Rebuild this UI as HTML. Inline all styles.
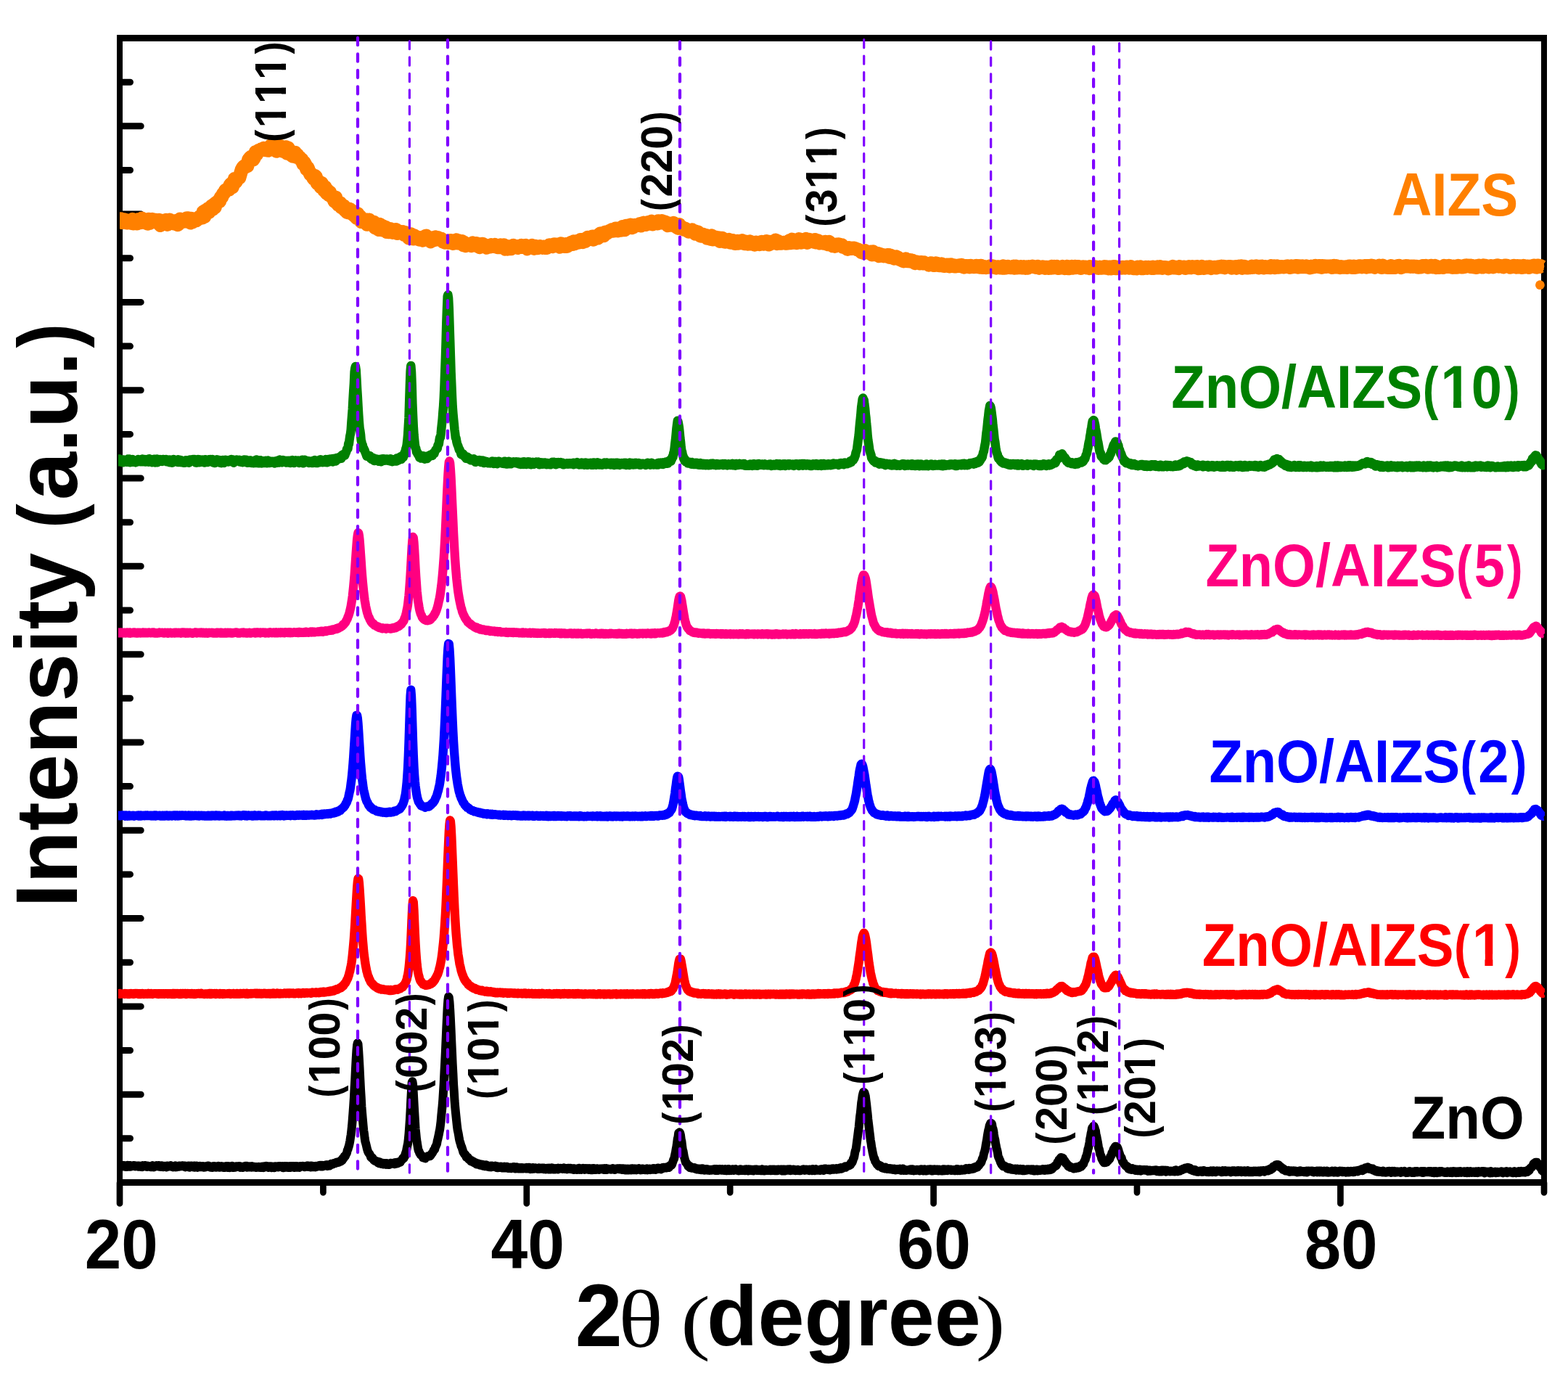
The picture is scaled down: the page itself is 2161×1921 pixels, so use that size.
<!DOCTYPE html>
<html lang="en"><head><meta charset="utf-8"><title>XRD patterns</title>
<style>
html,body{margin:0;padding:0;background:#fff;}
body{width:2161px;height:1921px;overflow:hidden;}
svg{display:block;}
text{font-kerning:none;}
</style></head><body>
<svg width="2161" height="1921" viewBox="0 0 2161 1921">
<rect width="2161" height="1921" fill="#fff"/>
<g fill="#000">
<rect x="161.0" y="48.0" width="1971.0" height="9.0"/>
<rect x="161.0" y="1625.0" width="1971.0" height="9.0"/>
<rect x="161.0" y="48.0" width="8.0" height="1586.0"/>
<rect x="2124.0" y="48.0" width="8.0" height="1586.0"/>
</g>
<path d="M166.5 113.2H179.5M166.5 173.8H194.2M166.5 234.5H179.5M166.5 295.1H194.2M166.5 355.8H179.5M166.5 416.4H194.2M166.5 477.1H179.5M166.5 537.7H194.2M166.5 598.4H179.5M166.5 659.0H194.2M166.5 719.7H179.5M166.5 780.3H194.2M166.5 841.0H179.5M166.5 901.7H194.2M166.5 962.3H179.5M166.5 1023.0H194.2M166.5 1083.6H179.5M166.5 1144.3H194.2M166.5 1204.9H179.5M166.5 1265.6H194.2M166.5 1326.2H179.5M166.5 1386.9H194.2M166.5 1447.5H179.5M166.5 1508.2H194.2M166.5 1568.8H179.5" stroke="#000" stroke-width="9" stroke-linecap="round" fill="none"/>
<path d="M165.0 1630.0V1658.5M445.4 1630.0V1643.3M725.8 1630.0V1658.5M1006.2 1630.0V1643.3M1286.6 1630.0V1658.5M1567.0 1630.0V1643.3M1847.4 1630.0V1658.5M2128.0 1630.0V1643.3" stroke="#000" stroke-width="8.7" stroke-linecap="round" fill="none"/>
<clipPath id="cc"><rect x="163" y="0" width="1966" height="1921"/></clipPath><clipPath id="co"><rect x="165" y="0" width="1970" height="1921"/></clipPath>
<g clip-path="url(#cc)">
<path d="M161.0 1606.4L161.7 1606.0L162.4 1607.2L163.1 1605.8L163.8 1606.9L164.5 1606.5L165.2 1605.7L165.9 1606.8L166.6 1605.7L167.3 1606.7L168.0 1605.8L168.7 1605.9L169.4 1606.7L170.1 1607.6L170.8 1605.9L171.5 1606.2L172.2 1607.2L172.9 1607.9L173.6 1607.1L174.3 1606.6L175.0 1608.0L175.7 1605.8L176.4 1607.8L177.1 1606.4L177.8 1606.1L178.5 1606.0L179.2 1606.5L179.9 1607.7L180.6 1606.2L181.3 1607.1L182.0 1607.3L182.7 1606.6L183.4 1607.1L184.1 1605.9L184.8 1605.9L185.5 1606.3L186.2 1607.4L186.9 1606.8L187.6 1606.6L188.3 1607.2L189.0 1606.9L189.7 1606.5L190.4 1607.7L191.1 1607.5L191.8 1606.4L192.5 1607.2L193.2 1607.0L193.9 1607.9L194.6 1607.6L195.3 1606.5L196.0 1608.2L196.7 1606.1L197.4 1606.8L198.1 1607.6L198.8 1606.2L199.5 1607.0L200.2 1605.9L200.9 1607.5L201.6 1607.7L202.3 1607.2L203.0 1608.0L203.7 1606.6L204.4 1607.6L205.1 1607.3L205.8 1607.3L206.5 1607.0L207.2 1607.9L207.9 1608.2L208.6 1607.1L209.3 1607.5L210.0 1606.1L210.7 1607.6L211.4 1607.5L212.1 1608.3L212.8 1607.9L213.5 1606.6L214.2 1606.9L214.9 1607.6L215.6 1606.0L216.3 1607.1L217.0 1606.4L217.7 1606.3L218.4 1606.1L219.1 1607.8L219.8 1606.3L220.5 1606.6L221.2 1607.0L221.9 1608.1L222.6 1606.2L223.3 1607.1L224.0 1607.4L224.7 1608.2L225.4 1608.0L226.1 1608.1L226.8 1606.7L227.5 1607.1L228.2 1606.9L228.9 1608.2L229.6 1608.4L230.3 1606.5L231.0 1606.5L231.7 1606.7L232.4 1606.7L233.1 1607.3L233.8 1607.5L234.5 1606.8L235.2 1606.1L235.9 1607.1L236.6 1607.0L237.3 1607.5L238.0 1608.4L238.7 1607.8L239.4 1607.4L240.1 1607.7L240.8 1607.8L241.5 1606.3L242.2 1608.4L242.9 1608.1L243.6 1608.3L244.3 1608.1L245.0 1607.2L245.7 1607.2L246.4 1606.5L247.1 1607.8L247.8 1606.4L248.5 1606.4L249.2 1606.7L249.9 1606.6L250.6 1607.1L251.3 1606.4L252.0 1606.3L252.7 1606.6L253.4 1606.5L254.1 1607.2L254.8 1606.4L255.5 1608.4L256.2 1607.8L256.9 1606.7L257.6 1606.9L258.3 1607.2L259.0 1607.2L259.7 1606.6L260.4 1608.4L261.1 1608.7L261.8 1607.5L262.5 1607.5L263.2 1606.6L263.9 1606.6L264.6 1607.2L265.3 1607.0L266.0 1608.4L266.7 1606.8L267.4 1606.4L268.1 1608.7L268.8 1607.7L269.5 1606.7L270.2 1607.7L270.9 1606.5L271.6 1607.7L272.3 1608.8L273.0 1608.5L273.7 1608.1L274.4 1607.1L275.1 1607.3L275.8 1606.8L276.5 1608.3L277.2 1607.7L277.9 1608.3L278.6 1607.3L279.3 1607.0L280.0 1608.4L280.7 1608.8L281.4 1608.5L282.1 1608.4L282.8 1608.5L283.5 1608.3L284.2 1607.0L284.9 1607.7L285.6 1607.4L286.3 1606.6L287.0 1606.6L287.7 1607.2L288.4 1607.2L289.1 1608.2L289.8 1608.8L290.5 1607.6L291.2 1608.8L291.9 1608.9L292.6 1608.9L293.3 1607.4L294.0 1607.1L294.7 1607.1L295.4 1607.1L296.1 1607.1L296.8 1608.1L297.5 1608.8L298.2 1608.6L298.9 1607.8L299.6 1608.2L300.3 1608.5L301.0 1606.8L301.7 1608.2L302.4 1608.8L303.1 1608.5L303.8 1608.4L304.5 1607.8L305.2 1607.1L305.9 1608.6L306.6 1607.5L307.3 1608.6L308.0 1609.0L308.7 1607.6L309.4 1607.6L310.1 1609.0L310.8 1608.4L311.5 1607.1L312.2 1607.0L312.9 1607.1L313.6 1608.9L314.3 1608.7L315.0 1607.1L315.7 1608.7L316.4 1609.1L317.1 1608.3L317.8 1607.6L318.5 1607.9L319.2 1606.9L319.9 1606.7L320.6 1609.0L321.3 1608.2L322.0 1607.9L322.7 1608.9L323.4 1607.7L324.1 1608.8L324.8 1608.6L325.5 1607.2L326.2 1607.3L326.9 1607.4L327.6 1607.3L328.3 1608.1L329.0 1607.3L329.7 1607.7L330.4 1607.0L331.1 1608.9L331.8 1607.6L332.5 1607.8L333.2 1608.1L333.9 1608.9L334.6 1607.7L335.3 1608.9L336.0 1607.9L336.7 1608.0L337.4 1608.0L338.1 1606.8L338.8 1607.8L339.5 1607.2L340.2 1606.8L340.9 1608.7L341.6 1607.2L342.3 1607.9L343.0 1608.5L343.7 1608.1L344.4 1607.5L345.1 1608.0L345.8 1608.1L346.5 1608.7L347.2 1607.0L347.9 1608.1L348.6 1607.4L349.3 1607.4L350.0 1608.6L350.7 1608.0L351.4 1608.1L352.1 1608.6L352.8 1609.0L353.5 1607.9L354.2 1608.3L354.9 1608.0L355.6 1608.0L356.3 1608.5L357.0 1607.9L357.7 1608.1L358.4 1608.0L359.1 1609.1L359.8 1608.5L360.5 1608.9L361.2 1609.1L361.9 1607.4L362.6 1608.2L363.3 1609.1L364.0 1608.8L364.7 1607.2L365.4 1607.1L366.1 1607.9L366.8 1607.0L367.5 1607.4L368.2 1607.0L368.9 1608.4L369.6 1608.7L370.3 1609.0L371.0 1607.2L371.7 1608.6L372.4 1608.4L373.1 1607.2L373.8 1609.0L374.5 1609.2L375.2 1607.4L375.9 1609.1L376.6 1607.8L377.3 1608.0L378.0 1609.2L378.7 1608.8L379.4 1607.2L380.1 1607.9L380.8 1608.1L381.5 1607.7L382.2 1607.3L382.9 1607.6L383.6 1608.6L384.3 1606.9L385.0 1608.2L385.7 1607.9L386.4 1606.9L387.1 1607.6L387.8 1608.3L388.5 1608.1L389.2 1607.0L389.9 1609.2L390.6 1608.7L391.3 1609.2L392.0 1607.1L392.7 1607.5L393.4 1606.9L394.1 1608.7L394.8 1607.5L395.5 1607.1L396.2 1607.8L396.9 1609.0L397.6 1608.8L398.3 1607.4L399.0 1607.1L399.7 1609.0L400.4 1608.1L401.1 1608.5L401.8 1607.0L402.5 1606.9L403.2 1608.4L403.9 1607.8L404.6 1606.9L405.3 1609.0L406.0 1608.3L406.7 1608.6L407.4 1606.9L408.1 1608.8L408.8 1606.9L409.5 1608.8L410.2 1607.8L410.9 1607.5L411.6 1608.0L412.3 1608.9L413.0 1607.3L413.7 1606.9L414.4 1607.9L415.1 1607.2L415.8 1606.9L416.5 1607.0L417.2 1606.7L417.9 1607.0L418.6 1607.3L419.3 1607.3L420.0 1608.3L420.7 1607.2L421.4 1607.7L422.1 1606.9L422.8 1607.3L423.5 1606.5L424.2 1607.0L424.9 1606.4L425.6 1608.1L426.3 1607.7L427.0 1606.8L427.7 1607.5L428.4 1608.5L429.1 1606.5L429.8 1608.2L430.5 1607.3L431.2 1607.4L431.9 1608.2L432.6 1607.1L433.3 1607.3L434.0 1607.7L434.7 1608.4L435.4 1606.8L436.1 1608.0L436.8 1607.6L437.5 1607.4L438.2 1606.8L438.9 1606.6L439.6 1605.9L440.3 1606.0L441.0 1605.8L441.7 1607.4L442.4 1606.2L443.1 1605.9L443.8 1605.7L444.5 1607.4L445.2 1607.4L445.9 1606.9L446.6 1605.9L447.3 1605.7L448.0 1605.7L448.7 1606.1L449.4 1605.3L450.1 1605.9L450.8 1605.3L451.5 1606.9L452.2 1606.8L452.9 1605.7L453.6 1604.9L454.3 1606.5L455.0 1604.8L455.7 1604.7L456.4 1603.8L457.1 1604.5L457.8 1604.6L458.5 1604.5L459.2 1603.6L459.9 1604.1L460.6 1602.7L461.3 1603.1L462.0 1602.5L462.7 1603.0L463.4 1601.9L464.1 1601.5L464.8 1601.9L465.5 1601.4L466.2 1601.9L466.9 1601.4L467.6 1601.6L468.3 1600.9L469.0 1600.6L469.7 1600.5L470.4 1598.7L471.1 1598.0L471.8 1598.9L472.5 1596.2L473.2 1596.8L473.9 1595.7L474.6 1593.3L475.3 1594.1L476.0 1593.1L476.7 1591.1L477.4 1589.9L478.1 1588.4L478.8 1584.9L479.5 1583.7L480.2 1581.3L480.9 1579.3L481.6 1576.1L482.3 1572.6L483.0 1567.8L483.7 1563.8L484.4 1557.7L485.1 1551.2L485.8 1542.6L486.5 1533.4L487.2 1523.6L487.9 1512.8L488.6 1499.4L489.3 1487.4L490.0 1472.6L490.7 1459.3L491.4 1447.9L492.1 1440.4L492.8 1437.2L493.5 1438.7L494.2 1448.3L494.9 1459.6L495.6 1472.4L496.3 1486.6L497.0 1500.7L497.7 1511.9L498.4 1524.9L499.1 1533.8L499.8 1542.0L500.5 1550.0L501.2 1557.6L501.9 1561.9L502.6 1568.0L503.3 1572.7L504.0 1575.1L504.7 1577.9L505.4 1580.9L506.1 1583.8L506.8 1586.1L507.5 1587.6L508.2 1589.3L508.9 1589.4L509.6 1590.8L510.3 1592.3L511.0 1594.5L511.7 1594.4L512.4 1595.9L513.1 1595.3L513.8 1596.1L514.5 1597.2L515.2 1598.8L515.9 1599.4L516.6 1599.8L517.3 1599.3L518.0 1600.3L518.7 1600.5L519.4 1600.8L520.1 1600.3L520.8 1602.5L521.5 1601.1L522.2 1603.2L522.9 1603.3L523.6 1601.3L524.3 1602.5L525.0 1603.6L525.7 1604.1L526.4 1603.0L527.1 1602.7L527.8 1602.7L528.5 1604.5L529.2 1602.9L529.9 1603.8L530.6 1602.9L531.3 1603.9L532.0 1604.9L532.7 1603.0L533.4 1604.7L534.1 1604.0L534.8 1604.9L535.5 1604.5L536.2 1603.4L536.9 1604.9L537.6 1603.9L538.3 1602.8L539.0 1602.7L539.7 1603.8L540.4 1603.7L541.1 1603.3L541.8 1602.8L542.5 1603.2L543.2 1603.0L543.9 1604.2L544.6 1602.0L545.3 1603.7L546.0 1603.7L546.7 1601.8L547.4 1603.5L548.1 1602.8L548.8 1603.0L549.5 1601.2L550.2 1601.1L550.9 1600.7L551.6 1601.8L552.3 1600.3L553.0 1599.2L553.7 1598.7L554.4 1597.7L555.1 1596.3L555.8 1595.5L556.5 1596.2L557.2 1593.6L557.9 1593.7L558.6 1590.3L559.3 1588.2L560.0 1586.3L560.7 1582.4L561.4 1579.1L562.1 1575.9L562.8 1569.9L563.5 1562.6L564.2 1553.3L564.9 1543.1L565.6 1530.4L566.3 1515.6L567.0 1502.8L567.7 1491.6L568.4 1490.3L569.1 1494.5L569.8 1506.0L570.5 1519.3L571.2 1531.9L571.9 1543.4L572.6 1555.6L573.3 1561.8L574.0 1569.2L574.7 1574.1L575.4 1578.2L576.1 1582.6L576.8 1585.8L577.5 1586.3L578.2 1589.0L578.9 1589.6L579.6 1591.4L580.3 1592.0L581.0 1592.2L581.7 1592.8L582.4 1593.4L583.1 1595.5L583.8 1594.8L584.5 1594.3L585.2 1596.1L585.9 1596.3L586.6 1595.0L587.3 1594.2L588.0 1594.1L588.7 1593.7L589.4 1594.0L590.1 1593.1L590.8 1593.1L591.5 1592.7L592.2 1592.9L592.9 1593.1L593.6 1592.1L594.3 1590.6L595.0 1589.8L595.7 1589.2L596.4 1587.9L597.1 1586.7L597.8 1584.9L598.5 1584.1L599.2 1584.2L599.9 1580.6L600.6 1579.7L601.3 1578.0L602.0 1576.4L602.7 1572.3L603.4 1569.7L604.1 1566.5L604.8 1563.4L605.5 1559.6L606.2 1556.4L606.9 1551.2L607.6 1545.6L608.3 1537.2L609.0 1530.0L609.7 1523.4L610.4 1514.5L611.1 1503.0L611.8 1491.5L612.5 1476.9L613.2 1463.5L613.9 1449.4L614.6 1433.1L615.3 1417.1L616.0 1402.3L616.7 1387.8L617.4 1378.1L618.1 1373.4L618.8 1374.7L619.5 1380.6L620.2 1391.2L620.9 1404.0L621.6 1419.1L622.3 1435.5L623.0 1450.8L623.7 1466.4L624.4 1479.4L625.1 1494.2L625.8 1504.5L626.5 1516.6L627.2 1525.1L627.9 1532.4L628.6 1539.2L629.3 1545.8L630.0 1552.4L630.7 1557.5L631.4 1560.5L632.1 1564.3L632.8 1568.9L633.5 1572.1L634.2 1574.5L634.9 1576.6L635.6 1579.8L636.3 1580.4L637.0 1582.9L637.7 1585.0L638.4 1587.8L639.1 1588.4L639.8 1590.3L640.5 1590.5L641.2 1591.0L641.9 1592.0L642.6 1594.7L643.3 1594.9L644.0 1594.7L644.7 1594.8L645.4 1596.6L646.1 1597.7L646.8 1597.7L647.5 1597.8L648.2 1599.3L648.9 1600.4L649.6 1599.2L650.3 1599.2L651.0 1600.3L651.7 1600.9L652.4 1601.9L653.1 1601.1L653.8 1602.8L654.5 1603.0L655.2 1602.7L655.9 1602.3L656.6 1604.4L657.3 1603.0L658.0 1604.5L658.7 1603.3L659.4 1603.5L660.1 1605.0L660.8 1604.1L661.5 1605.8L662.2 1604.9L662.9 1604.3L663.6 1604.6L664.3 1605.2L665.0 1605.9L665.7 1606.8L666.4 1605.0L667.1 1605.7L667.8 1605.4L668.5 1607.3L669.2 1605.4L669.9 1605.3L670.6 1605.5L671.3 1606.4L672.0 1607.7L672.7 1607.7L673.4 1607.5L674.1 1608.2L674.8 1608.1L675.5 1606.8L676.2 1606.5L676.9 1608.4L677.6 1608.0L678.3 1606.4L679.0 1607.9L679.7 1607.3L680.4 1607.4L681.1 1607.3L681.8 1607.0L682.5 1606.7L683.2 1607.4L683.9 1607.6L684.6 1609.1L685.3 1607.2L686.0 1609.3L686.7 1607.5L687.4 1607.9L688.1 1609.1L688.8 1609.1L689.5 1608.2L690.2 1607.4L690.9 1608.4L691.6 1608.2L692.3 1609.6L693.0 1607.9L693.7 1608.3L694.4 1609.6L695.1 1607.6L695.8 1608.6L696.5 1609.6L697.2 1609.5L697.9 1607.8L698.6 1607.8L699.3 1607.9L700.0 1610.0L700.7 1608.4L701.4 1609.6L702.1 1610.0L702.8 1608.7L703.5 1608.6L704.2 1610.2L704.9 1609.5L705.6 1608.6L706.3 1609.8L707.0 1608.8L707.7 1608.7L708.4 1608.1L709.1 1609.9L709.8 1610.4L710.5 1609.7L711.2 1610.5L711.9 1608.3L712.6 1608.8L713.3 1609.4L714.0 1610.6L714.7 1610.6L715.4 1609.3L716.1 1609.0L716.8 1609.4L717.5 1609.6L718.2 1610.6L718.9 1608.9L719.6 1610.4L720.3 1610.3L721.0 1610.5L721.7 1610.4L722.4 1610.0L723.1 1609.3L723.8 1609.3L724.5 1609.5L725.2 1610.5L725.9 1608.8L726.6 1609.1L727.3 1610.5L728.0 1609.3L728.7 1608.8L729.4 1608.8L730.1 1610.0L730.8 1609.5L731.5 1611.1L732.2 1610.9L732.9 1611.1L733.6 1609.4L734.3 1609.0L735.0 1609.0L735.7 1610.0L736.4 1610.5L737.1 1609.9L737.8 1609.4L738.5 1609.9L739.2 1610.4L739.9 1610.5L740.6 1610.7L741.3 1611.0L742.0 1610.5L742.7 1609.3L743.4 1611.0L744.1 1609.7L744.8 1610.4L745.5 1609.9L746.2 1610.8L746.9 1609.5L747.6 1609.6L748.3 1609.6L749.0 1609.4L749.7 1611.2L750.4 1610.5L751.1 1609.9L751.8 1610.1L752.5 1611.5L753.2 1610.3L753.9 1609.7L754.6 1611.1L755.3 1610.7L756.0 1611.6L756.7 1609.4L757.4 1610.3L758.1 1611.2L758.8 1611.2L759.5 1611.4L760.2 1609.3L760.9 1609.9L761.6 1609.5L762.3 1609.7L763.0 1611.6L763.7 1610.7L764.4 1611.5L765.1 1610.2L765.8 1611.4L766.5 1610.4L767.2 1609.9L767.9 1611.2L768.6 1611.6L769.3 1609.6L770.0 1610.8L770.7 1610.9L771.4 1609.9L772.1 1610.3L772.8 1609.7L773.5 1609.9L774.2 1610.0L774.9 1610.9L775.6 1611.0L776.3 1609.9L777.0 1609.5L777.7 1610.2L778.4 1611.1L779.1 1609.9L779.8 1610.2L780.5 1610.0L781.2 1611.4L781.9 1610.8L782.6 1609.7L783.3 1609.8L784.0 1610.5L784.7 1610.8L785.4 1611.1L786.1 1609.8L786.8 1609.9L787.5 1611.2L788.2 1610.5L788.9 1610.2L789.6 1610.3L790.3 1611.9L791.0 1610.3L791.7 1611.0L792.4 1610.5L793.1 1610.7L793.8 1611.7L794.5 1612.1L795.2 1610.6L795.9 1610.2L796.6 1611.4L797.3 1610.2L798.0 1609.7L798.7 1611.9L799.4 1610.7L800.1 1611.7L800.8 1610.7L801.5 1611.9L802.2 1610.9L802.9 1610.1L803.6 1609.8L804.3 1611.1L805.0 1611.3L805.7 1612.0L806.4 1610.0L807.1 1611.3L807.8 1610.7L808.5 1611.0L809.2 1610.2L809.9 1610.5L810.6 1611.1L811.3 1612.0L812.0 1610.1L812.7 1611.0L813.4 1611.8L814.1 1612.2L814.8 1610.3L815.5 1610.2L816.2 1612.1L816.9 1612.2L817.6 1611.0L818.3 1610.0L819.0 1612.1L819.7 1610.8L820.4 1612.1L821.1 1611.4L821.8 1611.9L822.5 1610.3L823.2 1611.8L823.9 1610.5L824.6 1610.9L825.3 1612.0L826.0 1611.9L826.7 1610.4L827.4 1610.5L828.1 1610.9L828.8 1611.2L829.5 1610.9L830.2 1610.3L830.9 1610.6L831.6 1611.7L832.3 1612.1L833.0 1610.1L833.7 1611.3L834.4 1611.8L835.1 1610.1L835.8 1612.0L836.5 1610.3L837.2 1611.4L837.9 1611.3L838.6 1611.5L839.3 1610.8L840.0 1611.0L840.7 1611.4L841.4 1611.1L842.1 1611.6L842.8 1611.1L843.5 1611.1L844.2 1610.1L844.9 1611.5L845.6 1611.2L846.3 1610.6L847.0 1611.9L847.7 1611.9L848.4 1611.2L849.1 1610.5L849.8 1611.2L850.5 1610.3L851.2 1610.4L851.9 1611.1L852.6 1610.3L853.3 1611.2L854.0 1611.3L854.7 1610.2L855.4 1611.6L856.1 1610.3L856.8 1611.9L857.5 1612.0L858.2 1611.3L858.9 1610.2L859.6 1611.3L860.3 1611.0L861.0 1612.4L861.7 1610.5L862.4 1612.2L863.1 1612.5L863.8 1611.9L864.5 1612.1L865.2 1610.6L865.9 1612.5L866.6 1611.3L867.3 1612.4L868.0 1612.3L868.7 1610.6L869.4 1612.1L870.1 1612.4L870.8 1610.3L871.5 1611.0L872.2 1612.0L872.9 1610.5L873.6 1612.3L874.3 1610.8L875.0 1612.1L875.7 1610.5L876.4 1611.4L877.1 1612.4L877.8 1610.7L878.5 1610.8L879.2 1611.4L879.9 1610.9L880.6 1610.2L881.3 1610.6L882.0 1610.5L882.7 1612.4L883.4 1611.8L884.1 1612.3L884.8 1610.5L885.5 1612.0L886.2 1610.4L886.9 1611.4L887.6 1611.6L888.3 1611.0L889.0 1612.2L889.7 1611.4L890.4 1611.5L891.1 1612.2L891.8 1610.3L892.5 1612.4L893.2 1611.5L893.9 1610.9L894.6 1611.9L895.3 1610.6L896.0 1612.3L896.7 1611.3L897.4 1610.8L898.1 1611.7L898.8 1611.0L899.5 1610.3L900.2 1611.6L900.9 1609.9L901.6 1611.8L902.3 1610.4L903.0 1611.3L903.7 1612.1L904.4 1611.1L905.1 1611.2L905.8 1610.4L906.5 1609.6L907.2 1609.6L907.9 1609.8L908.6 1610.9L909.3 1610.4L910.0 1610.5L910.7 1611.4L911.4 1609.5L912.1 1609.7L912.8 1610.6L913.5 1609.0L914.2 1608.8L914.9 1609.6L915.6 1608.9L916.3 1609.3L917.0 1608.9L917.7 1609.6L918.4 1609.5L919.1 1608.4L919.8 1609.2L920.5 1608.5L921.2 1607.4L921.9 1609.0L922.6 1606.9L923.3 1606.2L924.0 1605.5L924.7 1606.1L925.4 1605.9L926.1 1604.6L926.8 1602.4L927.5 1600.6L928.2 1598.1L928.9 1597.3L929.6 1594.4L930.3 1590.8L931.0 1587.9L931.7 1583.4L932.4 1580.1L933.1 1575.0L933.8 1569.3L934.5 1566.7L935.2 1561.4L935.9 1560.8L936.6 1560.3L937.3 1561.5L938.0 1564.2L938.7 1570.0L939.4 1572.7L940.1 1578.6L940.8 1584.0L941.5 1586.2L942.2 1590.0L942.9 1594.2L943.6 1596.7L944.3 1599.4L945.0 1601.7L945.7 1601.8L946.4 1603.4L947.1 1604.5L947.8 1604.8L948.5 1607.5L949.2 1607.8L949.9 1608.2L950.6 1606.9L951.3 1609.3L952.0 1609.3L952.7 1608.9L953.4 1609.8L954.1 1609.3L954.8 1609.0L955.5 1608.9L956.2 1609.3L956.9 1609.0L957.6 1609.9L958.3 1611.0L959.0 1611.0L959.7 1611.4L960.4 1611.2L961.1 1610.2L961.8 1611.0L962.5 1610.8L963.2 1611.7L963.9 1611.1L964.6 1610.5L965.3 1611.5L966.0 1612.3L966.7 1610.6L967.4 1612.2L968.1 1610.2L968.8 1610.8L969.5 1610.8L970.2 1612.1L970.9 1612.6L971.6 1612.1L972.3 1611.2L973.0 1612.5L973.7 1611.2L974.4 1611.0L975.1 1612.7L975.8 1612.0L976.5 1612.2L977.2 1612.1L977.9 1612.9L978.6 1611.7L979.3 1612.6L980.0 1612.3L980.7 1612.7L981.4 1611.7L982.1 1612.4L982.8 1612.1L983.5 1611.5L984.2 1611.2L984.9 1612.2L985.6 1611.0L986.3 1613.0L987.0 1611.1L987.7 1610.9L988.4 1611.1L989.1 1613.1L989.8 1611.7L990.5 1611.2L991.2 1610.9L991.9 1611.0L992.6 1612.5L993.3 1612.4L994.0 1612.6L994.7 1612.7L995.4 1611.1L996.1 1612.4L996.8 1611.8L997.5 1612.9L998.2 1612.9L998.9 1613.1L999.6 1611.1L1000.3 1613.1L1001.0 1613.2L1001.7 1613.3L1002.4 1611.3L1003.1 1611.5L1003.8 1611.3L1004.5 1611.1L1005.2 1613.1L1005.9 1613.0L1006.6 1612.6L1007.3 1613.0L1008.0 1612.6L1008.7 1611.7L1009.4 1611.3L1010.1 1611.3L1010.8 1612.9L1011.5 1611.6L1012.2 1611.8L1012.9 1612.1L1013.6 1611.1L1014.3 1611.7L1015.0 1611.8L1015.7 1612.8L1016.4 1612.0L1017.1 1611.9L1017.8 1613.4L1018.5 1612.3L1019.2 1613.2L1019.9 1612.6L1020.6 1611.2L1021.3 1612.1L1022.0 1612.2L1022.7 1613.0L1023.4 1612.0L1024.1 1612.8L1024.8 1612.4L1025.5 1611.7L1026.2 1613.2L1026.9 1611.4L1027.6 1613.1L1028.3 1611.6L1029.0 1611.2L1029.7 1611.6L1030.4 1613.0L1031.1 1613.5L1031.8 1611.2L1032.5 1612.3L1033.2 1612.3L1033.9 1613.1L1034.6 1611.6L1035.3 1612.4L1036.0 1612.0L1036.7 1613.2L1037.4 1611.8L1038.1 1613.4L1038.8 1611.9L1039.5 1611.7L1040.2 1612.9L1040.9 1612.4L1041.6 1611.5L1042.3 1612.7L1043.0 1611.4L1043.7 1613.1L1044.4 1612.9L1045.1 1613.1L1045.8 1612.7L1046.5 1612.1L1047.2 1612.2L1047.9 1612.1L1048.6 1613.3L1049.3 1611.4L1050.0 1613.3L1050.7 1611.3L1051.4 1611.7L1052.1 1611.8L1052.8 1613.4L1053.5 1612.4L1054.2 1612.1L1054.9 1613.3L1055.6 1611.8L1056.3 1612.3L1057.0 1612.5L1057.7 1613.0L1058.4 1613.0L1059.1 1612.8L1059.8 1612.1L1060.5 1612.0L1061.2 1611.6L1061.9 1613.2L1062.6 1612.8L1063.3 1613.0L1064.0 1611.6L1064.7 1612.3L1065.4 1613.1L1066.1 1612.6L1066.8 1611.5L1067.5 1612.3L1068.2 1613.3L1068.9 1611.8L1069.6 1611.7L1070.3 1611.9L1071.0 1612.9L1071.7 1613.2L1072.4 1611.6L1073.1 1611.6L1073.8 1611.8L1074.5 1612.0L1075.2 1612.4L1075.9 1611.6L1076.6 1612.0L1077.3 1611.6L1078.0 1613.5L1078.7 1612.9L1079.4 1611.4L1080.1 1613.5L1080.8 1611.4L1081.5 1612.1L1082.2 1613.5L1082.9 1613.1L1083.6 1612.9L1084.3 1612.2L1085.0 1611.6L1085.7 1612.7L1086.4 1611.4L1087.1 1611.7L1087.8 1612.1L1088.5 1611.3L1089.2 1612.1L1089.9 1613.1L1090.6 1612.8L1091.3 1612.4L1092.0 1612.7L1092.7 1612.3L1093.4 1611.5L1094.1 1612.6L1094.8 1612.1L1095.5 1612.9L1096.2 1613.3L1096.9 1612.2L1097.6 1612.5L1098.3 1612.9L1099.0 1612.1L1099.7 1611.7L1100.4 1612.9L1101.1 1613.2L1101.8 1613.0L1102.5 1612.8L1103.2 1613.2L1103.9 1612.7L1104.6 1612.6L1105.3 1612.2L1106.0 1611.8L1106.7 1612.6L1107.4 1611.3L1108.1 1612.1L1108.8 1612.9L1109.5 1612.8L1110.2 1612.6L1110.9 1611.6L1111.6 1612.1L1112.3 1612.1L1113.0 1612.5L1113.7 1612.0L1114.4 1612.6L1115.1 1613.2L1115.8 1611.4L1116.5 1612.6L1117.2 1612.8L1117.9 1611.9L1118.6 1612.1L1119.3 1613.3L1120.0 1611.0L1120.7 1612.2L1121.4 1611.3L1122.1 1612.8L1122.8 1613.2L1123.5 1612.1L1124.2 1611.1L1124.9 1612.2L1125.6 1612.1L1126.3 1612.6L1127.0 1612.0L1127.7 1612.3L1128.4 1612.8L1129.1 1612.0L1129.8 1611.7L1130.5 1613.0L1131.2 1611.2L1131.9 1612.3L1132.6 1611.6L1133.3 1612.5L1134.0 1610.9L1134.7 1613.0L1135.4 1611.4L1136.1 1610.7L1136.8 1611.2L1137.5 1611.5L1138.2 1610.5L1138.9 1611.5L1139.6 1611.4L1140.3 1612.1L1141.0 1611.2L1141.7 1611.0L1142.4 1610.8L1143.1 1612.0L1143.8 1612.5L1144.5 1611.5L1145.2 1610.7L1145.9 1612.0L1146.6 1611.0L1147.3 1610.5L1148.0 1610.3L1148.7 1611.8L1149.4 1611.8L1150.1 1611.3L1150.8 1610.9L1151.5 1611.0L1152.2 1610.1L1152.9 1611.8L1153.6 1610.3L1154.3 1610.9L1155.0 1611.3L1155.7 1611.2L1156.4 1610.2L1157.1 1609.7L1157.8 1610.2L1158.5 1609.1L1159.2 1610.7L1159.9 1609.4L1160.6 1610.4L1161.3 1608.9L1162.0 1609.0L1162.7 1608.5L1163.4 1608.8L1164.1 1608.0L1164.8 1607.3L1165.5 1608.8L1166.2 1607.5L1166.9 1607.2L1167.6 1607.0L1168.3 1607.1L1169.0 1606.6L1169.7 1606.6L1170.4 1606.2L1171.1 1604.9L1171.8 1605.6L1172.5 1604.6L1173.2 1601.8L1173.9 1602.6L1174.6 1601.5L1175.3 1599.7L1176.0 1596.4L1176.7 1596.0L1177.4 1593.2L1178.1 1589.0L1178.8 1585.8L1179.5 1584.5L1180.2 1579.8L1180.9 1574.3L1181.6 1569.0L1182.3 1563.7L1183.0 1558.1L1183.7 1553.3L1184.4 1545.8L1185.1 1538.7L1185.8 1533.9L1186.5 1527.1L1187.2 1519.5L1187.9 1515.7L1188.6 1510.4L1189.3 1507.3L1190.0 1505.0L1190.7 1505.0L1191.4 1505.7L1192.1 1508.3L1192.8 1510.6L1193.5 1516.7L1194.2 1522.1L1194.9 1528.8L1195.6 1534.7L1196.3 1542.4L1197.0 1548.2L1197.7 1553.9L1198.4 1559.9L1199.1 1565.3L1199.8 1571.5L1200.5 1575.2L1201.2 1580.6L1201.9 1583.7L1202.6 1587.9L1203.3 1591.0L1204.0 1593.7L1204.7 1596.8L1205.4 1596.7L1206.1 1600.3L1206.8 1600.9L1207.5 1602.3L1208.2 1603.6L1208.9 1604.9L1209.6 1604.5L1210.3 1605.3L1211.0 1607.1L1211.7 1605.5L1212.4 1607.2L1213.1 1607.6L1213.8 1606.5L1214.5 1608.2L1215.2 1608.6L1215.9 1609.5L1216.6 1608.3L1217.3 1610.0L1218.0 1609.1L1218.7 1609.2L1219.4 1610.4L1220.1 1608.5L1220.8 1610.3L1221.5 1610.2L1222.2 1609.6L1222.9 1611.0L1223.6 1609.9L1224.3 1610.3L1225.0 1610.5L1225.7 1611.2L1226.4 1609.9L1227.1 1610.6L1227.8 1610.6L1228.5 1611.0L1229.2 1611.7L1229.9 1610.5L1230.6 1611.9L1231.3 1610.9L1232.0 1611.2L1232.7 1610.7L1233.4 1611.3L1234.1 1612.5L1234.8 1611.8L1235.5 1612.2L1236.2 1611.1L1236.9 1611.1L1237.6 1611.1L1238.3 1611.8L1239.0 1612.0L1239.7 1612.4L1240.4 1610.6L1241.1 1612.3L1241.8 1612.7L1242.5 1611.9L1243.2 1610.8L1243.9 1611.4L1244.6 1610.7L1245.3 1611.2L1246.0 1613.0L1246.7 1612.2L1247.4 1612.4L1248.1 1612.7L1248.8 1613.0L1249.5 1612.3L1250.2 1612.4L1250.9 1612.4L1251.6 1612.6L1252.3 1612.4L1253.0 1612.6L1253.7 1611.5L1254.4 1612.6L1255.1 1612.1L1255.8 1612.9L1256.5 1611.3L1257.2 1611.5L1257.9 1611.2L1258.6 1612.9L1259.3 1613.3L1260.0 1612.7L1260.7 1612.0L1261.4 1613.1L1262.1 1613.0L1262.8 1612.5L1263.5 1611.8L1264.2 1611.9L1264.9 1612.2L1265.6 1612.0L1266.3 1612.2L1267.0 1612.7L1267.7 1613.5L1268.4 1611.4L1269.1 1612.6L1269.8 1611.3L1270.5 1611.5L1271.2 1613.2L1271.9 1612.6L1272.6 1613.5L1273.3 1612.3L1274.0 1611.3L1274.7 1612.2L1275.4 1612.7L1276.1 1613.5L1276.8 1613.6L1277.5 1612.4L1278.2 1612.3L1278.9 1611.5L1279.6 1612.8L1280.3 1611.8L1281.0 1611.7L1281.7 1611.3L1282.4 1611.3L1283.1 1613.0L1283.8 1611.6L1284.5 1613.6L1285.2 1611.5L1285.9 1613.4L1286.6 1611.6L1287.3 1611.4L1288.0 1613.0L1288.7 1611.9L1289.4 1613.1L1290.1 1611.8L1290.8 1611.4L1291.5 1613.2L1292.2 1613.0L1292.9 1613.4L1293.6 1613.1L1294.3 1611.5L1295.0 1612.8L1295.7 1613.0L1296.4 1612.4L1297.1 1613.5L1297.8 1611.9L1298.5 1613.6L1299.2 1613.0L1299.9 1611.3L1300.6 1611.3L1301.3 1612.8L1302.0 1613.2L1302.7 1611.4L1303.4 1612.0L1304.1 1613.0L1304.8 1611.6L1305.5 1613.3L1306.2 1612.4L1306.9 1611.3L1307.6 1612.1L1308.3 1612.5L1309.0 1612.2L1309.7 1612.8L1310.4 1611.5L1311.1 1613.0L1311.8 1612.0L1312.5 1612.6L1313.2 1612.6L1313.9 1612.1L1314.6 1612.0L1315.3 1612.9L1316.0 1613.3L1316.7 1612.9L1317.4 1612.3L1318.1 1611.6L1318.8 1611.0L1319.5 1613.2L1320.2 1612.5L1320.9 1612.8L1321.6 1611.6L1322.3 1612.2L1323.0 1613.1L1323.7 1612.7L1324.4 1612.1L1325.1 1611.4L1325.8 1611.6L1326.5 1612.7L1327.2 1611.4L1327.9 1612.1L1328.6 1611.8L1329.3 1612.5L1330.0 1612.2L1330.7 1610.9L1331.4 1610.2L1332.1 1610.7L1332.8 1611.0L1333.5 1611.3L1334.2 1611.8L1334.9 1611.9L1335.6 1609.8L1336.3 1611.6L1337.0 1611.4L1337.7 1611.4L1338.4 1610.6L1339.1 1609.7L1339.8 1611.0L1340.5 1610.7L1341.2 1610.3L1341.9 1610.6L1342.6 1609.1L1343.3 1608.2L1344.0 1609.1L1344.7 1609.4L1345.4 1607.6L1346.1 1608.6L1346.8 1608.6L1347.5 1606.5L1348.2 1606.8L1348.9 1606.4L1349.6 1605.1L1350.3 1603.6L1351.0 1602.8L1351.7 1602.8L1352.4 1601.6L1353.1 1599.2L1353.8 1596.6L1354.5 1596.3L1355.2 1593.9L1355.9 1590.1L1356.6 1588.1L1357.3 1585.8L1358.0 1582.4L1358.7 1577.9L1359.4 1574.0L1360.1 1570.3L1360.8 1565.3L1361.5 1561.4L1362.2 1557.5L1362.9 1555.3L1363.6 1551.6L1364.3 1549.9L1365.0 1548.1L1365.7 1548.1L1366.4 1547.8L1367.1 1549.2L1367.8 1553.9L1368.5 1555.5L1369.2 1558.4L1369.9 1563.6L1370.6 1567.9L1371.3 1570.4L1372.0 1575.4L1372.7 1578.6L1373.4 1582.5L1374.1 1584.6L1374.8 1587.7L1375.5 1592.7L1376.2 1594.9L1376.9 1596.1L1377.6 1598.3L1378.3 1599.2L1379.0 1602.0L1379.7 1602.4L1380.4 1604.8L1381.1 1605.3L1381.8 1606.2L1382.5 1607.3L1383.2 1606.2L1383.9 1606.2L1384.6 1607.0L1385.3 1607.4L1386.0 1607.5L1386.7 1607.7L1387.4 1609.2L1388.1 1610.2L1388.8 1609.4L1389.5 1610.8L1390.2 1610.9L1390.9 1609.0L1391.6 1610.5L1392.3 1610.1L1393.0 1609.6L1393.7 1611.7L1394.4 1610.2L1395.1 1611.0L1395.8 1611.3L1396.5 1612.1L1397.2 1611.5L1397.9 1611.0L1398.6 1611.2L1399.3 1610.6L1400.0 1612.6L1400.7 1612.7L1401.4 1610.9L1402.1 1610.5L1402.8 1611.1L1403.5 1611.4L1404.2 1612.7L1404.9 1612.8L1405.6 1612.7L1406.3 1610.8L1407.0 1612.6L1407.7 1612.5L1408.4 1612.3L1409.1 1613.2L1409.8 1611.0L1410.5 1611.2L1411.2 1612.7L1411.9 1613.2L1412.6 1612.6L1413.3 1611.7L1414.0 1612.4L1414.7 1612.8L1415.4 1611.3L1416.1 1611.8L1416.8 1611.7L1417.5 1611.4L1418.2 1612.2L1418.9 1611.5L1419.6 1611.7L1420.3 1611.5L1421.0 1612.8L1421.7 1611.2L1422.4 1612.9L1423.1 1611.6L1423.8 1611.2L1424.5 1613.4L1425.2 1611.7L1425.9 1613.4L1426.6 1613.2L1427.3 1613.3L1428.0 1611.5L1428.7 1612.2L1429.4 1611.4L1430.1 1613.4L1430.8 1613.1L1431.5 1612.6L1432.2 1612.2L1432.9 1611.9L1433.6 1613.0L1434.3 1612.2L1435.0 1612.5L1435.7 1611.4L1436.4 1611.5L1437.1 1611.1L1437.8 1612.7L1438.5 1612.2L1439.2 1611.2L1439.9 1612.9L1440.6 1611.4L1441.3 1611.7L1442.0 1611.1L1442.7 1611.3L1443.4 1612.6L1444.1 1611.3L1444.8 1610.8L1445.5 1611.5L1446.2 1611.0L1446.9 1612.2L1447.6 1610.2L1448.3 1612.0L1449.0 1609.6L1449.7 1611.3L1450.4 1610.4L1451.1 1608.9L1451.8 1609.1L1452.5 1608.1L1453.2 1607.4L1453.9 1606.5L1454.6 1606.1L1455.3 1606.7L1456.0 1605.8L1456.7 1604.6L1457.4 1601.5L1458.1 1600.9L1458.8 1601.2L1459.5 1598.1L1460.2 1598.7L1460.9 1596.8L1461.6 1597.8L1462.3 1595.0L1463.0 1596.7L1463.7 1595.7L1464.4 1595.6L1465.1 1595.9L1465.8 1598.7L1466.5 1599.0L1467.2 1599.2L1467.9 1600.8L1468.6 1603.0L1469.3 1602.4L1470.0 1604.2L1470.7 1604.1L1471.4 1605.0L1472.1 1607.1L1472.8 1607.6L1473.5 1606.9L1474.2 1607.1L1474.9 1607.5L1475.6 1609.1L1476.3 1609.1L1477.0 1608.7L1477.7 1608.7L1478.4 1609.8L1479.1 1610.1L1479.8 1610.4L1480.5 1609.8L1481.2 1608.9L1481.9 1608.5L1482.6 1610.0L1483.3 1609.1L1484.0 1609.7L1484.7 1608.0L1485.4 1609.6L1486.1 1608.3L1486.8 1609.2L1487.5 1609.0L1488.2 1607.8L1488.9 1606.3L1489.6 1608.0L1490.3 1606.4L1491.0 1606.8L1491.7 1604.7L1492.4 1603.6L1493.1 1604.2L1493.8 1601.9L1494.5 1600.1L1495.2 1599.0L1495.9 1597.8L1496.6 1594.3L1497.3 1593.2L1498.0 1590.5L1498.7 1587.8L1499.4 1583.6L1500.1 1581.7L1500.8 1578.3L1501.5 1574.6L1502.2 1569.3L1502.9 1566.4L1503.6 1561.8L1504.3 1559.2L1505.0 1554.6L1505.7 1554.3L1506.4 1553.1L1507.1 1551.6L1507.8 1552.3L1508.5 1553.9L1509.2 1556.3L1509.9 1558.1L1510.6 1563.8L1511.3 1565.8L1512.0 1569.5L1512.7 1573.1L1513.4 1577.2L1514.1 1582.0L1514.8 1583.4L1515.5 1586.5L1516.2 1590.6L1516.9 1591.7L1517.6 1593.4L1518.3 1596.6L1519.0 1598.0L1519.7 1599.1L1520.4 1600.6L1521.1 1599.9L1521.8 1602.3L1522.5 1602.3L1523.2 1600.9L1523.9 1601.1L1524.6 1601.8L1525.3 1601.5L1526.0 1600.5L1526.7 1599.5L1527.4 1599.3L1528.1 1597.7L1528.8 1597.7L1529.5 1597.0L1530.2 1593.9L1530.9 1593.4L1531.6 1592.1L1532.3 1589.0L1533.0 1588.8L1533.7 1587.3L1534.4 1584.3L1535.1 1582.8L1535.8 1582.5L1536.5 1580.7L1537.2 1579.8L1537.9 1580.9L1538.6 1580.7L1539.3 1580.3L1540.0 1581.2L1540.7 1582.9L1541.4 1584.8L1542.1 1587.9L1542.8 1589.4L1543.5 1591.7L1544.2 1593.4L1544.9 1595.3L1545.6 1595.2L1546.3 1598.0L1547.0 1600.7L1547.7 1602.1L1548.4 1601.7L1549.1 1603.3L1549.8 1604.9L1550.5 1605.2L1551.2 1606.4L1551.9 1606.1L1552.6 1607.6L1553.3 1608.3L1554.0 1607.6L1554.7 1608.3L1555.4 1610.7L1556.1 1610.5L1556.8 1611.2L1557.5 1610.7L1558.2 1611.4L1558.9 1611.7L1559.6 1611.9L1560.3 1610.0L1561.0 1611.6L1561.7 1610.9L1562.4 1612.0L1563.1 1611.1L1563.8 1611.8L1564.5 1612.9L1565.2 1612.2L1565.9 1611.4L1566.6 1612.1L1567.3 1612.0L1568.0 1613.3L1568.7 1611.8L1569.4 1611.9L1570.1 1612.8L1570.8 1611.6L1571.5 1612.7L1572.2 1613.7L1572.9 1612.6L1573.6 1612.1L1574.3 1612.6L1575.0 1612.8L1575.7 1611.9L1576.4 1611.9L1577.1 1612.0L1577.8 1612.4L1578.5 1612.7L1579.2 1612.4L1579.9 1612.4L1580.6 1612.0L1581.3 1613.1L1582.0 1613.9L1582.7 1613.3L1583.4 1613.3L1584.1 1613.5L1584.8 1612.4L1585.5 1613.7L1586.2 1613.1L1586.9 1613.3L1587.6 1613.5L1588.3 1613.2L1589.0 1612.8L1589.7 1612.7L1590.4 1612.6L1591.1 1613.3L1591.8 1613.1L1592.5 1613.6L1593.2 1612.2L1593.9 1613.0L1594.6 1614.3L1595.3 1612.8L1596.0 1613.6L1596.7 1613.4L1597.4 1612.9L1598.1 1614.6L1598.8 1613.0L1599.5 1614.1L1600.2 1612.7L1600.9 1612.5L1601.6 1614.4L1602.3 1613.4L1603.0 1612.5L1603.7 1613.3L1604.4 1613.4L1605.1 1614.1L1605.8 1612.6L1606.5 1612.9L1607.2 1614.7L1607.9 1614.1L1608.6 1612.8L1609.3 1613.2L1610.0 1613.2L1610.7 1614.0L1611.4 1613.9L1612.1 1614.4L1612.8 1614.4L1613.5 1613.7L1614.2 1614.2L1614.9 1614.2L1615.6 1614.2L1616.3 1613.5L1617.0 1614.3L1617.7 1614.1L1618.4 1614.6L1619.1 1612.7L1619.8 1614.4L1620.5 1612.3L1621.2 1614.1L1621.9 1613.7L1622.6 1613.4L1623.3 1614.4L1624.0 1613.4L1624.7 1612.9L1625.4 1613.7L1626.1 1613.7L1626.8 1612.9L1627.5 1612.1L1628.2 1612.1L1628.9 1611.8L1629.6 1612.1L1630.3 1610.8L1631.0 1610.7L1631.7 1610.8L1632.4 1610.1L1633.1 1609.7L1633.8 1610.5L1634.5 1610.5L1635.2 1609.5L1635.9 1609.4L1636.6 1608.8L1637.3 1609.2L1638.0 1609.0L1638.7 1610.2L1639.4 1610.5L1640.1 1609.7L1640.8 1612.0L1641.5 1610.9L1642.2 1612.4L1642.9 1612.7L1643.6 1613.3L1644.3 1611.8L1645.0 1612.5L1645.7 1613.9L1646.4 1611.9L1647.1 1612.1L1647.8 1613.5L1648.5 1613.5L1649.2 1614.6L1649.9 1614.3L1650.6 1613.8L1651.3 1614.9L1652.0 1613.8L1652.7 1613.8L1653.4 1614.3L1654.1 1613.6L1654.8 1613.5L1655.5 1614.1L1656.2 1613.5L1656.9 1615.0L1657.6 1614.4L1658.3 1614.0L1659.0 1613.0L1659.7 1613.7L1660.4 1613.7L1661.1 1614.1L1661.8 1614.2L1662.5 1614.9L1663.2 1615.1L1663.9 1614.0L1664.6 1613.9L1665.3 1614.3L1666.0 1615.2L1666.7 1613.7L1667.4 1614.1L1668.1 1614.8L1668.8 1613.3L1669.5 1613.6L1670.2 1615.2L1670.9 1614.9L1671.6 1614.1L1672.3 1613.2L1673.0 1615.0L1673.7 1614.6L1674.4 1614.9L1675.1 1615.3L1675.8 1615.0L1676.5 1613.9L1677.2 1613.3L1677.9 1613.6L1678.6 1614.2L1679.3 1614.1L1680.0 1613.4L1680.7 1613.4L1681.4 1614.5L1682.1 1614.4L1682.8 1613.8L1683.5 1615.3L1684.2 1614.5L1684.9 1613.1L1685.6 1613.9L1686.3 1614.9L1687.0 1613.7L1687.7 1614.6L1688.4 1613.0L1689.1 1613.7L1689.8 1615.0L1690.5 1614.4L1691.2 1614.6L1691.9 1613.5L1692.6 1614.2L1693.3 1614.3L1694.0 1613.6L1694.7 1614.5L1695.4 1614.3L1696.1 1615.4L1696.8 1614.4L1697.5 1614.0L1698.2 1613.3L1698.9 1613.4L1699.6 1614.8L1700.3 1613.3L1701.0 1613.3L1701.7 1613.4L1702.4 1614.3L1703.1 1615.0L1703.8 1614.5L1704.5 1615.0L1705.2 1613.2L1705.9 1613.1L1706.6 1614.9L1707.3 1613.8L1708.0 1614.7L1708.7 1613.9L1709.4 1613.4L1710.1 1613.7L1710.8 1613.3L1711.5 1615.2L1712.2 1614.4L1712.9 1613.9L1713.6 1614.1L1714.3 1614.0L1715.0 1613.2L1715.7 1615.2L1716.4 1614.4L1717.1 1615.3L1717.8 1614.1L1718.5 1614.5L1719.2 1613.6L1719.9 1613.1L1720.6 1615.3L1721.3 1615.1L1722.0 1613.8L1722.7 1615.2L1723.4 1615.0L1724.1 1613.8L1724.8 1614.5L1725.5 1615.3L1726.2 1614.2L1726.9 1615.3L1727.6 1613.6L1728.3 1614.0L1729.0 1614.7L1729.7 1613.6L1730.4 1613.8L1731.1 1615.1L1731.8 1614.2L1732.5 1614.9L1733.2 1613.6L1733.9 1613.4L1734.6 1613.8L1735.3 1613.4L1736.0 1615.3L1736.7 1613.7L1737.4 1614.3L1738.1 1613.2L1738.8 1614.2L1739.5 1613.8L1740.2 1613.8L1740.9 1613.0L1741.6 1613.1L1742.3 1614.7L1743.0 1613.5L1743.7 1613.2L1744.4 1613.0L1745.1 1613.1L1745.8 1612.9L1746.5 1612.3L1747.2 1613.6L1747.9 1612.6L1748.6 1611.9L1749.3 1612.9L1750.0 1611.0L1750.7 1611.1L1751.4 1612.0L1752.1 1609.8L1752.8 1610.0L1753.5 1610.4L1754.2 1609.7L1754.9 1607.5L1755.6 1607.4L1756.3 1607.7L1757.0 1606.4L1757.7 1607.3L1758.4 1605.2L1759.1 1606.7L1759.8 1605.5L1760.5 1604.9L1761.2 1605.6L1761.9 1605.1L1762.6 1606.9L1763.3 1606.3L1764.0 1608.4L1764.7 1608.2L1765.4 1608.3L1766.1 1608.6L1766.8 1610.1L1767.5 1609.7L1768.2 1611.8L1768.9 1610.5L1769.6 1611.9L1770.3 1612.3L1771.0 1612.0L1771.7 1613.5L1772.4 1612.9L1773.1 1613.7L1773.8 1613.7L1774.5 1613.2L1775.2 1613.5L1775.9 1612.9L1776.6 1613.2L1777.3 1614.9L1778.0 1613.7L1778.7 1614.5L1779.4 1613.2L1780.1 1614.4L1780.8 1613.9L1781.5 1614.3L1782.2 1613.8L1782.9 1613.3L1783.6 1613.9L1784.3 1613.7L1785.0 1613.4L1785.7 1614.9L1786.4 1613.8L1787.1 1614.1L1787.8 1615.4L1788.5 1615.0L1789.2 1615.3L1789.9 1615.3L1790.6 1613.5L1791.3 1613.9L1792.0 1613.3L1792.7 1614.9L1793.4 1614.8L1794.1 1614.1L1794.8 1614.2L1795.5 1614.8L1796.2 1614.9L1796.9 1613.9L1797.6 1615.3L1798.3 1614.1L1799.0 1614.8L1799.7 1613.7L1800.4 1613.6L1801.1 1615.5L1801.8 1615.1L1802.5 1615.0L1803.2 1613.4L1803.9 1613.4L1804.6 1613.7L1805.3 1613.8L1806.0 1614.1L1806.7 1614.2L1807.4 1613.4L1808.1 1614.1L1808.8 1614.9L1809.5 1613.8L1810.2 1615.4L1810.9 1614.7L1811.6 1615.1L1812.3 1614.0L1813.0 1614.4L1813.7 1615.0L1814.4 1614.2L1815.1 1613.4L1815.8 1615.4L1816.5 1615.3L1817.2 1614.1L1817.9 1613.5L1818.6 1615.4L1819.3 1614.9L1820.0 1613.5L1820.7 1614.0L1821.4 1613.7L1822.1 1615.3L1822.8 1613.9L1823.5 1615.6L1824.2 1615.2L1824.9 1613.6L1825.6 1615.1L1826.3 1614.4L1827.0 1615.2L1827.7 1615.4L1828.4 1614.1L1829.1 1613.6L1829.8 1615.7L1830.5 1614.4L1831.2 1615.7L1831.9 1615.1L1832.6 1615.2L1833.3 1615.4L1834.0 1614.9L1834.7 1614.5L1835.4 1613.6L1836.1 1615.1L1836.8 1614.5L1837.5 1614.7L1838.2 1615.7L1838.9 1613.8L1839.6 1615.3L1840.3 1613.6L1841.0 1615.1L1841.7 1615.4L1842.4 1614.1L1843.1 1614.8L1843.8 1615.8L1844.5 1615.0L1845.2 1614.8L1845.9 1614.1L1846.6 1613.6L1847.3 1614.3L1848.0 1614.5L1848.7 1613.9L1849.4 1614.2L1850.1 1613.8L1850.8 1615.2L1851.5 1615.1L1852.2 1614.0L1852.9 1614.0L1853.6 1614.7L1854.3 1614.5L1855.0 1615.7L1855.7 1614.3L1856.4 1614.2L1857.1 1615.6L1857.8 1613.8L1858.5 1614.8L1859.2 1614.2L1859.9 1615.4L1860.6 1614.7L1861.3 1615.2L1862.0 1613.8L1862.7 1615.0L1863.4 1614.8L1864.1 1614.5L1864.8 1615.2L1865.5 1615.3L1866.2 1613.5L1866.9 1613.9L1867.6 1614.0L1868.3 1613.6L1869.0 1613.2L1869.7 1613.6L1870.4 1613.3L1871.1 1614.4L1871.8 1613.7L1872.5 1612.7L1873.2 1613.1L1873.9 1613.2L1874.6 1612.7L1875.3 1612.0L1876.0 1611.5L1876.7 1611.1L1877.4 1613.2L1878.1 1612.3L1878.8 1610.4L1879.5 1611.6L1880.2 1611.9L1880.9 1610.6L1881.6 1609.2L1882.3 1609.9L1883.0 1609.6L1883.7 1608.9L1884.4 1609.6L1885.1 1608.3L1885.8 1610.6L1886.5 1610.0L1887.2 1610.1L1887.9 1611.1L1888.6 1610.6L1889.3 1610.0L1890.0 1610.2L1890.7 1610.3L1891.4 1610.3L1892.1 1612.5L1892.8 1612.9L1893.5 1611.9L1894.2 1611.9L1894.9 1613.3L1895.6 1614.0L1896.3 1614.4L1897.0 1612.8L1897.7 1614.5L1898.4 1614.7L1899.1 1614.6L1899.8 1613.8L1900.5 1613.5L1901.2 1615.1L1901.9 1614.0L1902.6 1614.2L1903.3 1614.7L1904.0 1614.3L1904.7 1615.4L1905.4 1614.0L1906.1 1613.6L1906.8 1614.9L1907.5 1615.0L1908.2 1615.5L1908.9 1615.2L1909.6 1615.7L1910.3 1615.8L1911.0 1614.8L1911.7 1614.8L1912.4 1614.0L1913.1 1614.3L1913.8 1615.0L1914.5 1613.8L1915.2 1615.3L1915.9 1614.0L1916.6 1614.7L1917.3 1616.0L1918.0 1613.9L1918.7 1613.7L1919.4 1614.7L1920.1 1614.1L1920.8 1615.4L1921.5 1613.7L1922.2 1615.7L1922.9 1615.7L1923.6 1615.6L1924.3 1614.7L1925.0 1614.4L1925.7 1615.3L1926.4 1614.9L1927.1 1614.7L1927.8 1614.5L1928.5 1614.8L1929.2 1615.3L1929.9 1615.7L1930.6 1615.9L1931.3 1614.1L1932.0 1614.4L1932.7 1614.8L1933.4 1615.1L1934.1 1614.6L1934.8 1614.2L1935.5 1613.9L1936.2 1614.5L1936.9 1614.9L1937.6 1616.1L1938.3 1615.9L1939.0 1615.8L1939.7 1616.1L1940.4 1616.1L1941.1 1615.2L1941.8 1615.7L1942.5 1613.9L1943.2 1615.4L1943.9 1615.2L1944.6 1614.5L1945.3 1615.1L1946.0 1616.1L1946.7 1614.9L1947.4 1615.3L1948.1 1614.5L1948.8 1614.6L1949.5 1615.9L1950.2 1613.9L1950.9 1614.3L1951.6 1615.4L1952.3 1614.9L1953.0 1614.0L1953.7 1615.4L1954.4 1614.7L1955.1 1615.2L1955.8 1614.8L1956.5 1615.1L1957.2 1615.2L1957.9 1614.8L1958.6 1614.1L1959.3 1614.3L1960.0 1616.0L1960.7 1615.1L1961.4 1614.1L1962.1 1615.9L1962.8 1614.4L1963.5 1614.1L1964.2 1615.1L1964.9 1614.4L1965.6 1615.0L1966.3 1615.2L1967.0 1614.4L1967.7 1615.2L1968.4 1614.1L1969.1 1615.1L1969.8 1615.3L1970.5 1614.0L1971.2 1614.8L1971.9 1614.0L1972.6 1614.9L1973.3 1615.9L1974.0 1615.2L1974.7 1615.6L1975.4 1615.7L1976.1 1614.1L1976.8 1616.3L1977.5 1615.6L1978.2 1614.1L1978.9 1615.9L1979.6 1614.8L1980.3 1614.3L1981.0 1616.2L1981.7 1615.2L1982.4 1615.8L1983.1 1614.2L1983.8 1615.8L1984.5 1614.0L1985.2 1614.5L1985.9 1614.8L1986.6 1613.9L1987.3 1615.3L1988.0 1614.4L1988.7 1614.6L1989.4 1615.6L1990.1 1614.9L1990.8 1616.0L1991.5 1615.4L1992.2 1616.0L1992.9 1615.3L1993.6 1616.1L1994.3 1616.0L1995.0 1614.3L1995.7 1615.7L1996.4 1614.7L1997.1 1615.8L1997.8 1615.6L1998.5 1615.9L1999.2 1614.2L1999.9 1614.8L2000.6 1615.7L2001.3 1616.2L2002.0 1615.7L2002.7 1614.1L2003.4 1615.4L2004.1 1614.2L2004.8 1615.3L2005.5 1615.9L2006.2 1614.2L2006.9 1616.2L2007.6 1615.6L2008.3 1614.6L2009.0 1614.4L2009.7 1615.0L2010.4 1616.0L2011.1 1615.4L2011.8 1614.2L2012.5 1614.0L2013.2 1614.2L2013.9 1615.9L2014.6 1614.4L2015.3 1615.3L2016.0 1614.7L2016.7 1615.6L2017.4 1614.9L2018.1 1614.3L2018.8 1616.1L2019.5 1615.3L2020.2 1615.6L2020.9 1615.9L2021.6 1616.3L2022.3 1614.0L2023.0 1614.8L2023.7 1614.4L2024.4 1615.2L2025.1 1616.1L2025.8 1615.9L2026.5 1614.1L2027.2 1614.4L2027.9 1616.0L2028.6 1615.6L2029.3 1615.0L2030.0 1615.2L2030.7 1614.4L2031.4 1616.0L2032.1 1615.0L2032.8 1616.1L2033.5 1615.5L2034.2 1614.2L2034.9 1614.8L2035.6 1614.5L2036.3 1616.2L2037.0 1615.4L2037.7 1614.1L2038.4 1614.4L2039.1 1614.9L2039.8 1615.2L2040.5 1615.4L2041.2 1615.0L2041.9 1614.9L2042.6 1614.1L2043.3 1615.4L2044.0 1614.8L2044.7 1614.1L2045.4 1615.1L2046.1 1616.4L2046.8 1614.2L2047.5 1614.4L2048.2 1615.7L2048.9 1614.7L2049.6 1614.7L2050.3 1615.3L2051.0 1614.7L2051.7 1615.4L2052.4 1615.3L2053.1 1616.4L2053.8 1616.4L2054.5 1614.1L2055.2 1615.4L2055.9 1615.9L2056.6 1616.2L2057.3 1615.9L2058.0 1615.6L2058.7 1615.6L2059.4 1614.9L2060.1 1614.7L2060.8 1616.0L2061.5 1616.2L2062.2 1616.3L2062.9 1615.7L2063.6 1614.8L2064.3 1615.9L2065.0 1615.9L2065.7 1615.3L2066.4 1615.6L2067.1 1614.9L2067.8 1615.4L2068.5 1615.1L2069.2 1614.2L2069.9 1614.9L2070.6 1614.9L2071.3 1616.4L2072.0 1615.2L2072.7 1615.0L2073.4 1614.7L2074.1 1614.6L2074.8 1614.9L2075.5 1614.4L2076.2 1614.1L2076.9 1616.2L2077.6 1615.2L2078.3 1615.1L2079.0 1615.4L2079.7 1614.8L2080.4 1614.5L2081.1 1614.2L2081.8 1614.8L2082.5 1614.8L2083.2 1615.8L2083.9 1615.4L2084.6 1616.3L2085.3 1614.9L2086.0 1616.2L2086.7 1615.4L2087.4 1614.2L2088.1 1614.4L2088.8 1615.4L2089.5 1616.4L2090.2 1614.9L2090.9 1615.8L2091.6 1615.0L2092.3 1616.1L2093.0 1614.1L2093.7 1615.1L2094.4 1616.1L2095.1 1614.6L2095.8 1614.5L2096.5 1613.9L2097.2 1614.2L2097.9 1614.5L2098.6 1615.5L2099.3 1614.3L2100.0 1614.7L2100.7 1614.1L2101.4 1615.0L2102.1 1615.5L2102.8 1614.9L2103.5 1613.6L2104.2 1614.7L2104.9 1615.0L2105.6 1613.8L2106.3 1612.1L2107.0 1613.4L2107.7 1612.9L2108.4 1611.0L2109.1 1609.7L2109.8 1608.9L2110.5 1608.8L2111.2 1608.6L2111.9 1607.0L2112.6 1606.6L2113.3 1603.9L2114.0 1603.2L2114.7 1603.5L2115.4 1602.7L2116.1 1601.8L2116.8 1602.5L2117.5 1601.9L2118.2 1601.8L2118.9 1603.3L2119.6 1603.4L2120.3 1605.8L2121.0 1606.1L2121.7 1607.6L2122.4 1608.8L2123.1 1609.0L2123.8 1610.4L2124.5 1610.1L2125.2 1613.0L2125.9 1612.8L2126.6 1614.3L2127.3 1612.5L2128.0 1614.2" fill="none" stroke="#000000" stroke-width="12" stroke-linejoin="round" stroke-linecap="butt"/>
<path d="M161.0 1369.8L161.7 1369.3L162.4 1369.0L163.1 1369.1L163.8 1369.1L164.5 1369.8L165.2 1369.0L165.9 1369.9L166.6 1369.4L167.3 1369.5L168.0 1369.6L168.7 1369.6L169.4 1369.7L170.1 1369.6L170.8 1369.3L171.5 1369.8L172.2 1369.2L172.9 1369.8L173.6 1369.8L174.3 1369.8L175.0 1369.3L175.7 1369.8L176.4 1370.1L177.1 1369.5L177.8 1369.2L178.5 1369.5L179.2 1370.0L179.9 1369.1L180.6 1368.9L181.3 1369.5L182.0 1369.7L182.7 1369.8L183.4 1369.4L184.1 1370.1L184.8 1369.2L185.5 1369.8L186.2 1369.0L186.9 1369.0L187.6 1369.1L188.3 1369.0L189.0 1369.5L189.7 1369.6L190.4 1369.1L191.1 1370.1L191.8 1369.4L192.5 1369.1L193.2 1369.1L193.9 1369.8L194.6 1370.0L195.3 1369.1L196.0 1368.9L196.7 1369.8L197.4 1369.2L198.1 1370.1L198.8 1369.5L199.5 1369.6L200.2 1369.3L200.9 1369.8L201.6 1369.4L202.3 1369.3L203.0 1370.0L203.7 1369.0L204.4 1369.8L205.1 1369.0L205.8 1369.7L206.5 1369.4L207.2 1369.9L207.9 1369.0L208.6 1369.6L209.3 1369.4L210.0 1370.0L210.7 1370.0L211.4 1369.6L212.1 1369.1L212.8 1369.2L213.5 1369.2L214.2 1369.4L214.9 1369.2L215.6 1369.1L216.3 1369.8L217.0 1369.7L217.7 1369.2L218.4 1370.1L219.1 1369.1L219.8 1369.6L220.5 1369.1L221.2 1369.9L221.9 1369.9L222.6 1369.2L223.3 1369.8L224.0 1369.9L224.7 1369.2L225.4 1369.3L226.1 1369.5L226.8 1370.0L227.5 1369.1L228.2 1369.7L228.9 1369.6L229.6 1369.4L230.3 1369.6L231.0 1369.9L231.7 1369.1L232.4 1369.9L233.1 1369.3L233.8 1369.8L234.5 1369.9L235.2 1369.1L235.9 1369.9L236.6 1370.1L237.3 1369.2L238.0 1368.9L238.7 1369.0L239.4 1370.1L240.1 1368.9L240.8 1370.0L241.5 1369.1L242.2 1369.8L242.9 1369.0L243.6 1369.1L244.3 1369.7L245.0 1369.0L245.7 1369.3L246.4 1370.0L247.1 1369.8L247.8 1370.0L248.5 1370.1L249.2 1368.9L249.9 1369.2L250.6 1369.8L251.3 1369.7L252.0 1368.9L252.7 1369.5L253.4 1369.2L254.1 1369.4L254.8 1369.0L255.5 1368.9L256.2 1370.1L256.9 1369.3L257.6 1370.0L258.3 1369.0L259.0 1369.5L259.7 1369.1L260.4 1369.4L261.1 1369.1L261.8 1369.7L262.5 1369.1L263.2 1369.8L263.9 1369.5L264.6 1369.0L265.3 1369.3L266.0 1369.5L266.7 1370.0L267.4 1369.3L268.1 1369.2L268.8 1370.1L269.5 1369.9L270.2 1369.8L270.9 1369.2L271.6 1369.1L272.3 1369.2L273.0 1369.0L273.7 1368.9L274.4 1369.5L275.1 1369.4L275.8 1369.5L276.5 1369.3L277.2 1368.9L277.9 1369.7L278.6 1369.7L279.3 1369.5L280.0 1369.5L280.7 1369.7L281.4 1370.1L282.1 1369.9L282.8 1369.7L283.5 1369.4L284.2 1369.3L284.9 1369.4L285.6 1370.0L286.3 1369.3L287.0 1369.3L287.7 1369.4L288.4 1369.0L289.1 1370.1L289.8 1368.9L290.5 1369.6L291.2 1370.0L291.9 1369.2L292.6 1369.6L293.3 1369.3L294.0 1369.2L294.7 1369.1L295.4 1369.0L296.1 1369.9L296.8 1369.8L297.5 1370.0L298.2 1368.9L298.9 1369.7L299.6 1369.3L300.3 1369.6L301.0 1369.5L301.7 1369.2L302.4 1370.0L303.1 1368.9L303.8 1369.8L304.5 1369.9L305.2 1369.5L305.9 1369.6L306.6 1370.1L307.3 1369.1L308.0 1369.6L308.7 1369.8L309.4 1369.3L310.1 1369.7L310.8 1369.3L311.5 1369.5L312.2 1369.6L312.9 1369.7L313.6 1369.2L314.3 1369.6L315.0 1369.5L315.7 1369.1L316.4 1369.6L317.1 1369.2L317.8 1369.9L318.5 1369.4L319.2 1369.7L319.9 1369.5L320.6 1369.3L321.3 1369.0L322.0 1368.9L322.7 1369.9L323.4 1369.4L324.1 1369.4L324.8 1369.4L325.5 1369.7L326.2 1369.0L326.9 1369.0L327.6 1369.7L328.3 1369.3L329.0 1369.5L329.7 1369.7L330.4 1369.8L331.1 1369.8L331.8 1368.8L332.5 1369.2L333.2 1369.7L333.9 1369.7L334.6 1368.9L335.3 1368.9L336.0 1369.0L336.7 1368.8L337.4 1369.1L338.1 1369.7L338.8 1369.3L339.5 1369.3L340.2 1368.8L340.9 1369.2L341.6 1369.9L342.3 1369.5L343.0 1369.2L343.7 1369.3L344.4 1369.7L345.1 1369.6L345.8 1368.9L346.5 1369.5L347.2 1369.1L347.9 1369.3L348.6 1369.0L349.3 1369.1L350.0 1369.1L350.7 1369.1L351.4 1368.7L352.1 1368.9L352.8 1369.4L353.5 1368.7L354.2 1368.9L354.9 1369.5L355.6 1369.0L356.3 1369.0L357.0 1368.9L357.7 1369.7L358.4 1368.8L359.1 1369.4L359.8 1369.7L360.5 1368.9L361.2 1369.1L361.9 1369.6L362.6 1369.4L363.3 1369.1L364.0 1368.7L364.7 1369.1L365.4 1369.1L366.1 1369.5L366.8 1369.0L367.5 1369.1L368.2 1369.4L368.9 1369.6L369.6 1369.0L370.3 1369.0L371.0 1369.3L371.7 1369.7L372.4 1368.8L373.1 1369.7L373.8 1369.4L374.5 1369.0L375.2 1369.4L375.9 1368.9L376.6 1368.6L377.3 1369.4L378.0 1369.0L378.7 1369.2L379.4 1369.1L380.1 1369.6L380.8 1369.4L381.5 1368.5L382.2 1369.2L382.9 1369.1L383.6 1369.0L384.3 1369.5L385.0 1369.0L385.7 1369.0L386.4 1369.5L387.1 1369.0L387.8 1369.0L388.5 1369.1L389.2 1369.4L389.9 1369.2L390.6 1369.3L391.3 1368.9L392.0 1368.5L392.7 1369.2L393.4 1369.1L394.1 1369.3L394.8 1369.3L395.5 1368.5L396.2 1368.6L396.9 1368.4L397.6 1369.3L398.3 1368.5L399.0 1368.4L399.7 1369.2L400.4 1369.0L401.1 1368.4L401.8 1369.1L402.5 1369.1L403.2 1368.8L403.9 1368.3L404.6 1369.1L405.3 1368.7L406.0 1368.9L406.7 1369.4L407.4 1369.2L408.1 1369.2L408.8 1368.4L409.5 1368.6L410.2 1368.8L410.9 1368.1L411.6 1369.3L412.3 1368.4L413.0 1368.4L413.7 1368.5L414.4 1368.4L415.1 1369.1L415.8 1368.7L416.5 1368.6L417.2 1368.5L417.9 1368.0L418.6 1368.3L419.3 1369.0L420.0 1368.9L420.7 1368.9L421.4 1368.2L422.1 1368.1L422.8 1367.9L423.5 1368.5L424.2 1368.2L424.9 1368.3L425.6 1368.3L426.3 1368.4L427.0 1368.1L427.7 1368.6L428.4 1367.9L429.1 1368.7L429.8 1368.3L430.5 1367.6L431.2 1367.9L431.9 1368.1L432.6 1368.0L433.3 1368.1L434.0 1367.8L434.7 1367.7L435.4 1368.3L436.1 1367.6L436.8 1368.1L437.5 1368.2L438.2 1367.9L438.9 1367.7L439.6 1368.2L440.3 1367.6L441.0 1368.0L441.7 1367.0L442.4 1367.4L443.1 1367.6L443.8 1366.8L444.5 1367.7L445.2 1366.7L445.9 1367.3L446.6 1366.7L447.3 1367.5L448.0 1367.0L448.7 1367.3L449.4 1366.8L450.1 1366.9L450.8 1366.8L451.5 1366.3L452.2 1366.1L452.9 1366.8L453.6 1365.8L454.3 1366.6L455.0 1365.7L455.7 1365.4L456.4 1365.3L457.1 1366.0L457.8 1366.0L458.5 1365.2L459.2 1365.3L459.9 1364.7L460.6 1365.3L461.3 1364.8L462.0 1364.0L462.7 1363.6L463.4 1364.2L464.1 1363.1L464.8 1363.8L465.5 1362.9L466.2 1362.5L466.9 1362.6L467.6 1361.9L468.3 1361.8L469.0 1360.9L469.7 1361.4L470.4 1360.2L471.1 1360.3L471.8 1358.9L472.5 1359.0L473.2 1358.6L473.9 1357.1L474.6 1355.8L475.3 1355.4L476.0 1354.7L476.7 1353.1L477.4 1352.2L478.1 1350.3L478.8 1349.2L479.5 1347.8L480.2 1345.4L480.9 1343.5L481.6 1340.3L482.3 1338.3L483.0 1334.2L483.7 1331.4L484.4 1327.2L485.1 1322.1L485.8 1315.9L486.5 1308.9L487.2 1301.3L487.9 1293.0L488.6 1282.7L489.3 1272.1L490.0 1259.0L490.7 1246.9L491.4 1235.1L492.1 1223.8L492.8 1215.5L493.5 1210.7L494.2 1211.1L494.9 1216.1L495.6 1225.5L496.3 1236.7L497.0 1248.3L497.7 1261.7L498.4 1272.5L499.1 1284.2L499.8 1294.4L500.5 1302.3L501.2 1310.5L501.9 1316.7L502.6 1321.6L503.3 1326.8L504.0 1331.1L504.7 1334.5L505.4 1338.3L506.1 1340.4L506.8 1343.6L507.5 1345.2L508.2 1346.8L508.9 1349.1L509.6 1350.0L510.3 1351.9L511.0 1353.4L511.7 1354.2L512.4 1355.0L513.1 1355.4L513.8 1356.7L514.5 1356.9L515.2 1358.2L515.9 1358.2L516.6 1359.3L517.3 1359.5L518.0 1360.0L518.7 1360.7L519.4 1360.5L520.1 1360.9L520.8 1362.1L521.5 1361.7L522.2 1362.6L522.9 1362.9L523.6 1362.6L524.3 1362.4L525.0 1362.6L525.7 1363.7L526.4 1362.9L527.1 1363.5L527.8 1363.7L528.5 1363.3L529.2 1363.9L529.9 1363.6L530.6 1364.1L531.3 1364.2L532.0 1364.1L532.7 1364.0L533.4 1364.3L534.1 1364.1L534.8 1364.0L535.5 1364.2L536.2 1364.9L536.9 1364.5L537.6 1365.0L538.3 1363.9L539.0 1365.0L539.7 1364.5L540.4 1364.8L541.1 1364.5L541.8 1364.6L542.5 1364.0L543.2 1364.5L543.9 1363.7L544.6 1363.7L545.3 1363.3L546.0 1363.7L546.7 1363.7L547.4 1363.2L548.1 1363.8L548.8 1362.6L549.5 1363.0L550.2 1362.3L550.9 1362.4L551.6 1362.3L552.3 1361.9L553.0 1360.7L553.7 1360.4L554.4 1360.3L555.1 1360.2L555.8 1358.3L556.5 1358.2L557.2 1357.3L557.9 1356.4L558.6 1354.5L559.3 1353.5L560.0 1351.3L560.7 1349.6L561.4 1345.8L562.1 1343.5L562.8 1338.8L563.5 1333.5L564.2 1326.5L564.9 1318.4L565.6 1308.4L566.3 1295.3L567.0 1279.3L567.7 1263.2L568.4 1248.7L569.1 1241.2L569.8 1243.3L570.5 1254.3L571.2 1270.5L571.9 1286.6L572.6 1300.6L573.3 1312.1L574.0 1321.5L574.7 1329.3L575.4 1335.2L576.1 1339.6L576.8 1343.1L577.5 1345.5L578.2 1348.3L578.9 1350.5L579.6 1351.9L580.3 1352.3L581.0 1354.1L581.7 1354.5L582.4 1355.0L583.1 1356.5L583.8 1356.5L584.5 1357.0L585.2 1356.5L585.9 1357.5L586.6 1357.8L587.3 1357.8L588.0 1357.6L588.7 1357.7L589.4 1357.5L590.1 1357.1L590.8 1356.7L591.5 1357.0L592.2 1356.6L592.9 1356.4L593.6 1355.3L594.3 1355.6L595.0 1354.6L595.7 1354.6L596.4 1352.9L597.1 1353.2L597.8 1352.3L598.5 1350.8L599.2 1350.5L599.9 1348.7L600.6 1347.5L601.3 1346.5L602.0 1344.8L602.7 1343.5L603.4 1342.3L604.1 1340.0L604.8 1337.8L605.5 1334.9L606.2 1332.6L606.9 1329.4L607.6 1325.7L608.3 1321.9L609.0 1317.2L609.7 1311.4L610.4 1304.9L611.1 1298.7L611.8 1290.9L612.5 1281.2L613.2 1271.0L613.9 1259.3L614.6 1245.7L615.3 1229.6L616.0 1213.5L616.7 1195.3L617.4 1177.4L618.1 1161.1L618.8 1145.9L619.5 1135.5L620.2 1130.4L620.9 1131.6L621.6 1139.0L622.3 1151.8L623.0 1168.4L623.7 1185.9L624.4 1203.5L625.1 1220.6L625.8 1236.9L626.5 1252.0L627.2 1264.6L627.9 1276.2L628.6 1286.3L629.3 1294.1L630.0 1302.4L630.7 1308.2L631.4 1314.9L632.1 1319.2L632.8 1323.7L633.5 1328.5L634.2 1331.2L634.9 1334.1L635.6 1337.6L636.3 1339.7L637.0 1342.2L637.7 1343.6L638.4 1345.5L639.1 1347.6L639.8 1348.6L640.5 1350.5L641.2 1350.7L641.9 1352.6L642.6 1352.8L643.3 1354.1L644.0 1354.4L644.7 1355.3L645.4 1357.0L646.1 1357.1L646.8 1358.1L647.5 1358.0L648.2 1358.7L648.9 1358.9L649.6 1359.9L650.3 1360.7L651.0 1360.7L651.7 1360.9L652.4 1361.9L653.1 1362.2L653.8 1362.3L654.5 1361.9L655.2 1362.8L655.9 1362.9L656.6 1363.7L657.3 1363.3L658.0 1363.8L658.7 1364.0L659.4 1363.9L660.1 1364.3L660.8 1364.7L661.5 1365.1L662.2 1364.8L662.9 1364.8L663.6 1365.7L664.3 1364.7L665.0 1365.8L665.7 1365.7L666.4 1365.7L667.1 1365.7L667.8 1366.2L668.5 1366.5L669.2 1366.4L669.9 1366.5L670.6 1365.7L671.3 1366.2L672.0 1366.0L672.7 1367.1L673.4 1367.1L674.1 1366.3L674.8 1366.9L675.5 1367.0L676.2 1366.4L676.9 1366.9L677.6 1367.4L678.3 1367.3L679.0 1367.0L679.7 1367.6L680.4 1367.1L681.1 1367.5L681.8 1367.4L682.5 1368.1L683.2 1367.7L683.9 1368.0L684.6 1367.9L685.3 1367.6L686.0 1368.3L686.7 1368.1L687.4 1368.1L688.1 1367.6L688.8 1367.5L689.5 1368.1L690.2 1368.4L690.9 1368.4L691.6 1367.9L692.3 1367.7L693.0 1368.2L693.7 1368.6L694.4 1367.8L695.1 1368.5L695.8 1367.9L696.5 1368.1L697.2 1367.8L697.9 1368.1L698.6 1368.2L699.3 1369.0L700.0 1369.0L700.7 1368.1L701.4 1368.3L702.1 1369.0L702.8 1368.2L703.5 1368.3L704.2 1368.5L704.9 1368.1L705.6 1368.3L706.3 1368.5L707.0 1368.5L707.7 1369.2L708.4 1368.4L709.1 1368.4L709.8 1369.2L710.5 1368.7L711.2 1369.2L711.9 1369.0L712.6 1369.2L713.3 1368.6L714.0 1368.4L714.7 1369.2L715.4 1368.9L716.1 1369.0L716.8 1369.1L717.5 1369.2L718.2 1368.7L718.9 1368.8L719.6 1369.5L720.3 1369.0L721.0 1368.8L721.7 1369.2L722.4 1368.7L723.1 1369.4L723.8 1368.5L724.5 1369.5L725.2 1369.2L725.9 1368.9L726.6 1369.6L727.3 1368.8L728.0 1368.8L728.7 1368.6L729.4 1369.2L730.1 1369.5L730.8 1369.4L731.5 1369.1L732.2 1369.6L732.9 1368.7L733.6 1369.0L734.3 1369.4L735.0 1369.8L735.7 1369.4L736.4 1369.5L737.1 1369.6L737.8 1369.1L738.5 1369.8L739.2 1369.6L739.9 1369.1L740.6 1369.2L741.3 1369.7L742.0 1369.1L742.7 1368.9L743.4 1369.8L744.1 1369.4L744.8 1369.4L745.5 1369.6L746.2 1369.8L746.9 1368.9L747.6 1369.2L748.3 1368.9L749.0 1369.3L749.7 1369.4L750.4 1369.8L751.1 1369.6L751.8 1369.5L752.5 1369.3L753.2 1369.5L753.9 1369.2L754.6 1369.9L755.3 1369.8L756.0 1369.9L756.7 1369.0L757.4 1369.7L758.1 1369.8L758.8 1369.5L759.5 1370.0L760.2 1370.0L760.9 1369.8L761.6 1369.9L762.3 1369.7L763.0 1370.0L763.7 1369.1L764.4 1369.8L765.1 1369.8L765.8 1369.7L766.5 1369.3L767.2 1369.0L767.9 1369.7L768.6 1369.9L769.3 1369.3L770.0 1369.2L770.7 1369.2L771.4 1369.1L772.1 1369.8L772.8 1370.2L773.5 1369.9L774.2 1369.4L774.9 1369.8L775.6 1369.1L776.3 1370.0L777.0 1369.4L777.7 1369.0L778.4 1369.8L779.1 1369.2L779.8 1369.4L780.5 1369.1L781.2 1369.6L781.9 1369.7L782.6 1370.0L783.3 1369.1L784.0 1370.0L784.7 1369.2L785.4 1369.3L786.1 1369.8L786.8 1369.5L787.5 1369.5L788.2 1369.7L788.9 1369.3L789.6 1370.0L790.3 1369.3L791.0 1370.1L791.7 1370.1L792.4 1369.7L793.1 1369.1L793.8 1370.1L794.5 1369.2L795.2 1369.8L795.9 1369.7L796.6 1369.2L797.3 1369.9L798.0 1370.0L798.7 1369.9L799.4 1369.6L800.1 1369.8L800.8 1369.9L801.5 1369.4L802.2 1370.2L802.9 1370.4L803.6 1370.1L804.3 1370.3L805.0 1369.6L805.7 1370.4L806.4 1369.3L807.1 1369.8L807.8 1369.4L808.5 1369.7L809.2 1370.0L809.9 1370.1L810.6 1369.8L811.3 1369.6L812.0 1369.4L812.7 1369.7L813.4 1369.6L814.1 1369.4L814.8 1370.1L815.5 1369.8L816.2 1369.7L816.9 1369.5L817.6 1370.1L818.3 1369.5L819.0 1369.5L819.7 1369.9L820.4 1370.1L821.1 1370.4L821.8 1370.1L822.5 1370.4L823.2 1370.3L823.9 1370.1L824.6 1370.1L825.3 1369.3L826.0 1369.5L826.7 1369.3L827.4 1370.3L828.1 1370.1L828.8 1370.0L829.5 1369.6L830.2 1369.7L830.9 1369.4L831.6 1370.0L832.3 1370.4L833.0 1369.6L833.7 1369.3L834.4 1369.5L835.1 1369.7L835.8 1370.3L836.5 1370.2L837.2 1369.8L837.9 1369.4L838.6 1369.4L839.3 1369.4L840.0 1370.2L840.7 1369.8L841.4 1370.5L842.1 1370.4L842.8 1370.2L843.5 1369.8L844.2 1370.3L844.9 1369.4L845.6 1369.4L846.3 1369.9L847.0 1369.9L847.7 1369.5L848.4 1369.6L849.1 1369.3L849.8 1370.4L850.5 1370.1L851.2 1370.4L851.9 1370.4L852.6 1369.8L853.3 1370.1L854.0 1369.7L854.7 1370.2L855.4 1370.3L856.1 1369.4L856.8 1369.3L857.5 1369.5L858.2 1370.0L858.9 1369.7L859.6 1369.3L860.3 1370.3L861.0 1370.2L861.7 1369.8L862.4 1369.3L863.1 1370.3L863.8 1369.9L864.5 1369.3L865.2 1369.6L865.9 1370.0L866.6 1370.3L867.3 1369.8L868.0 1370.0L868.7 1369.5L869.4 1369.6L870.1 1370.3L870.8 1369.7L871.5 1369.4L872.2 1370.0L872.9 1369.4L873.6 1369.5L874.3 1369.8L875.0 1369.9L875.7 1370.0L876.4 1370.1L877.1 1369.8L877.8 1369.3L878.5 1370.1L879.2 1369.3L879.9 1369.8L880.6 1369.7L881.3 1370.0L882.0 1370.1L882.7 1369.5L883.4 1370.0L884.1 1370.0L884.8 1369.7L885.5 1369.3L886.2 1370.2L886.9 1369.9L887.6 1369.2L888.3 1369.4L889.0 1370.3L889.7 1369.4L890.4 1369.6L891.1 1370.0L891.8 1370.1L892.5 1369.8L893.2 1369.9L893.9 1369.1L894.6 1369.1L895.3 1370.2L896.0 1370.0L896.7 1369.0L897.4 1369.0L898.1 1369.2L898.8 1370.0L899.5 1369.2L900.2 1369.7L900.9 1370.0L901.6 1369.6L902.3 1369.9L903.0 1369.1L903.7 1368.9L904.4 1368.8L905.1 1369.6L905.8 1368.8L906.5 1369.8L907.2 1369.5L907.9 1368.8L908.6 1369.5L909.3 1368.7L910.0 1369.0L910.7 1368.5L911.4 1369.3L912.1 1369.3L912.8 1369.3L913.5 1368.1L914.2 1369.0L914.9 1368.6L915.6 1368.8L916.3 1368.3L917.0 1368.4L917.7 1368.2L918.4 1368.3L919.1 1367.3L919.8 1367.1L920.5 1367.6L921.2 1367.0L921.9 1366.9L922.6 1366.2L923.3 1366.7L924.0 1365.5L924.7 1366.0L925.4 1365.4L926.1 1364.3L926.8 1363.1L927.5 1362.7L928.2 1360.9L928.9 1359.6L929.6 1357.3L930.3 1356.0L931.0 1352.7L931.7 1349.3L932.4 1345.3L933.1 1341.9L933.8 1337.6L934.5 1333.0L935.2 1327.7L935.9 1324.3L936.6 1321.7L937.3 1321.4L938.0 1321.5L938.7 1324.6L939.4 1328.8L940.1 1332.9L940.8 1336.6L941.5 1341.1L942.2 1345.3L942.9 1349.7L943.6 1352.8L944.3 1355.5L945.0 1357.7L945.7 1359.5L946.4 1361.4L947.1 1362.7L947.8 1364.0L948.5 1364.6L949.2 1365.4L949.9 1366.1L950.6 1366.5L951.3 1366.7L952.0 1366.2L952.7 1367.3L953.4 1367.7L954.1 1367.5L954.8 1368.2L955.5 1367.5L956.2 1368.6L956.9 1368.1L957.6 1368.6L958.3 1368.2L959.0 1368.3L959.7 1368.5L960.4 1368.5L961.1 1368.3L961.8 1368.8L962.5 1369.6L963.2 1369.2L963.9 1369.6L964.6 1369.5L965.3 1369.6L966.0 1369.9L966.7 1369.6L967.4 1369.1L968.1 1369.1L968.8 1369.3L969.5 1368.9L970.2 1369.2L970.9 1370.0L971.6 1370.1L972.3 1369.4L973.0 1369.9L973.7 1370.0L974.4 1370.1L975.1 1370.0L975.8 1369.7L976.5 1369.2L977.2 1370.1L977.9 1369.5L978.6 1369.9L979.3 1369.6L980.0 1369.8L980.7 1370.4L981.4 1369.4L982.1 1369.9L982.8 1370.0L983.5 1369.9L984.2 1370.4L984.9 1369.8L985.6 1370.4L986.3 1370.1L987.0 1370.5L987.7 1369.4L988.4 1369.6L989.1 1369.7L989.8 1370.4L990.5 1369.4L991.2 1369.7L991.9 1370.2L992.6 1370.6L993.3 1369.6L994.0 1369.9L994.7 1370.2L995.4 1370.2L996.1 1370.3L996.8 1370.3L997.5 1369.7L998.2 1369.7L998.9 1369.5L999.6 1370.3L1000.3 1369.7L1001.0 1369.7L1001.7 1370.6L1002.4 1370.2L1003.1 1370.2L1003.8 1370.2L1004.5 1370.2L1005.2 1370.3L1005.9 1369.8L1006.6 1369.5L1007.3 1369.6L1008.0 1369.5L1008.7 1369.9L1009.4 1369.7L1010.1 1369.6L1010.8 1370.1L1011.5 1370.7L1012.2 1370.3L1012.9 1369.8L1013.6 1370.4L1014.3 1369.7L1015.0 1369.6L1015.7 1369.9L1016.4 1370.0L1017.1 1370.3L1017.8 1370.0L1018.5 1370.4L1019.2 1369.6L1019.9 1370.6L1020.6 1369.9L1021.3 1370.5L1022.0 1369.6L1022.7 1370.5L1023.4 1369.8L1024.1 1370.6L1024.8 1370.5L1025.5 1370.3L1026.2 1369.9L1026.9 1369.5L1027.6 1369.8L1028.3 1370.6L1029.0 1369.7L1029.7 1370.3L1030.4 1370.2L1031.1 1370.3L1031.8 1369.8L1032.5 1369.7L1033.2 1369.7L1033.9 1370.7L1034.6 1370.0L1035.3 1370.3L1036.0 1370.2L1036.7 1369.8L1037.4 1369.6L1038.1 1369.6L1038.8 1370.6L1039.5 1369.7L1040.2 1370.7L1040.9 1370.0L1041.6 1370.4L1042.3 1369.7L1043.0 1370.5L1043.7 1369.9L1044.4 1370.0L1045.1 1370.2L1045.8 1369.7L1046.5 1369.9L1047.2 1370.5L1047.9 1369.9L1048.6 1370.0L1049.3 1370.5L1050.0 1369.8L1050.7 1369.8L1051.4 1369.8L1052.1 1370.0L1052.8 1370.0L1053.5 1370.3L1054.2 1370.1L1054.9 1370.6L1055.6 1369.6L1056.3 1370.4L1057.0 1370.6L1057.7 1369.8L1058.4 1369.6L1059.1 1370.1L1059.8 1369.7L1060.5 1370.1L1061.2 1370.4L1061.9 1369.7L1062.6 1369.7L1063.3 1370.1L1064.0 1369.8L1064.7 1369.8L1065.4 1370.1L1066.1 1369.7L1066.8 1369.6L1067.5 1370.0L1068.2 1370.1L1068.9 1370.6L1069.6 1370.2L1070.3 1369.6L1071.0 1369.8L1071.7 1370.4L1072.4 1370.2L1073.1 1370.6L1073.8 1370.7L1074.5 1370.5L1075.2 1369.6L1075.9 1370.6L1076.6 1370.1L1077.3 1369.8L1078.0 1369.7L1078.7 1370.5L1079.4 1369.8L1080.1 1369.6L1080.8 1369.8L1081.5 1370.6L1082.2 1370.1L1082.9 1370.4L1083.6 1369.6L1084.3 1370.0L1085.0 1369.9L1085.7 1369.7L1086.4 1370.3L1087.1 1369.9L1087.8 1369.6L1088.5 1370.7L1089.2 1370.1L1089.9 1369.7L1090.6 1369.5L1091.3 1370.3L1092.0 1370.1L1092.7 1369.5L1093.4 1370.0L1094.1 1370.4L1094.8 1370.1L1095.5 1369.7L1096.2 1370.1L1096.9 1370.2L1097.6 1370.2L1098.3 1369.6L1099.0 1370.4L1099.7 1370.6L1100.4 1370.3L1101.1 1370.5L1101.8 1369.9L1102.5 1370.5L1103.2 1369.6L1103.9 1369.7L1104.6 1370.1L1105.3 1370.5L1106.0 1369.5L1106.7 1369.7L1107.4 1369.4L1108.1 1369.9L1108.8 1369.6L1109.5 1369.6L1110.2 1370.3L1110.9 1370.1L1111.6 1370.5L1112.3 1369.8L1113.0 1370.2L1113.7 1369.4L1114.4 1370.5L1115.1 1369.6L1115.8 1369.9L1116.5 1369.9L1117.2 1370.4L1117.9 1369.9L1118.6 1370.5L1119.3 1370.0L1120.0 1369.5L1120.7 1370.3L1121.4 1369.5L1122.1 1370.5L1122.8 1369.8L1123.5 1369.5L1124.2 1370.4L1124.9 1369.6L1125.6 1369.7L1126.3 1369.6L1127.0 1370.0L1127.7 1369.2L1128.4 1369.6L1129.1 1369.3L1129.8 1370.1L1130.5 1369.1L1131.2 1369.8L1131.9 1369.4L1132.6 1369.6L1133.3 1369.7L1134.0 1369.9L1134.7 1369.2L1135.4 1369.3L1136.1 1369.1L1136.8 1370.1L1137.5 1369.1L1138.2 1369.1L1138.9 1369.5L1139.6 1369.6L1140.3 1369.9L1141.0 1368.9L1141.7 1369.1L1142.4 1369.0L1143.1 1369.5L1143.8 1369.3L1144.5 1369.2L1145.2 1369.7L1145.9 1369.4L1146.6 1369.6L1147.3 1369.7L1148.0 1368.9L1148.7 1369.6L1149.4 1369.0L1150.1 1368.5L1150.8 1369.5L1151.5 1368.5L1152.2 1368.3L1152.9 1368.6L1153.6 1368.5L1154.3 1369.3L1155.0 1369.1L1155.7 1368.5L1156.4 1368.5L1157.1 1368.9L1157.8 1368.7L1158.5 1368.5L1159.2 1368.2L1159.9 1367.6L1160.6 1367.7L1161.3 1368.1L1162.0 1367.9L1162.7 1368.0L1163.4 1368.0L1164.1 1367.9L1164.8 1366.9L1165.5 1366.6L1166.2 1367.4L1166.9 1366.8L1167.6 1366.1L1168.3 1366.5L1169.0 1365.7L1169.7 1365.3L1170.4 1365.1L1171.1 1364.9L1171.8 1364.7L1172.5 1363.4L1173.2 1363.6L1173.9 1362.7L1174.6 1361.6L1175.3 1360.8L1176.0 1359.7L1176.7 1357.3L1177.4 1356.2L1178.1 1354.4L1178.8 1352.2L1179.5 1349.5L1180.2 1345.9L1180.9 1343.4L1181.6 1339.4L1182.3 1334.6L1183.0 1330.3L1183.7 1326.1L1184.4 1320.1L1185.1 1315.1L1185.8 1310.4L1186.5 1305.1L1187.2 1299.3L1187.9 1295.4L1188.6 1291.1L1189.3 1288.6L1190.0 1287.0L1190.7 1285.7L1191.4 1286.7L1192.1 1288.7L1192.8 1292.0L1193.5 1295.7L1194.2 1300.5L1194.9 1306.0L1195.6 1311.3L1196.3 1316.2L1197.0 1322.1L1197.7 1327.5L1198.4 1331.8L1199.1 1336.0L1199.8 1340.5L1200.5 1343.8L1201.2 1346.8L1201.9 1350.0L1202.6 1352.0L1203.3 1355.0L1204.0 1356.3L1204.7 1358.2L1205.4 1360.3L1206.1 1361.2L1206.8 1362.3L1207.5 1362.9L1208.2 1363.6L1208.9 1364.3L1209.6 1365.1L1210.3 1364.6L1211.0 1365.7L1211.7 1365.5L1212.4 1365.7L1213.1 1366.7L1213.8 1366.6L1214.5 1367.1L1215.2 1367.4L1215.9 1367.2L1216.6 1366.9L1217.3 1366.8L1218.0 1367.6L1218.7 1367.9L1219.4 1367.5L1220.1 1367.4L1220.8 1367.4L1221.5 1367.7L1222.2 1368.4L1222.9 1367.7L1223.6 1368.0L1224.3 1368.2L1225.0 1368.8L1225.7 1369.2L1226.4 1368.1L1227.1 1368.2L1227.8 1369.3L1228.5 1369.4L1229.2 1368.4L1229.9 1368.7L1230.6 1369.0L1231.3 1368.8L1232.0 1368.9L1232.7 1369.1L1233.4 1368.8L1234.1 1368.6L1234.8 1368.7L1235.5 1368.8L1236.2 1368.8L1236.9 1369.4L1237.6 1369.6L1238.3 1369.1L1239.0 1369.7L1239.7 1369.7L1240.4 1369.2L1241.1 1369.4L1241.8 1369.1L1242.5 1370.0L1243.2 1369.6L1243.9 1369.0L1244.6 1369.1L1245.3 1369.8L1246.0 1369.4L1246.7 1369.9L1247.4 1369.3L1248.1 1370.0L1248.8 1370.0L1249.5 1369.2L1250.2 1369.8L1250.9 1369.3L1251.6 1369.9L1252.3 1370.1L1253.0 1370.1L1253.7 1369.4L1254.4 1369.2L1255.1 1369.9L1255.8 1369.8L1256.5 1369.3L1257.2 1369.4L1257.9 1369.9L1258.6 1369.3L1259.3 1370.0L1260.0 1369.5L1260.7 1369.5L1261.4 1369.7L1262.1 1369.9L1262.8 1370.1L1263.5 1369.3L1264.2 1370.1L1264.9 1369.5L1265.6 1369.6L1266.3 1370.0L1267.0 1370.1L1267.7 1370.0L1268.4 1370.4L1269.1 1369.5L1269.8 1369.6L1270.5 1370.1L1271.2 1369.6L1271.9 1369.5L1272.6 1369.6L1273.3 1370.2L1274.0 1370.3L1274.7 1370.2L1275.4 1370.4L1276.1 1370.3L1276.8 1369.7L1277.5 1369.7L1278.2 1370.2L1278.9 1369.4L1279.6 1370.0L1280.3 1369.4L1281.0 1369.4L1281.7 1369.9L1282.4 1369.5L1283.1 1370.4L1283.8 1370.4L1284.5 1369.9L1285.2 1369.5L1285.9 1369.4L1286.6 1369.9L1287.3 1369.9L1288.0 1369.7L1288.7 1370.2L1289.4 1369.9L1290.1 1370.2L1290.8 1369.4L1291.5 1369.4L1292.2 1369.7L1292.9 1369.9L1293.6 1369.6L1294.3 1370.1L1295.0 1369.5L1295.7 1369.6L1296.4 1369.8L1297.1 1370.1L1297.8 1370.2L1298.5 1369.7L1299.2 1369.8L1299.9 1370.3L1300.6 1370.3L1301.3 1370.0L1302.0 1369.3L1302.7 1369.8L1303.4 1370.0L1304.1 1369.5L1304.8 1369.2L1305.5 1370.3L1306.2 1370.3L1306.9 1369.3L1307.6 1369.7L1308.3 1369.9L1309.0 1369.5L1309.7 1369.2L1310.4 1370.0L1311.1 1370.0L1311.8 1369.6L1312.5 1369.2L1313.2 1369.5L1313.9 1369.1L1314.6 1370.2L1315.3 1369.1L1316.0 1369.3L1316.7 1369.9L1317.4 1369.1L1318.1 1369.0L1318.8 1369.0L1319.5 1369.1L1320.2 1369.5L1320.9 1369.8L1321.6 1369.0L1322.3 1369.0L1323.0 1369.7L1323.7 1369.2L1324.4 1369.1L1325.1 1368.8L1325.8 1368.9L1326.5 1369.7L1327.2 1368.7L1327.9 1368.8L1328.6 1369.3L1329.3 1369.5L1330.0 1369.4L1330.7 1368.9L1331.4 1369.4L1332.1 1368.9L1332.8 1368.5L1333.5 1368.6L1334.2 1368.9L1334.9 1368.8L1335.6 1368.0L1336.3 1368.0L1337.0 1368.8L1337.7 1367.7L1338.4 1368.4L1339.1 1367.8L1339.8 1367.5L1340.5 1367.4L1341.2 1367.5L1341.9 1368.0L1342.6 1366.8L1343.3 1367.5L1344.0 1366.6L1344.7 1366.2L1345.4 1366.6L1346.1 1365.9L1346.8 1365.3L1347.5 1365.2L1348.2 1365.3L1348.9 1364.8L1349.6 1363.9L1350.3 1362.5L1351.0 1362.6L1351.7 1361.5L1352.4 1360.7L1353.1 1359.5L1353.8 1357.2L1354.5 1356.1L1355.2 1354.1L1355.9 1351.3L1356.6 1348.9L1357.3 1346.2L1358.0 1343.1L1358.7 1339.9L1359.4 1336.1L1360.1 1332.6L1360.8 1329.7L1361.5 1325.4L1362.2 1322.1L1362.9 1319.2L1363.6 1316.2L1364.3 1313.5L1365.0 1313.0L1365.7 1312.5L1366.4 1313.4L1367.1 1314.6L1367.8 1317.0L1368.5 1320.0L1369.2 1322.7L1369.9 1326.8L1370.6 1330.2L1371.3 1334.4L1372.0 1337.1L1372.7 1341.0L1373.4 1344.0L1374.1 1347.5L1374.8 1349.6L1375.5 1352.6L1376.2 1354.7L1376.9 1356.7L1377.6 1357.4L1378.3 1359.8L1379.0 1360.8L1379.7 1361.8L1380.4 1362.7L1381.1 1362.7L1381.8 1364.4L1382.5 1364.6L1383.2 1365.0L1383.9 1365.2L1384.6 1366.1L1385.3 1366.5L1386.0 1366.8L1386.7 1366.3L1387.4 1366.7L1388.1 1366.8L1388.8 1366.8L1389.5 1367.2L1390.2 1367.0L1390.9 1368.1L1391.6 1367.5L1392.3 1367.4L1393.0 1367.5L1393.7 1368.4L1394.4 1367.9L1395.1 1368.3L1395.8 1368.3L1396.5 1368.9L1397.2 1369.1L1397.9 1368.4L1398.6 1368.9L1399.3 1369.2L1400.0 1368.8L1400.7 1369.3L1401.4 1369.2L1402.1 1368.7L1402.8 1369.5L1403.5 1369.1L1404.2 1368.6L1404.9 1369.2L1405.6 1369.6L1406.3 1369.2L1407.0 1369.2L1407.7 1369.1L1408.4 1369.7L1409.1 1369.5L1409.8 1369.0L1410.5 1369.2L1411.2 1369.2L1411.9 1369.9L1412.6 1369.6L1413.3 1369.0L1414.0 1369.9L1414.7 1368.9L1415.4 1369.6L1416.1 1369.4L1416.8 1369.8L1417.5 1369.4L1418.2 1369.0L1418.9 1369.6L1419.6 1369.9L1420.3 1369.9L1421.0 1369.4L1421.7 1369.2L1422.4 1369.9L1423.1 1369.9L1423.8 1369.2L1424.5 1370.0L1425.2 1370.2L1425.9 1369.5L1426.6 1369.4L1427.3 1369.8L1428.0 1370.1L1428.7 1369.2L1429.4 1369.3L1430.1 1369.4L1430.8 1369.8L1431.5 1369.2L1432.2 1369.6L1432.9 1369.5L1433.6 1369.7L1434.3 1369.1L1435.0 1370.1L1435.7 1370.1L1436.4 1369.6L1437.1 1369.8L1437.8 1369.1L1438.5 1369.9L1439.2 1369.5L1439.9 1369.7L1440.6 1369.8L1441.3 1369.2L1442.0 1369.8L1442.7 1368.9L1443.4 1368.7L1444.1 1369.2L1444.8 1369.6L1445.5 1369.5L1446.2 1369.5L1446.9 1368.9L1447.6 1369.3L1448.3 1368.7L1449.0 1368.1L1449.7 1368.5L1450.4 1368.5L1451.1 1367.8L1451.8 1367.7L1452.5 1367.0L1453.2 1366.6L1453.9 1366.3L1454.6 1365.9L1455.3 1365.3L1456.0 1364.2L1456.7 1363.5L1457.4 1363.2L1458.1 1362.9L1458.8 1362.2L1459.5 1360.9L1460.2 1360.3L1460.9 1360.0L1461.6 1359.2L1462.3 1359.4L1463.0 1359.6L1463.7 1358.9L1464.4 1359.6L1465.1 1360.1L1465.8 1360.7L1466.5 1361.3L1467.2 1361.9L1467.9 1362.1L1468.6 1363.4L1469.3 1364.2L1470.0 1363.7L1470.7 1365.3L1471.4 1365.2L1472.1 1365.3L1472.8 1365.6L1473.5 1366.8L1474.2 1367.0L1474.9 1366.5L1475.6 1367.1L1476.3 1367.5L1477.0 1368.0L1477.7 1367.3L1478.4 1367.8L1479.1 1367.2L1479.8 1367.1L1480.5 1367.1L1481.2 1367.3L1481.9 1367.5L1482.6 1367.0L1483.3 1366.8L1484.0 1366.7L1484.7 1366.4L1485.4 1366.4L1486.1 1366.4L1486.8 1366.4L1487.5 1365.8L1488.2 1365.9L1488.9 1365.5L1489.6 1365.8L1490.3 1364.8L1491.0 1364.9L1491.7 1363.7L1492.4 1362.7L1493.1 1362.4L1493.8 1360.9L1494.5 1359.8L1495.2 1358.4L1495.9 1357.7L1496.6 1356.3L1497.3 1353.7L1498.0 1351.5L1498.7 1349.1L1499.4 1346.4L1500.1 1343.9L1500.8 1340.4L1501.5 1336.8L1502.2 1334.3L1502.9 1330.6L1503.6 1326.7L1504.3 1324.7L1505.0 1322.0L1505.7 1319.5L1506.4 1318.7L1507.1 1318.7L1507.8 1318.6L1508.5 1320.0L1509.2 1321.9L1509.9 1324.9L1510.6 1328.0L1511.3 1331.4L1512.0 1334.9L1512.7 1337.2L1513.4 1340.7L1514.1 1344.2L1514.8 1346.9L1515.5 1349.1L1516.2 1351.5L1516.9 1353.1L1517.6 1355.6L1518.3 1356.6L1519.0 1357.7L1519.7 1358.4L1520.4 1359.2L1521.1 1360.8L1521.8 1361.2L1522.5 1360.6L1523.2 1361.1L1523.9 1361.3L1524.6 1361.2L1525.3 1360.9L1526.0 1361.1L1526.7 1360.0L1527.4 1359.6L1528.1 1359.3L1528.8 1358.1L1529.5 1356.9L1530.2 1355.6L1530.9 1354.5L1531.6 1353.5L1532.3 1352.3L1533.0 1350.3L1533.7 1349.0L1534.4 1347.7L1535.1 1346.4L1535.8 1346.0L1536.5 1344.7L1537.2 1343.8L1537.9 1343.7L1538.6 1344.5L1539.3 1344.3L1540.0 1345.8L1540.7 1346.2L1541.4 1347.7L1542.1 1349.0L1542.8 1351.5L1543.5 1352.2L1544.2 1353.9L1544.9 1355.2L1545.6 1356.8L1546.3 1358.7L1547.0 1359.9L1547.7 1361.3L1548.4 1362.3L1549.1 1362.8L1549.8 1364.0L1550.5 1363.7L1551.2 1365.4L1551.9 1365.3L1552.6 1365.5L1553.3 1366.6L1554.0 1367.1L1554.7 1366.9L1555.4 1366.8L1556.1 1368.0L1556.8 1368.0L1557.5 1368.0L1558.2 1368.7L1558.9 1367.7L1559.6 1367.8L1560.3 1368.0L1561.0 1368.0L1561.7 1368.9L1562.4 1368.9L1563.1 1368.4L1563.8 1368.5L1564.5 1368.6L1565.2 1369.2L1565.9 1369.3L1566.6 1369.7L1567.3 1369.1L1568.0 1369.9L1568.7 1369.2L1569.4 1369.2L1570.1 1369.1L1570.8 1369.1L1571.5 1370.1L1572.2 1370.1L1572.9 1369.8L1573.6 1369.2L1574.3 1369.2L1575.0 1369.2L1575.7 1369.5L1576.4 1370.0L1577.1 1369.2L1577.8 1369.8L1578.5 1370.0L1579.2 1369.3L1579.9 1369.8L1580.6 1370.2L1581.3 1370.0L1582.0 1369.8L1582.7 1370.4L1583.4 1370.1L1584.1 1369.8L1584.8 1369.8L1585.5 1370.5L1586.2 1370.4L1586.9 1370.5L1587.6 1370.1L1588.3 1369.6L1589.0 1369.7L1589.7 1369.9L1590.4 1370.3L1591.1 1369.5L1591.8 1370.5L1592.5 1370.4L1593.2 1370.1L1593.9 1369.5L1594.6 1370.5L1595.3 1370.0L1596.0 1370.4L1596.7 1370.2L1597.4 1370.4L1598.1 1370.1L1598.8 1370.7L1599.5 1370.7L1600.2 1370.7L1600.9 1370.3L1601.6 1370.0L1602.3 1370.1L1603.0 1370.0L1603.7 1370.7L1604.4 1370.6L1605.1 1370.6L1605.8 1370.6L1606.5 1370.8L1607.2 1370.5L1607.9 1370.0L1608.6 1370.6L1609.3 1370.0L1610.0 1370.4L1610.7 1369.9L1611.4 1370.7L1612.1 1370.3L1612.8 1370.0L1613.5 1370.8L1614.2 1369.8L1614.9 1370.8L1615.6 1370.6L1616.3 1369.9L1617.0 1370.6L1617.7 1370.4L1618.4 1370.8L1619.1 1370.4L1619.8 1370.2L1620.5 1370.8L1621.2 1369.7L1621.9 1370.5L1622.6 1369.7L1623.3 1369.8L1624.0 1369.6L1624.7 1370.4L1625.4 1369.8L1626.1 1370.1L1626.8 1369.4L1627.5 1369.8L1628.2 1369.5L1628.9 1368.7L1629.6 1369.0L1630.3 1369.1L1631.0 1368.3L1631.7 1368.6L1632.4 1367.9L1633.1 1367.9L1633.8 1368.4L1634.5 1368.3L1635.2 1368.3L1635.9 1367.6L1636.6 1367.8L1637.3 1368.1L1638.0 1368.2L1638.7 1368.0L1639.4 1368.6L1640.1 1368.3L1640.8 1369.1L1641.5 1368.8L1642.2 1368.5L1642.9 1369.5L1643.6 1369.0L1644.3 1369.8L1645.0 1369.2L1645.7 1370.4L1646.4 1370.0L1647.1 1370.3L1647.8 1369.7L1648.5 1370.4L1649.2 1370.1L1649.9 1370.0L1650.6 1370.7L1651.3 1369.8L1652.0 1370.4L1652.7 1369.9L1653.4 1370.8L1654.1 1370.9L1654.8 1369.9L1655.5 1370.4L1656.2 1370.4L1656.9 1370.7L1657.6 1370.7L1658.3 1370.3L1659.0 1371.0L1659.7 1370.1L1660.4 1370.1L1661.1 1370.9L1661.8 1370.0L1662.5 1370.1L1663.2 1370.5L1663.9 1370.3L1664.6 1370.1L1665.3 1371.0L1666.0 1370.5L1666.7 1370.9L1667.4 1370.3L1668.1 1371.0L1668.8 1370.2L1669.5 1371.0L1670.2 1370.7L1670.9 1371.1L1671.6 1370.9L1672.3 1370.7L1673.0 1370.6L1673.7 1371.0L1674.4 1370.5L1675.1 1370.1L1675.8 1371.1L1676.5 1370.9L1677.2 1370.8L1677.9 1370.9L1678.6 1370.3L1679.3 1370.5L1680.0 1371.0L1680.7 1371.1L1681.4 1371.1L1682.1 1370.2L1682.8 1370.8L1683.5 1370.7L1684.2 1370.5L1684.9 1370.2L1685.6 1370.2L1686.3 1370.6L1687.0 1370.6L1687.7 1370.3L1688.4 1370.4L1689.1 1370.7L1689.8 1370.9L1690.5 1370.7L1691.2 1370.2L1691.9 1371.1L1692.6 1370.5L1693.3 1371.2L1694.0 1371.2L1694.7 1370.2L1695.4 1370.7L1696.1 1371.2L1696.8 1370.5L1697.5 1370.7L1698.2 1370.4L1698.9 1370.1L1699.6 1370.3L1700.3 1370.2L1701.0 1370.4L1701.7 1370.8L1702.4 1370.7L1703.1 1371.2L1703.8 1370.8L1704.5 1370.5L1705.2 1371.2L1705.9 1370.8L1706.6 1370.7L1707.3 1371.1L1708.0 1370.8L1708.7 1370.5L1709.4 1370.7L1710.1 1370.4L1710.8 1371.2L1711.5 1370.3L1712.2 1371.2L1712.9 1370.1L1713.6 1370.0L1714.3 1370.7L1715.0 1370.3L1715.7 1370.6L1716.4 1370.2L1717.1 1371.0L1717.8 1370.8L1718.5 1370.8L1719.2 1371.1L1719.9 1371.2L1720.6 1370.8L1721.3 1370.9L1722.0 1370.0L1722.7 1370.1L1723.4 1370.5L1724.1 1371.2L1724.8 1370.4L1725.5 1370.7L1726.2 1370.0L1726.9 1370.5L1727.6 1371.1L1728.3 1370.7L1729.0 1371.0L1729.7 1370.0L1730.4 1370.2L1731.1 1370.2L1731.8 1371.0L1732.5 1370.1L1733.2 1371.1L1733.9 1370.3L1734.6 1371.0L1735.3 1370.6L1736.0 1370.3L1736.7 1371.1L1737.4 1370.4L1738.1 1370.7L1738.8 1370.0L1739.5 1370.9L1740.2 1371.0L1740.9 1370.0L1741.6 1370.7L1742.3 1370.1L1743.0 1369.9L1743.7 1370.1L1744.4 1370.4L1745.1 1370.7L1745.8 1370.6L1746.5 1370.5L1747.2 1369.9L1747.9 1369.7L1748.6 1368.9L1749.3 1369.4L1750.0 1368.9L1750.7 1368.3L1751.4 1368.6L1752.1 1367.4L1752.8 1366.9L1753.5 1366.4L1754.2 1366.0L1754.9 1366.0L1755.6 1365.8L1756.3 1364.6L1757.0 1364.6L1757.7 1364.3L1758.4 1364.0L1759.1 1363.6L1759.8 1363.7L1760.5 1363.1L1761.2 1363.3L1761.9 1364.0L1762.6 1364.0L1763.3 1365.1L1764.0 1364.9L1764.7 1366.0L1765.4 1365.8L1766.1 1366.1L1766.8 1367.0L1767.5 1367.4L1768.2 1367.7L1768.9 1368.6L1769.6 1368.3L1770.3 1369.2L1771.0 1369.6L1771.7 1369.4L1772.4 1369.7L1773.1 1370.3L1773.8 1370.1L1774.5 1369.7L1775.2 1369.7L1775.9 1369.8L1776.6 1370.1L1777.3 1369.9L1778.0 1370.6L1778.7 1370.4L1779.4 1370.2L1780.1 1370.5L1780.8 1371.0L1781.5 1370.2L1782.2 1370.1L1782.9 1370.3L1783.6 1370.4L1784.3 1371.1L1785.0 1370.8L1785.7 1370.5L1786.4 1370.2L1787.1 1370.1L1787.8 1370.2L1788.5 1371.0L1789.2 1370.8L1789.9 1370.2L1790.6 1370.8L1791.3 1370.1L1792.0 1370.7L1792.7 1370.5L1793.4 1370.2L1794.1 1371.0L1794.8 1370.9L1795.5 1370.7L1796.2 1370.3L1796.9 1370.9L1797.6 1370.6L1798.3 1370.9L1799.0 1370.2L1799.7 1371.2L1800.4 1370.1L1801.1 1370.4L1801.8 1370.6L1802.5 1370.3L1803.2 1370.2L1803.9 1370.9L1804.6 1371.3L1805.3 1370.5L1806.0 1370.4L1806.7 1370.9L1807.4 1370.4L1808.1 1370.6L1808.8 1371.0L1809.5 1370.7L1810.2 1370.3L1810.9 1370.2L1811.6 1370.8L1812.3 1371.3L1813.0 1371.2L1813.7 1370.3L1814.4 1370.7L1815.1 1370.7L1815.8 1370.4L1816.5 1371.0L1817.2 1370.7L1817.9 1371.1L1818.6 1370.5L1819.3 1371.3L1820.0 1371.1L1820.7 1370.7L1821.4 1370.3L1822.1 1370.7L1822.8 1370.3L1823.5 1371.0L1824.2 1371.0L1824.9 1370.9L1825.6 1371.3L1826.3 1370.2L1827.0 1371.0L1827.7 1371.1L1828.4 1370.3L1829.1 1370.5L1829.8 1370.2L1830.5 1370.9L1831.2 1371.0L1831.9 1370.6L1832.6 1371.0L1833.3 1370.6L1834.0 1371.0L1834.7 1370.5L1835.4 1371.3L1836.1 1370.7L1836.8 1370.2L1837.5 1370.3L1838.2 1371.0L1838.9 1371.2L1839.6 1370.9L1840.3 1370.4L1841.0 1371.2L1841.7 1371.0L1842.4 1370.3L1843.1 1370.6L1843.8 1371.0L1844.5 1370.2L1845.2 1370.2L1845.9 1370.6L1846.6 1371.2L1847.3 1371.4L1848.0 1370.5L1848.7 1371.3L1849.4 1371.1L1850.1 1371.2L1850.8 1370.9L1851.5 1371.3L1852.2 1370.9L1852.9 1371.3L1853.6 1370.8L1854.3 1370.4L1855.0 1370.8L1855.7 1370.7L1856.4 1370.6L1857.1 1370.6L1857.8 1370.8L1858.5 1370.8L1859.2 1370.4L1859.9 1370.5L1860.6 1370.7L1861.3 1370.7L1862.0 1370.6L1862.7 1370.9L1863.4 1370.3L1864.1 1370.7L1864.8 1370.4L1865.5 1371.0L1866.2 1370.9L1866.9 1370.9L1867.6 1370.6L1868.3 1370.2L1869.0 1371.0L1869.7 1370.5L1870.4 1370.2L1871.1 1370.1L1871.8 1370.1L1872.5 1370.4L1873.2 1370.4L1873.9 1369.9L1874.6 1370.1L1875.3 1369.3L1876.0 1369.4L1876.7 1369.1L1877.4 1368.9L1878.1 1368.8L1878.8 1369.1L1879.5 1368.9L1880.2 1368.0L1880.9 1367.9L1881.6 1368.4L1882.3 1368.1L1883.0 1368.0L1883.7 1367.9L1884.4 1367.9L1885.1 1367.4L1885.8 1367.1L1886.5 1367.6L1887.2 1367.3L1887.9 1368.5L1888.6 1368.1L1889.3 1368.5L1890.0 1369.0L1890.7 1369.0L1891.4 1368.5L1892.1 1368.8L1892.8 1368.7L1893.5 1369.7L1894.2 1369.8L1894.9 1369.7L1895.6 1369.7L1896.3 1369.7L1897.0 1370.1L1897.7 1370.4L1898.4 1370.8L1899.1 1370.8L1899.8 1370.9L1900.5 1370.4L1901.2 1370.4L1901.9 1370.4L1902.6 1371.2L1903.3 1370.3L1904.0 1370.3L1904.7 1370.4L1905.4 1371.2L1906.1 1371.1L1906.8 1370.5L1907.5 1371.2L1908.2 1371.2L1908.9 1370.7L1909.6 1370.4L1910.3 1371.1L1911.0 1370.6L1911.7 1370.3L1912.4 1371.3L1913.1 1370.7L1913.8 1370.7L1914.5 1370.9L1915.2 1370.5L1915.9 1370.2L1916.6 1370.7L1917.3 1370.7L1918.0 1370.2L1918.7 1370.7L1919.4 1371.1L1920.1 1370.6L1920.8 1371.0L1921.5 1371.0L1922.2 1370.4L1922.9 1370.2L1923.6 1371.0L1924.3 1371.0L1925.0 1370.6L1925.7 1370.5L1926.4 1371.3L1927.1 1371.3L1927.8 1370.5L1928.5 1370.9L1929.2 1370.9L1929.9 1370.6L1930.6 1370.3L1931.3 1370.6L1932.0 1371.0L1932.7 1371.0L1933.4 1370.9L1934.1 1370.4L1934.8 1370.5L1935.5 1370.6L1936.2 1370.8L1936.9 1370.7L1937.6 1371.3L1938.3 1370.4L1939.0 1371.4L1939.7 1370.5L1940.4 1371.3L1941.1 1370.5L1941.8 1371.0L1942.5 1370.7L1943.2 1370.3L1943.9 1371.2L1944.6 1371.2L1945.3 1370.6L1946.0 1371.2L1946.7 1370.8L1947.4 1371.4L1948.1 1370.3L1948.8 1370.7L1949.5 1370.5L1950.2 1371.0L1950.9 1371.2L1951.6 1371.3L1952.3 1370.9L1953.0 1370.7L1953.7 1371.2L1954.4 1370.4L1955.1 1370.6L1955.8 1371.2L1956.5 1370.8L1957.2 1371.5L1957.9 1370.4L1958.6 1370.8L1959.3 1370.5L1960.0 1370.3L1960.7 1370.4L1961.4 1370.4L1962.1 1370.7L1962.8 1370.8L1963.5 1370.9L1964.2 1370.6L1964.9 1371.1L1965.6 1370.9L1966.3 1371.5L1967.0 1370.5L1967.7 1370.9L1968.4 1370.9L1969.1 1370.7L1969.8 1371.3L1970.5 1370.5L1971.2 1371.3L1971.9 1370.7L1972.6 1370.7L1973.3 1371.0L1974.0 1371.0L1974.7 1370.6L1975.4 1370.4L1976.1 1371.4L1976.8 1370.7L1977.5 1370.4L1978.2 1371.1L1978.9 1370.9L1979.6 1370.7L1980.3 1370.7L1981.0 1371.3L1981.7 1370.7L1982.4 1370.8L1983.1 1371.4L1983.8 1370.7L1984.5 1370.8L1985.2 1370.5L1985.9 1371.1L1986.6 1371.1L1987.3 1370.8L1988.0 1370.8L1988.7 1370.6L1989.4 1371.2L1990.1 1370.8L1990.8 1371.3L1991.5 1370.7L1992.2 1371.2L1992.9 1370.3L1993.6 1370.6L1994.3 1371.5L1995.0 1371.1L1995.7 1371.1L1996.4 1370.9L1997.1 1370.9L1997.8 1370.5L1998.5 1370.5L1999.2 1371.1L1999.9 1371.1L2000.6 1370.6L2001.3 1371.1L2002.0 1370.5L2002.7 1371.0L2003.4 1370.5L2004.1 1370.9L2004.8 1370.7L2005.5 1371.0L2006.2 1370.5L2006.9 1370.9L2007.6 1371.0L2008.3 1370.5L2009.0 1370.7L2009.7 1371.1L2010.4 1371.0L2011.1 1371.1L2011.8 1371.2L2012.5 1371.0L2013.2 1370.6L2013.9 1370.8L2014.6 1371.3L2015.3 1371.0L2016.0 1371.2L2016.7 1370.7L2017.4 1370.9L2018.1 1371.5L2018.8 1371.3L2019.5 1371.1L2020.2 1370.4L2020.9 1371.0L2021.6 1370.4L2022.3 1371.4L2023.0 1371.5L2023.7 1371.2L2024.4 1370.6L2025.1 1371.3L2025.8 1370.5L2026.5 1371.3L2027.2 1370.9L2027.9 1370.3L2028.6 1371.4L2029.3 1370.8L2030.0 1371.3L2030.7 1371.1L2031.4 1371.0L2032.1 1371.4L2032.8 1370.6L2033.5 1371.4L2034.2 1370.7L2034.9 1370.4L2035.6 1370.7L2036.3 1370.4L2037.0 1370.4L2037.7 1371.1L2038.4 1370.5L2039.1 1370.5L2039.8 1370.7L2040.5 1370.7L2041.2 1371.4L2041.9 1371.4L2042.6 1371.4L2043.3 1371.5L2044.0 1370.8L2044.7 1371.3L2045.4 1370.7L2046.1 1371.4L2046.8 1371.3L2047.5 1371.2L2048.2 1370.6L2048.9 1370.4L2049.6 1371.4L2050.3 1371.0L2051.0 1371.1L2051.7 1371.4L2052.4 1370.5L2053.1 1371.2L2053.8 1370.9L2054.5 1371.3L2055.2 1370.9L2055.9 1370.6L2056.6 1371.5L2057.3 1370.7L2058.0 1371.2L2058.7 1371.3L2059.4 1370.6L2060.1 1371.2L2060.8 1370.8L2061.5 1370.6L2062.2 1370.6L2062.9 1371.5L2063.6 1370.8L2064.3 1370.9L2065.0 1370.9L2065.7 1370.3L2066.4 1371.2L2067.1 1371.2L2067.8 1371.4L2068.5 1370.7L2069.2 1370.6L2069.9 1370.7L2070.6 1371.2L2071.3 1371.1L2072.0 1370.8L2072.7 1370.9L2073.4 1370.5L2074.1 1371.4L2074.8 1370.9L2075.5 1370.9L2076.2 1371.2L2076.9 1370.5L2077.6 1371.2L2078.3 1370.7L2079.0 1371.3L2079.7 1370.4L2080.4 1370.6L2081.1 1371.0L2081.8 1370.8L2082.5 1370.7L2083.2 1371.0L2083.9 1370.5L2084.6 1370.8L2085.3 1370.2L2086.0 1371.2L2086.7 1370.5L2087.4 1371.2L2088.1 1370.9L2088.8 1370.9L2089.5 1371.0L2090.2 1370.3L2090.9 1371.1L2091.6 1370.5L2092.3 1371.2L2093.0 1371.1L2093.7 1371.0L2094.4 1371.1L2095.1 1370.6L2095.8 1370.9L2096.5 1371.2L2097.2 1370.3L2097.9 1370.2L2098.6 1370.5L2099.3 1370.6L2100.0 1370.1L2100.7 1370.1L2101.4 1370.8L2102.1 1370.2L2102.8 1369.8L2103.5 1369.7L2104.2 1369.9L2104.9 1369.2L2105.6 1369.3L2106.3 1369.0L2107.0 1368.4L2107.7 1368.0L2108.4 1367.8L2109.1 1366.1L2109.8 1366.4L2110.5 1364.7L2111.2 1363.6L2111.9 1363.6L2112.6 1362.4L2113.3 1361.5L2114.0 1360.3L2114.7 1360.3L2115.4 1359.2L2116.1 1359.5L2116.8 1358.8L2117.5 1359.5L2118.2 1360.0L2118.9 1360.4L2119.6 1361.3L2120.3 1361.7L2121.0 1363.3L2121.7 1364.3L2122.4 1364.5L2123.1 1365.9L2123.8 1366.9L2124.5 1366.8L2125.2 1368.3L2125.9 1368.9L2126.6 1368.4L2127.3 1369.0L2128.0 1369.1" fill="none" stroke="#FF0000" stroke-width="12.3" stroke-linejoin="round" stroke-linecap="butt"/>
<path d="M161.0 1123.7L161.7 1123.5L162.4 1124.0L163.1 1123.7L163.8 1123.8L164.5 1124.0L165.2 1123.8L165.9 1124.3L166.6 1124.3L167.3 1123.5L168.0 1123.7L168.7 1123.4L169.4 1123.8L170.1 1123.5L170.8 1124.2L171.5 1124.3L172.2 1124.6L172.9 1123.7L173.6 1123.5L174.3 1124.3L175.0 1123.9L175.7 1124.5L176.4 1123.9L177.1 1123.8L177.8 1123.5L178.5 1124.6L179.2 1124.0L179.9 1124.0L180.6 1124.0L181.3 1124.4L182.0 1124.4L182.7 1124.0L183.4 1123.6L184.1 1123.9L184.8 1124.5L185.5 1123.9L186.2 1124.2L186.9 1124.1L187.6 1124.0L188.3 1124.1L189.0 1123.7L189.7 1124.1L190.4 1124.5L191.1 1123.5L191.8 1123.9L192.5 1124.5L193.2 1124.6L193.9 1123.4L194.6 1124.2L195.3 1124.2L196.0 1124.4L196.7 1124.0L197.4 1123.6L198.1 1123.8L198.8 1124.3L199.5 1124.3L200.2 1123.7L200.9 1124.2L201.6 1124.2L202.3 1124.2L203.0 1123.4L203.7 1123.9L204.4 1123.8L205.1 1124.1L205.8 1123.8L206.5 1123.6L207.2 1124.2L207.9 1123.8L208.6 1124.4L209.3 1123.8L210.0 1124.1L210.7 1124.4L211.4 1123.6L212.1 1124.3L212.8 1123.5L213.5 1124.6L214.2 1123.5L214.9 1124.3L215.6 1123.9L216.3 1123.7L217.0 1123.9L217.7 1124.0L218.4 1123.9L219.1 1123.6L219.8 1124.1L220.5 1123.8L221.2 1124.6L221.9 1123.9L222.6 1124.0L223.3 1123.7L224.0 1124.6L224.7 1123.8L225.4 1124.2L226.1 1124.4L226.8 1123.9L227.5 1124.4L228.2 1123.8L228.9 1123.6L229.6 1123.5L230.3 1124.0L231.0 1124.5L231.7 1123.7L232.4 1124.0L233.1 1124.4L233.8 1123.8L234.5 1123.6L235.2 1124.1L235.9 1124.0L236.6 1124.6L237.3 1124.5L238.0 1123.8L238.7 1124.1L239.4 1124.0L240.1 1123.5L240.8 1124.0L241.5 1124.6L242.2 1123.8L242.9 1124.2L243.6 1124.3L244.3 1123.5L245.0 1124.6L245.7 1123.6L246.4 1123.8L247.1 1124.3L247.8 1123.5L248.5 1123.9L249.2 1123.6L249.9 1124.0L250.6 1123.5L251.3 1123.7L252.0 1123.8L252.7 1123.6L253.4 1123.6L254.1 1123.7L254.8 1124.1L255.5 1123.7L256.2 1124.5L256.9 1124.0L257.6 1123.8L258.3 1123.8L259.0 1124.5L259.7 1123.5L260.4 1124.4L261.1 1123.6L261.8 1124.6L262.5 1124.0L263.2 1124.2L263.9 1124.5L264.6 1123.6L265.3 1123.6L266.0 1124.3L266.7 1124.2L267.4 1124.3L268.1 1123.8L268.8 1124.1L269.5 1123.7L270.2 1124.0L270.9 1123.8L271.6 1124.2L272.3 1123.8L273.0 1123.8L273.7 1124.3L274.4 1123.6L275.1 1124.4L275.8 1124.1L276.5 1123.8L277.2 1123.6L277.9 1124.1L278.6 1124.1L279.3 1124.4L280.0 1123.9L280.7 1124.0L281.4 1124.6L282.1 1123.8L282.8 1124.7L283.5 1124.6L284.2 1124.7L284.9 1124.6L285.6 1123.8L286.3 1124.5L287.0 1124.2L287.7 1123.7L288.4 1124.7L289.1 1124.3L289.8 1124.5L290.5 1124.2L291.2 1123.6L291.9 1124.5L292.6 1123.7L293.3 1123.8L294.0 1124.2L294.7 1123.7L295.4 1124.1L296.1 1124.4L296.8 1123.6L297.5 1124.3L298.2 1123.6L298.9 1124.1L299.6 1124.3L300.3 1124.3L301.0 1123.6L301.7 1123.7L302.4 1124.7L303.1 1124.0L303.8 1124.0L304.5 1124.0L305.2 1124.3L305.9 1124.4L306.6 1124.3L307.3 1124.0L308.0 1124.2L308.7 1124.1L309.4 1123.7L310.1 1124.6L310.8 1124.7L311.5 1124.4L312.2 1124.7L312.9 1124.1L313.6 1124.5L314.3 1123.8L315.0 1124.4L315.7 1124.4L316.4 1124.6L317.1 1124.5L317.8 1124.6L318.5 1123.7L319.2 1124.4L319.9 1124.0L320.6 1123.8L321.3 1123.9L322.0 1124.4L322.7 1124.4L323.4 1124.4L324.1 1124.2L324.8 1123.6L325.5 1123.6L326.2 1124.1L326.9 1123.7L327.6 1123.8L328.3 1123.5L329.0 1123.6L329.7 1124.3L330.4 1123.7L331.1 1124.4L331.8 1123.8L332.5 1124.4L333.2 1123.8L333.9 1123.7L334.6 1123.9L335.3 1123.4L336.0 1123.9L336.7 1123.9L337.4 1123.4L338.1 1124.4L338.8 1123.8L339.5 1123.4L340.2 1124.5L340.9 1123.7L341.6 1123.7L342.3 1123.4L343.0 1123.5L343.7 1124.2L344.4 1124.1L345.1 1124.0L345.8 1123.7L346.5 1123.7L347.2 1124.5L347.9 1123.8L348.6 1124.6L349.3 1124.4L350.0 1123.5L350.7 1124.4L351.4 1123.4L352.1 1124.2L352.8 1124.3L353.5 1124.2L354.2 1124.0L354.9 1124.3L355.6 1123.5L356.3 1124.0L357.0 1123.7L357.7 1123.8L358.4 1123.6L359.1 1124.2L359.8 1124.0L360.5 1124.3L361.2 1124.1L361.9 1124.1L362.6 1124.4L363.3 1124.3L364.0 1124.0L364.7 1123.7L365.4 1124.4L366.1 1123.8L366.8 1123.4L367.5 1123.7L368.2 1124.2L368.9 1124.4L369.6 1124.1L370.3 1124.1L371.0 1124.4L371.7 1124.2L372.4 1123.8L373.1 1123.8L373.8 1124.2L374.5 1123.7L375.2 1123.4L375.9 1124.0L376.6 1124.2L377.3 1123.6L378.0 1124.1L378.7 1124.3L379.4 1123.4L380.1 1123.4L380.8 1123.8L381.5 1123.6L382.2 1124.4L382.9 1124.4L383.6 1123.8L384.3 1124.2L385.0 1124.0L385.7 1123.4L386.4 1124.4L387.1 1123.4L387.8 1123.3L388.5 1123.7L389.2 1123.2L389.9 1123.8L390.6 1123.7L391.3 1124.3L392.0 1123.7L392.7 1124.2L393.4 1124.1L394.1 1123.9L394.8 1123.4L395.5 1123.5L396.2 1123.7L396.9 1123.6L397.6 1123.9L398.3 1123.7L399.0 1123.5L399.7 1123.8L400.4 1124.3L401.1 1123.3L401.8 1123.5L402.5 1123.1L403.2 1123.2L403.9 1123.1L404.6 1123.5L405.3 1124.0L406.0 1123.8L406.7 1124.2L407.4 1124.0L408.1 1123.7L408.8 1123.7L409.5 1123.0L410.2 1123.4L410.9 1123.3L411.6 1123.7L412.3 1123.0L413.0 1123.6L413.7 1123.3L414.4 1123.5L415.1 1123.3L415.8 1123.0L416.5 1123.7L417.2 1123.8L417.9 1123.5L418.6 1122.9L419.3 1123.5L420.0 1123.8L420.7 1123.9L421.4 1123.6L422.1 1122.8L422.8 1123.7L423.5 1123.5L424.2 1123.0L424.9 1123.7L425.6 1123.6L426.3 1123.7L427.0 1122.9L427.7 1123.2L428.4 1123.0L429.1 1122.8L429.8 1123.4L430.5 1123.2L431.2 1122.8L431.9 1123.0L432.6 1123.5L433.3 1123.0L434.0 1123.4L434.7 1122.9L435.4 1123.4L436.1 1122.2L436.8 1122.7L437.5 1122.8L438.2 1123.0L438.9 1123.2L439.6 1122.7L440.3 1122.5L441.0 1122.7L441.7 1122.5L442.4 1122.7L443.1 1122.9L443.8 1121.7L444.5 1122.0L445.2 1122.6L445.9 1121.6L446.6 1122.4L447.3 1121.4L448.0 1122.1L448.7 1122.2L449.4 1121.5L450.1 1121.6L450.8 1121.3L451.5 1121.8L452.2 1121.5L452.9 1121.5L453.6 1121.0L454.3 1121.2L455.0 1121.6L455.7 1121.2L456.4 1121.3L457.1 1120.4L457.8 1120.5L458.5 1120.2L459.2 1120.0L459.9 1120.4L460.6 1119.5L461.3 1119.7L462.0 1119.8L462.7 1119.8L463.4 1118.4L464.1 1118.5L464.8 1118.5L465.5 1118.7L466.2 1117.5L466.9 1117.9L467.6 1117.1L468.3 1116.8L469.0 1116.9L469.7 1115.4L470.4 1115.2L471.1 1114.4L471.8 1113.8L472.5 1113.3L473.2 1113.0L473.9 1112.1L474.6 1110.6L475.3 1110.4L476.0 1108.9L476.7 1107.2L477.4 1106.6L478.1 1105.0L478.8 1102.5L479.5 1101.3L480.2 1098.8L480.9 1095.4L481.6 1092.0L482.3 1089.4L483.0 1085.2L483.7 1079.5L484.4 1074.7L485.1 1068.2L485.8 1060.6L486.5 1052.2L487.2 1042.7L487.9 1031.2L488.6 1020.4L489.3 1009.2L490.0 998.1L490.7 990.4L491.4 985.8L492.1 985.7L492.8 989.4L493.5 996.7L494.2 1006.7L494.9 1018.3L495.6 1029.2L496.3 1040.9L497.0 1050.8L497.7 1058.8L498.4 1066.9L499.1 1073.5L499.8 1078.6L500.5 1084.3L501.2 1088.5L501.9 1091.6L502.6 1094.5L503.3 1097.4L504.0 1100.4L504.7 1102.1L505.4 1104.3L506.1 1105.2L506.8 1106.5L507.5 1108.1L508.2 1109.8L508.9 1110.0L509.6 1110.7L510.3 1112.4L511.0 1112.3L511.7 1113.6L512.4 1113.5L513.1 1114.3L513.8 1115.2L514.5 1115.9L515.2 1115.8L515.9 1116.2L516.6 1116.0L517.3 1116.7L518.0 1116.9L518.7 1117.8L519.4 1117.9L520.1 1118.2L520.8 1118.1L521.5 1118.5L522.2 1118.0L522.9 1118.4L523.6 1118.5L524.3 1118.6L525.0 1119.2L525.7 1118.7L526.4 1118.9L527.1 1118.9L527.8 1119.7L528.5 1119.5L529.2 1119.3L529.9 1119.3L530.6 1119.9L531.3 1120.0L532.0 1119.4L532.7 1119.5L533.4 1119.9L534.1 1119.2L534.8 1119.1L535.5 1118.9L536.2 1119.4L536.9 1119.6L537.6 1118.8L538.3 1119.1L539.0 1119.7L539.7 1119.0L540.4 1118.7L541.1 1119.2L541.8 1119.1L542.5 1118.3L543.2 1117.8L543.9 1118.2L544.6 1118.2L545.3 1118.1L546.0 1117.5L546.7 1116.8L547.4 1116.7L548.1 1116.1L548.8 1115.8L549.5 1115.4L550.2 1115.4L550.9 1114.8L551.6 1114.1L552.3 1112.7L553.0 1112.4L553.7 1110.3L554.4 1110.0L555.1 1108.2L555.8 1106.8L556.5 1104.2L557.2 1102.4L557.9 1098.3L558.6 1095.6L559.3 1091.0L560.0 1084.7L560.7 1078.0L561.4 1068.0L562.1 1056.8L562.8 1041.3L563.5 1022.4L564.2 999.9L564.9 977.5L565.6 958.8L566.3 950.7L567.0 959.0L567.7 976.6L568.4 999.8L569.1 1021.9L569.8 1040.8L570.5 1056.2L571.2 1068.0L571.9 1076.8L572.6 1083.5L573.3 1088.8L574.0 1093.2L574.7 1097.3L575.4 1100.2L576.1 1102.3L576.8 1104.9L577.5 1105.7L578.2 1106.9L578.9 1108.1L579.6 1108.7L580.3 1110.3L581.0 1110.5L581.7 1110.9L582.4 1111.2L583.1 1111.3L583.8 1111.6L584.5 1112.0L585.2 1112.0L585.9 1112.7L586.6 1112.2L587.3 1111.7L588.0 1111.4L588.7 1111.4L589.4 1111.4L590.1 1111.7L590.8 1111.6L591.5 1110.4L592.2 1110.7L592.9 1109.8L593.6 1109.4L594.3 1108.9L595.0 1107.6L595.7 1106.9L596.4 1106.9L597.1 1106.0L597.8 1104.7L598.5 1104.2L599.2 1102.9L599.9 1101.0L600.6 1099.2L601.3 1098.1L602.0 1096.4L602.7 1093.7L603.4 1091.2L604.1 1089.1L604.8 1085.5L605.5 1083.0L606.2 1079.0L606.9 1074.2L607.6 1069.4L608.3 1063.4L609.0 1056.7L609.7 1049.1L610.4 1041.1L611.1 1030.6L611.8 1019.3L612.5 1005.6L613.2 991.3L613.9 974.5L614.6 956.7L615.3 938.0L616.0 920.4L616.7 904.2L617.4 893.4L618.1 887.0L618.8 887.3L619.5 894.5L620.2 906.3L620.9 922.7L621.6 940.7L622.3 959.8L623.0 976.5L623.7 993.4L624.4 1008.6L625.1 1021.6L625.8 1032.9L626.5 1042.4L627.2 1050.9L627.9 1059.0L628.6 1065.1L629.3 1071.3L630.0 1075.8L630.7 1080.6L631.4 1084.2L632.1 1087.9L632.8 1091.1L633.5 1093.1L634.2 1096.2L634.9 1097.1L635.6 1100.1L636.3 1100.8L637.0 1102.9L637.7 1104.1L638.4 1105.9L639.1 1106.5L639.8 1107.4L640.5 1109.1L641.2 1109.7L641.9 1110.8L642.6 1111.2L643.3 1111.4L644.0 1112.9L644.7 1112.8L645.4 1113.7L646.1 1113.6L646.8 1114.4L647.5 1115.4L648.2 1115.9L648.9 1116.1L649.6 1116.3L650.3 1117.0L651.0 1117.2L651.7 1117.0L652.4 1117.7L653.1 1118.0L653.8 1118.4L654.5 1118.0L655.2 1118.4L655.9 1118.6L656.6 1118.6L657.3 1119.1L658.0 1119.7L658.7 1119.7L659.4 1119.4L660.1 1120.2L660.8 1119.6L661.5 1120.5L662.2 1119.9L662.9 1120.0L663.6 1120.3L664.3 1120.8L665.0 1120.6L665.7 1121.4L666.4 1121.6L667.1 1120.9L667.8 1121.6L668.5 1121.6L669.2 1121.5L669.9 1121.3L670.6 1122.2L671.3 1122.3L672.0 1121.2L672.7 1121.7L673.4 1121.7L674.1 1121.7L674.8 1122.0L675.5 1122.6L676.2 1121.6L676.9 1122.7L677.6 1122.1L678.3 1121.8L679.0 1122.9L679.7 1122.2L680.4 1122.2L681.1 1122.1L681.8 1122.5L682.5 1122.2L683.2 1122.4L683.9 1122.5L684.6 1122.9L685.3 1122.8L686.0 1122.7L686.7 1123.0L687.4 1123.3L688.1 1123.3L688.8 1122.9L689.5 1123.6L690.2 1123.5L690.9 1123.2L691.6 1123.2L692.3 1123.0L693.0 1122.8L693.7 1123.8L694.4 1123.5L695.1 1122.9L695.8 1123.9L696.5 1123.9L697.2 1122.9L697.9 1123.7L698.6 1123.2L699.3 1123.5L700.0 1123.9L700.7 1123.4L701.4 1123.6L702.1 1123.8L702.8 1123.3L703.5 1123.8L704.2 1123.6L704.9 1124.3L705.6 1123.3L706.3 1124.0L707.0 1123.2L707.7 1123.5L708.4 1123.3L709.1 1123.4L709.8 1123.8L710.5 1123.4L711.2 1124.2L711.9 1123.4L712.6 1124.0L713.3 1124.3L714.0 1123.5L714.7 1123.6L715.4 1124.3L716.1 1123.9L716.8 1124.5L717.5 1123.8L718.2 1123.9L718.9 1124.6L719.6 1123.8L720.3 1124.6L721.0 1124.5L721.7 1123.7L722.4 1124.1L723.1 1124.6L723.8 1123.6L724.5 1124.5L725.2 1124.5L725.9 1124.4L726.6 1124.3L727.3 1123.7L728.0 1124.7L728.7 1123.7L729.4 1124.5L730.1 1124.5L730.8 1124.0L731.5 1124.4L732.2 1124.1L732.9 1124.5L733.6 1123.7L734.3 1124.8L735.0 1124.1L735.7 1124.6L736.4 1124.3L737.1 1124.7L737.8 1124.1L738.5 1124.4L739.2 1123.8L739.9 1124.3L740.6 1123.8L741.3 1124.8L742.0 1124.6L742.7 1124.3L743.4 1124.9L744.1 1124.9L744.8 1124.9L745.5 1123.9L746.2 1124.6L746.9 1124.7L747.6 1124.5L748.3 1123.8L749.0 1124.9L749.7 1124.4L750.4 1124.6L751.1 1124.8L751.8 1124.2L752.5 1123.9L753.2 1125.0L753.9 1124.2L754.6 1123.9L755.3 1124.1L756.0 1125.1L756.7 1124.8L757.4 1124.2L758.1 1124.1L758.8 1125.0L759.5 1124.7L760.2 1124.6L760.9 1124.1L761.6 1124.4L762.3 1125.1L763.0 1124.0L763.7 1124.5L764.4 1124.0L765.1 1125.2L765.8 1124.1L766.5 1125.1L767.2 1125.0L767.9 1124.9L768.6 1124.0L769.3 1124.8L770.0 1124.6L770.7 1124.6L771.4 1124.2L772.1 1124.6L772.8 1125.0L773.5 1124.2L774.2 1125.1L774.9 1124.5L775.6 1124.4L776.3 1124.3L777.0 1124.6L777.7 1124.8L778.4 1124.7L779.1 1125.1L779.8 1124.7L780.5 1124.7L781.2 1125.3L781.9 1124.3L782.6 1124.1L783.3 1124.5L784.0 1124.5L784.7 1124.2L785.4 1124.6L786.1 1124.1L786.8 1125.2L787.5 1124.7L788.2 1125.2L788.9 1125.0L789.6 1125.0L790.3 1125.0L791.0 1124.5L791.7 1125.0L792.4 1124.4L793.1 1124.8L793.8 1124.9L794.5 1125.1L795.2 1124.4L795.9 1124.6L796.6 1125.2L797.3 1125.2L798.0 1125.4L798.7 1124.3L799.4 1124.5L800.1 1124.3L800.8 1125.1L801.5 1125.1L802.2 1125.0L802.9 1125.2L803.6 1124.8L804.3 1124.9L805.0 1125.3L805.7 1125.0L806.4 1125.0L807.1 1124.9L807.8 1124.8L808.5 1125.2L809.2 1124.9L809.9 1124.4L810.6 1124.8L811.3 1124.8L812.0 1124.8L812.7 1124.9L813.4 1124.7L814.1 1124.7L814.8 1124.8L815.5 1124.7L816.2 1125.4L816.9 1124.4L817.6 1124.3L818.3 1125.1L819.0 1124.8L819.7 1124.8L820.4 1125.0L821.1 1124.7L821.8 1124.6L822.5 1124.3L823.2 1125.3L823.9 1125.4L824.6 1124.6L825.3 1124.9L826.0 1124.7L826.7 1124.4L827.4 1125.4L828.1 1125.3L828.8 1124.6L829.5 1124.6L830.2 1125.1L830.9 1125.3L831.6 1124.9L832.3 1124.8L833.0 1124.6L833.7 1125.3L834.4 1125.4L835.1 1125.3L835.8 1124.5L836.5 1125.0L837.2 1125.5L837.9 1125.2L838.6 1124.9L839.3 1124.5L840.0 1124.4L840.7 1125.2L841.4 1124.4L842.1 1125.3L842.8 1125.1L843.5 1124.9L844.2 1125.4L844.9 1125.5L845.6 1125.1L846.3 1124.5L847.0 1125.0L847.7 1124.8L848.4 1124.6L849.1 1125.4L849.8 1125.2L850.5 1124.5L851.2 1124.6L851.9 1124.7L852.6 1125.0L853.3 1124.7L854.0 1124.9L854.7 1125.3L855.4 1124.6L856.1 1125.2L856.8 1124.7L857.5 1125.5L858.2 1125.5L858.9 1124.7L859.6 1125.1L860.3 1124.5L861.0 1124.8L861.7 1125.1L862.4 1125.1L863.1 1124.7L863.8 1124.4L864.5 1124.5L865.2 1125.0L865.9 1124.5L866.6 1124.7L867.3 1125.1L868.0 1125.4L868.7 1125.0L869.4 1124.6L870.1 1125.0L870.8 1124.7L871.5 1125.3L872.2 1124.5L872.9 1124.6L873.6 1124.8L874.3 1125.4L875.0 1124.5L875.7 1124.5L876.4 1124.5L877.1 1124.6L877.8 1124.7L878.5 1124.8L879.2 1125.2L879.9 1124.8L880.6 1124.8L881.3 1124.7L882.0 1125.2L882.7 1125.3L883.4 1124.8L884.1 1125.3L884.8 1124.5L885.5 1125.4L886.2 1124.8L886.9 1125.0L887.6 1124.6L888.3 1124.5L889.0 1124.3L889.7 1125.2L890.4 1124.6L891.1 1125.0L891.8 1124.7L892.5 1124.7L893.2 1124.3L893.9 1124.3L894.6 1124.4L895.3 1124.8L896.0 1124.7L896.7 1124.0L897.4 1124.8L898.1 1124.5L898.8 1124.0L899.5 1124.2L900.2 1124.1L900.9 1124.8L901.6 1124.5L902.3 1124.2L903.0 1124.0L903.7 1124.1L904.4 1124.0L905.1 1124.0L905.8 1124.5L906.5 1124.5L907.2 1124.3L907.9 1124.5L908.6 1124.1L909.3 1123.4L910.0 1123.3L910.7 1123.3L911.4 1123.4L912.1 1123.6L912.8 1123.8L913.5 1123.4L914.2 1123.1L914.9 1122.8L915.6 1123.5L916.3 1123.0L917.0 1122.4L917.7 1121.8L918.4 1122.8L919.1 1121.6L919.8 1122.0L920.5 1120.8L921.2 1121.0L921.9 1120.1L922.6 1120.1L923.3 1118.7L924.0 1117.5L924.7 1116.5L925.4 1115.8L926.1 1114.2L926.8 1111.6L927.5 1109.0L928.2 1105.3L928.9 1101.4L929.6 1096.8L930.3 1093.0L931.0 1086.5L931.7 1081.8L932.4 1076.3L933.1 1071.9L933.8 1069.6L934.5 1069.8L935.2 1070.7L935.9 1074.2L936.6 1079.5L937.3 1084.9L938.0 1090.2L938.7 1094.9L939.4 1100.4L940.1 1103.5L940.8 1107.1L941.5 1110.1L942.2 1112.8L942.9 1114.7L943.6 1116.4L944.3 1117.8L945.0 1119.1L945.7 1119.4L946.4 1119.5L947.1 1121.0L947.8 1120.5L948.5 1121.3L949.2 1121.4L949.9 1122.2L950.6 1122.7L951.3 1122.2L952.0 1122.6L952.7 1123.4L953.4 1123.4L954.1 1122.8L954.8 1123.7L955.5 1123.9L956.2 1123.6L956.9 1123.4L957.6 1124.1L958.3 1123.7L959.0 1123.6L959.7 1123.7L960.4 1124.0L961.1 1123.8L961.8 1124.1L962.5 1124.4L963.2 1124.5L963.9 1124.3L964.6 1124.8L965.3 1124.0L966.0 1124.4L966.7 1125.1L967.4 1125.1L968.1 1125.2L968.8 1125.0L969.5 1124.8L970.2 1125.1L970.9 1124.9L971.6 1124.3L972.3 1124.5L973.0 1124.4L973.7 1125.3L974.4 1124.7L975.1 1124.8L975.8 1125.0L976.5 1124.5L977.2 1125.2L977.9 1125.3L978.6 1125.3L979.3 1125.5L980.0 1124.8L980.7 1124.6L981.4 1125.4L982.1 1125.3L982.8 1124.9L983.5 1124.9L984.2 1124.7L984.9 1125.5L985.6 1125.1L986.3 1125.5L987.0 1124.9L987.7 1124.9L988.4 1125.2L989.1 1125.4L989.8 1125.6L990.5 1125.0L991.2 1125.4L991.9 1125.1L992.6 1125.6L993.3 1125.5L994.0 1125.3L994.7 1125.0L995.4 1124.9L996.1 1125.7L996.8 1125.6L997.5 1125.0L998.2 1124.7L998.9 1124.9L999.6 1125.8L1000.3 1124.7L1001.0 1125.6L1001.7 1125.3L1002.4 1125.3L1003.1 1125.3L1003.8 1125.2L1004.5 1125.3L1005.2 1124.8L1005.9 1125.8L1006.6 1124.8L1007.3 1124.9L1008.0 1125.5L1008.7 1125.5L1009.4 1125.7L1010.1 1125.5L1010.8 1125.8L1011.5 1124.8L1012.2 1124.7L1012.9 1125.0L1013.6 1125.7L1014.3 1124.9L1015.0 1125.4L1015.7 1125.7L1016.4 1124.9L1017.1 1125.4L1017.8 1125.8L1018.5 1125.6L1019.2 1125.2L1019.9 1125.3L1020.6 1125.1L1021.3 1125.9L1022.0 1125.7L1022.7 1125.6L1023.4 1125.1L1024.1 1125.6L1024.8 1125.3L1025.5 1125.7L1026.2 1125.2L1026.9 1125.8L1027.6 1125.6L1028.3 1125.3L1029.0 1125.4L1029.7 1125.7L1030.4 1125.4L1031.1 1125.9L1031.8 1124.8L1032.5 1125.9L1033.2 1125.6L1033.9 1125.4L1034.6 1125.8L1035.3 1125.0L1036.0 1125.2L1036.7 1125.6L1037.4 1125.8L1038.1 1125.2L1038.8 1126.0L1039.5 1125.6L1040.2 1124.8L1040.9 1124.9L1041.6 1124.9L1042.3 1125.5L1043.0 1125.2L1043.7 1125.1L1044.4 1125.3L1045.1 1124.9L1045.8 1125.9L1046.5 1125.8L1047.2 1125.5L1047.9 1125.3L1048.6 1125.2L1049.3 1125.5L1050.0 1125.2L1050.7 1126.0L1051.4 1126.0L1052.1 1125.7L1052.8 1125.8L1053.5 1124.9L1054.2 1125.0L1054.9 1125.2L1055.6 1125.0L1056.3 1125.3L1057.0 1126.0L1057.7 1125.8L1058.4 1126.0L1059.1 1125.1L1059.8 1125.1L1060.5 1124.8L1061.2 1125.1L1061.9 1124.9L1062.6 1125.5L1063.3 1125.2L1064.0 1125.6L1064.7 1125.5L1065.4 1125.5L1066.1 1125.2L1066.8 1125.7L1067.5 1125.6L1068.2 1125.7L1068.9 1125.4L1069.6 1125.4L1070.3 1125.1L1071.0 1124.8L1071.7 1125.4L1072.4 1125.5L1073.1 1125.0L1073.8 1125.8L1074.5 1125.8L1075.2 1125.8L1075.9 1125.8L1076.6 1125.4L1077.3 1125.0L1078.0 1125.1L1078.7 1125.7L1079.4 1126.0L1080.1 1124.9L1080.8 1124.8L1081.5 1125.2L1082.2 1125.2L1082.9 1125.5L1083.6 1124.9L1084.3 1125.8L1085.0 1125.2L1085.7 1125.9L1086.4 1125.2L1087.1 1125.1L1087.8 1125.0L1088.5 1125.9L1089.2 1125.5L1089.9 1125.8L1090.6 1124.8L1091.3 1125.4L1092.0 1125.6L1092.7 1125.9L1093.4 1125.9L1094.1 1124.9L1094.8 1125.2L1095.5 1126.0L1096.2 1125.4L1096.9 1125.9L1097.6 1125.1L1098.3 1124.8L1099.0 1125.9L1099.7 1125.1L1100.4 1125.4L1101.1 1125.2L1101.8 1125.4L1102.5 1125.9L1103.2 1125.9L1103.9 1125.8L1104.6 1125.0L1105.3 1125.7L1106.0 1124.7L1106.7 1125.2L1107.4 1125.8L1108.1 1125.0L1108.8 1125.1L1109.5 1125.4L1110.2 1125.0L1110.9 1125.5L1111.6 1125.5L1112.3 1124.8L1113.0 1125.8L1113.7 1124.8L1114.4 1125.5L1115.1 1125.1L1115.8 1124.8L1116.5 1124.7L1117.2 1125.8L1117.9 1125.6L1118.6 1125.2L1119.3 1125.6L1120.0 1125.8L1120.7 1125.7L1121.4 1125.2L1122.1 1124.9L1122.8 1125.2L1123.5 1125.8L1124.2 1125.4L1124.9 1125.4L1125.6 1125.6L1126.3 1125.0L1127.0 1125.2L1127.7 1125.5L1128.4 1124.8L1129.1 1125.5L1129.8 1124.5L1130.5 1125.1L1131.2 1125.2L1131.9 1124.6L1132.6 1125.5L1133.3 1125.0L1134.0 1124.6L1134.7 1124.9L1135.4 1125.1L1136.1 1124.9L1136.8 1124.3L1137.5 1124.4L1138.2 1125.2L1138.9 1124.4L1139.6 1124.6L1140.3 1125.2L1141.0 1125.3L1141.7 1125.3L1142.4 1124.4L1143.1 1124.2L1143.8 1125.0L1144.5 1124.8L1145.2 1124.5L1145.9 1124.1L1146.6 1124.5L1147.3 1124.3L1148.0 1124.6L1148.7 1125.1L1149.4 1124.1L1150.1 1123.9L1150.8 1124.6L1151.5 1123.8L1152.2 1123.9L1152.9 1124.1L1153.6 1124.7L1154.3 1123.9L1155.0 1123.8L1155.7 1123.9L1156.4 1123.5L1157.1 1123.7L1157.8 1124.0L1158.5 1123.4L1159.2 1123.9L1159.9 1123.1L1160.6 1122.9L1161.3 1123.4L1162.0 1123.1L1162.7 1123.5L1163.4 1122.4L1164.1 1123.0L1164.8 1122.7L1165.5 1122.1L1166.2 1121.6L1166.9 1122.0L1167.6 1121.9L1168.3 1121.2L1169.0 1120.8L1169.7 1120.7L1170.4 1120.1L1171.1 1119.2L1171.8 1118.2L1172.5 1117.7L1173.2 1116.8L1173.9 1116.0L1174.6 1114.7L1175.3 1112.5L1176.0 1110.3L1176.7 1107.9L1177.4 1105.8L1178.1 1103.0L1178.8 1099.0L1179.5 1095.9L1180.2 1092.2L1180.9 1087.2L1181.6 1083.3L1182.3 1077.9L1183.0 1073.4L1183.7 1068.9L1184.4 1063.6L1185.1 1059.8L1185.8 1057.2L1186.5 1053.7L1187.2 1052.7L1187.9 1052.8L1188.6 1054.3L1189.3 1056.4L1190.0 1060.0L1190.7 1063.6L1191.4 1067.2L1192.1 1072.0L1192.8 1076.8L1193.5 1082.0L1194.2 1086.1L1194.9 1091.1L1195.6 1095.3L1196.3 1098.5L1197.0 1102.7L1197.7 1105.1L1198.4 1108.4L1199.1 1110.0L1199.8 1112.4L1200.5 1114.0L1201.2 1115.1L1201.9 1116.9L1202.6 1117.1L1203.3 1118.2L1204.0 1119.0L1204.7 1120.3L1205.4 1120.4L1206.1 1120.3L1206.8 1121.0L1207.5 1121.7L1208.2 1122.2L1208.9 1121.6L1209.6 1122.6L1210.3 1122.3L1211.0 1122.7L1211.7 1122.7L1212.4 1122.9L1213.1 1123.7L1213.8 1123.7L1214.5 1123.9L1215.2 1123.8L1215.9 1123.8L1216.6 1123.2L1217.3 1123.2L1218.0 1124.2L1218.7 1124.1L1219.4 1124.1L1220.1 1123.8L1220.8 1123.8L1221.5 1124.7L1222.2 1124.3L1222.9 1123.7L1223.6 1124.2L1224.3 1124.2L1225.0 1123.9L1225.7 1125.1L1226.4 1125.0L1227.1 1124.9L1227.8 1124.0L1228.5 1124.5L1229.2 1124.2L1229.9 1125.0L1230.6 1125.1L1231.3 1125.1L1232.0 1125.1L1232.7 1124.4L1233.4 1124.3L1234.1 1124.4L1234.8 1125.3L1235.5 1125.3L1236.2 1125.0L1236.9 1124.6L1237.6 1125.4L1238.3 1124.5L1239.0 1124.8L1239.7 1124.4L1240.4 1125.6L1241.1 1125.0L1241.8 1125.4L1242.5 1125.4L1243.2 1125.2L1243.9 1125.7L1244.6 1125.5L1245.3 1125.6L1246.0 1125.7L1246.7 1124.7L1247.4 1125.5L1248.1 1124.8L1248.8 1125.0L1249.5 1125.0L1250.2 1125.8L1250.9 1124.7L1251.6 1125.1L1252.3 1124.8L1253.0 1125.8L1253.7 1125.2L1254.4 1125.5L1255.1 1125.3L1255.8 1125.6L1256.5 1125.1L1257.2 1125.2L1257.9 1125.6L1258.6 1125.5L1259.3 1125.8L1260.0 1125.1L1260.7 1125.7L1261.4 1125.6L1262.1 1125.4L1262.8 1125.2L1263.5 1125.4L1264.2 1124.8L1264.9 1124.8L1265.6 1125.1L1266.3 1124.9L1267.0 1124.8L1267.7 1125.6L1268.4 1125.6L1269.1 1125.5L1269.8 1125.0L1270.5 1125.6L1271.2 1125.7L1271.9 1125.5L1272.6 1125.0L1273.3 1125.4L1274.0 1125.2L1274.7 1125.1L1275.4 1124.9L1276.1 1125.8L1276.8 1125.5L1277.5 1125.9L1278.2 1125.0L1278.9 1125.1L1279.6 1125.4L1280.3 1124.8L1281.0 1125.1L1281.7 1125.4L1282.4 1125.3L1283.1 1125.8L1283.8 1125.4L1284.5 1125.5L1285.2 1125.5L1285.9 1125.7L1286.6 1125.2L1287.3 1124.7L1288.0 1125.9L1288.7 1125.7L1289.4 1124.9L1290.1 1124.9L1290.8 1125.0L1291.5 1125.5L1292.2 1124.9L1292.9 1124.7L1293.6 1125.3L1294.3 1124.7L1295.0 1125.0L1295.7 1125.2L1296.4 1124.9L1297.1 1124.7L1297.8 1125.0L1298.5 1125.0L1299.2 1125.1L1299.9 1125.2L1300.6 1125.1L1301.3 1125.0L1302.0 1124.7L1302.7 1125.6L1303.4 1125.5L1304.1 1125.2L1304.8 1124.6L1305.5 1124.9L1306.2 1125.7L1306.9 1125.1L1307.6 1124.8L1308.3 1125.5L1309.0 1125.6L1309.7 1124.7L1310.4 1125.1L1311.1 1125.2L1311.8 1124.6L1312.5 1124.8L1313.2 1125.2L1313.9 1125.2L1314.6 1125.2L1315.3 1125.1L1316.0 1124.8L1316.7 1124.4L1317.4 1124.3L1318.1 1125.3L1318.8 1125.3L1319.5 1125.3L1320.2 1124.3L1320.9 1125.1L1321.6 1124.4L1322.3 1124.6L1323.0 1124.4L1323.7 1125.1L1324.4 1125.0L1325.1 1125.0L1325.8 1124.4L1326.5 1125.0L1327.2 1124.2L1327.9 1124.5L1328.6 1124.6L1329.3 1124.0L1330.0 1124.1L1330.7 1123.7L1331.4 1124.5L1332.1 1123.7L1332.8 1123.6L1333.5 1123.7L1334.2 1124.0L1334.9 1123.9L1335.6 1123.7L1336.3 1124.0L1337.0 1123.8L1337.7 1123.0L1338.4 1123.3L1339.1 1122.7L1339.8 1122.7L1340.5 1122.4L1341.2 1122.1L1341.9 1122.3L1342.6 1122.7L1343.3 1122.2L1344.0 1121.3L1344.7 1121.2L1345.4 1121.3L1346.1 1120.9L1346.8 1119.8L1347.5 1119.4L1348.2 1119.5L1348.9 1118.8L1349.6 1117.5L1350.3 1117.4L1351.0 1115.7L1351.7 1114.9L1352.4 1113.3L1353.1 1111.4L1353.8 1110.2L1354.5 1107.2L1355.2 1104.7L1355.9 1101.9L1356.6 1099.1L1357.3 1095.7L1358.0 1091.6L1358.7 1087.2L1359.4 1083.1L1360.1 1078.7L1360.8 1074.7L1361.5 1070.6L1362.2 1066.6L1362.9 1062.9L1363.6 1061.1L1364.3 1059.9L1365.0 1059.7L1365.7 1061.6L1366.4 1063.3L1367.1 1067.0L1367.8 1070.6L1368.5 1074.7L1369.2 1079.4L1369.9 1083.8L1370.6 1088.4L1371.3 1092.5L1372.0 1096.0L1372.7 1098.9L1373.4 1102.5L1374.1 1105.2L1374.8 1108.2L1375.5 1109.9L1376.2 1111.7L1376.9 1113.0L1377.6 1114.9L1378.3 1116.2L1379.0 1117.0L1379.7 1117.6L1380.4 1118.8L1381.1 1119.0L1381.8 1119.6L1382.5 1120.4L1383.2 1120.7L1383.9 1121.2L1384.6 1121.6L1385.3 1121.7L1386.0 1121.6L1386.7 1121.7L1387.4 1122.6L1388.1 1123.2L1388.8 1122.6L1389.5 1122.8L1390.2 1122.9L1390.9 1123.6L1391.6 1123.4L1392.3 1123.9L1393.0 1123.0L1393.7 1123.3L1394.4 1123.4L1395.1 1123.7L1395.8 1123.8L1396.5 1123.9L1397.2 1124.7L1397.9 1124.1L1398.6 1124.3L1399.3 1124.8L1400.0 1124.5L1400.7 1124.5L1401.4 1124.8L1402.1 1124.3L1402.8 1124.0L1403.5 1125.1L1404.2 1124.6L1404.9 1124.7L1405.6 1124.2L1406.3 1125.0L1407.0 1124.6L1407.7 1124.9L1408.4 1124.5L1409.1 1125.3L1409.8 1124.7L1410.5 1124.6L1411.2 1125.4L1411.9 1124.6L1412.6 1124.7L1413.3 1124.9L1414.0 1125.5L1414.7 1124.5L1415.4 1124.7L1416.1 1125.4L1416.8 1124.5L1417.5 1124.9L1418.2 1125.4L1418.9 1125.3L1419.6 1125.4L1420.3 1124.6L1421.0 1125.6L1421.7 1124.9L1422.4 1125.5L1423.1 1125.1L1423.8 1125.6L1424.5 1125.1L1425.2 1124.8L1425.9 1124.7L1426.6 1125.1L1427.3 1124.6L1428.0 1124.7L1428.7 1125.6L1429.4 1125.2L1430.1 1125.6L1430.8 1124.7L1431.5 1125.1L1432.2 1125.1L1432.9 1124.6L1433.6 1124.8L1434.3 1125.6L1435.0 1125.3L1435.7 1125.1L1436.4 1125.2L1437.1 1125.5L1437.8 1125.6L1438.5 1125.1L1439.2 1124.5L1439.9 1125.4L1440.6 1124.5L1441.3 1124.6L1442.0 1124.5L1442.7 1124.9L1443.4 1124.9L1444.1 1124.7L1444.8 1124.7L1445.5 1124.2L1446.2 1124.9L1446.9 1124.6L1447.6 1124.2L1448.3 1124.7L1449.0 1124.7L1449.7 1124.5L1450.4 1124.4L1451.1 1123.1L1451.8 1123.2L1452.5 1123.0L1453.2 1122.4L1453.9 1122.5L1454.6 1122.2L1455.3 1120.8L1456.0 1120.6L1456.7 1120.5L1457.4 1119.8L1458.1 1118.5L1458.8 1117.4L1459.5 1117.2L1460.2 1116.6L1460.9 1116.3L1461.6 1115.2L1462.3 1115.0L1463.0 1115.7L1463.7 1114.6L1464.4 1115.6L1465.1 1115.4L1465.8 1116.7L1466.5 1116.9L1467.2 1118.2L1467.9 1118.0L1468.6 1119.4L1469.3 1119.3L1470.0 1119.6L1470.7 1120.2L1471.4 1120.7L1472.1 1121.5L1472.8 1122.6L1473.5 1122.1L1474.2 1122.8L1474.9 1122.2L1475.6 1123.0L1476.3 1123.1L1477.0 1122.7L1477.7 1123.3L1478.4 1123.2L1479.1 1123.1L1479.8 1123.7L1480.5 1123.5L1481.2 1122.7L1481.9 1122.7L1482.6 1122.5L1483.3 1122.7L1484.0 1123.0L1484.7 1123.3L1485.4 1123.2L1486.1 1122.9L1486.8 1121.8L1487.5 1122.4L1488.2 1122.1L1488.9 1121.5L1489.6 1121.8L1490.3 1121.0L1491.0 1119.9L1491.7 1119.5L1492.4 1118.8L1493.1 1118.6L1493.8 1117.8L1494.5 1117.1L1495.2 1114.9L1495.9 1113.5L1496.6 1113.0L1497.3 1110.4L1498.0 1108.3L1498.7 1106.7L1499.4 1103.3L1500.1 1101.3L1500.8 1098.5L1501.5 1094.9L1502.2 1091.7L1502.9 1087.7L1503.6 1085.2L1504.3 1082.3L1505.0 1080.0L1505.7 1077.7L1506.4 1076.0L1507.1 1075.8L1507.8 1076.9L1508.5 1077.6L1509.2 1079.7L1509.9 1082.5L1510.6 1086.1L1511.3 1089.0L1512.0 1092.0L1512.7 1095.9L1513.4 1098.4L1514.1 1100.9L1514.8 1103.9L1515.5 1106.7L1516.2 1108.2L1516.9 1110.2L1517.6 1112.0L1518.3 1113.9L1519.0 1114.7L1519.7 1115.2L1520.4 1116.4L1521.1 1116.7L1521.8 1117.4L1522.5 1118.0L1523.2 1117.4L1523.9 1118.0L1524.6 1117.7L1525.3 1117.9L1526.0 1117.9L1526.7 1117.1L1527.4 1116.7L1528.1 1115.7L1528.8 1114.9L1529.5 1114.4L1530.2 1113.4L1530.9 1112.0L1531.6 1111.5L1532.3 1110.0L1533.0 1108.6L1533.7 1107.2L1534.4 1106.7L1535.1 1105.7L1535.8 1104.7L1536.5 1103.2L1537.2 1102.5L1537.9 1103.0L1538.6 1102.5L1539.3 1104.0L1540.0 1104.5L1540.7 1105.2L1541.4 1106.5L1542.1 1108.1L1542.8 1108.9L1543.5 1110.5L1544.2 1112.4L1544.9 1113.6L1545.6 1114.7L1546.3 1115.3L1547.0 1116.5L1547.7 1117.5L1548.4 1118.1L1549.1 1119.6L1549.8 1120.2L1550.5 1121.3L1551.2 1121.4L1551.9 1122.3L1552.6 1122.2L1553.3 1122.6L1554.0 1122.6L1554.7 1123.1L1555.4 1123.9L1556.1 1123.5L1556.8 1123.1L1557.5 1123.7L1558.2 1123.7L1558.9 1124.3L1559.6 1124.3L1560.3 1124.3L1561.0 1125.0L1561.7 1124.8L1562.4 1124.1L1563.1 1124.1L1563.8 1125.0L1564.5 1124.9L1565.2 1125.0L1565.9 1124.9L1566.6 1124.4L1567.3 1124.9L1568.0 1125.5L1568.7 1125.2L1569.4 1124.6L1570.1 1124.7L1570.8 1125.7L1571.5 1125.3L1572.2 1124.9L1572.9 1125.6L1573.6 1125.8L1574.3 1125.8L1575.0 1125.6L1575.7 1125.8L1576.4 1124.9L1577.1 1125.4L1577.8 1125.9L1578.5 1125.3L1579.2 1125.1L1579.9 1126.0L1580.6 1125.8L1581.3 1125.0L1582.0 1125.1L1582.7 1125.7L1583.4 1126.2L1584.1 1125.8L1584.8 1126.1L1585.5 1125.2L1586.2 1125.8L1586.9 1125.3L1587.6 1125.5L1588.3 1125.3L1589.0 1125.7L1589.7 1125.2L1590.4 1125.9L1591.1 1125.9L1591.8 1126.3L1592.5 1126.1L1593.2 1125.3L1593.9 1126.2L1594.6 1125.9L1595.3 1126.3L1596.0 1125.8L1596.7 1125.3L1597.4 1126.1L1598.1 1125.5L1598.8 1126.4L1599.5 1125.9L1600.2 1126.4L1600.9 1125.9L1601.6 1125.7L1602.3 1126.1L1603.0 1126.2L1603.7 1125.9L1604.4 1125.6L1605.1 1125.8L1605.8 1126.2L1606.5 1125.6L1607.2 1125.5L1607.9 1125.9L1608.6 1126.1L1609.3 1125.4L1610.0 1125.7L1610.7 1126.5L1611.4 1125.7L1612.1 1126.3L1612.8 1125.7L1613.5 1125.5L1614.2 1125.9L1614.9 1126.4L1615.6 1126.3L1616.3 1125.4L1617.0 1126.2L1617.7 1126.1L1618.4 1125.9L1619.1 1126.1L1619.8 1125.9L1620.5 1125.5L1621.2 1126.1L1621.9 1125.4L1622.6 1125.6L1623.3 1126.2L1624.0 1125.8L1624.7 1125.6L1625.4 1125.8L1626.1 1125.4L1626.8 1125.1L1627.5 1125.2L1628.2 1124.4L1628.9 1124.6L1629.6 1124.0L1630.3 1125.0L1631.0 1124.7L1631.7 1124.1L1632.4 1123.3L1633.1 1124.0L1633.8 1123.1L1634.5 1123.6L1635.2 1123.4L1635.9 1123.3L1636.6 1123.5L1637.3 1123.0L1638.0 1123.8L1638.7 1123.6L1639.4 1124.0L1640.1 1124.3L1640.8 1123.9L1641.5 1124.3L1642.2 1124.4L1642.9 1124.3L1643.6 1125.4L1644.3 1125.4L1645.0 1125.3L1645.7 1125.5L1646.4 1126.0L1647.1 1125.2L1647.8 1125.6L1648.5 1126.1L1649.2 1125.9L1649.9 1125.9L1650.6 1125.7L1651.3 1125.7L1652.0 1126.3L1652.7 1125.9L1653.4 1126.6L1654.1 1126.6L1654.8 1126.7L1655.5 1125.9L1656.2 1126.1L1656.9 1125.7L1657.6 1126.0L1658.3 1125.6L1659.0 1126.2L1659.7 1126.7L1660.4 1126.5L1661.1 1126.0L1661.8 1125.9L1662.5 1126.7L1663.2 1125.7L1663.9 1126.6L1664.6 1126.6L1665.3 1125.7L1666.0 1126.8L1666.7 1126.4L1667.4 1126.1L1668.1 1126.1L1668.8 1126.4L1669.5 1126.3L1670.2 1126.7L1670.9 1126.7L1671.6 1126.0L1672.3 1125.7L1673.0 1126.6L1673.7 1126.4L1674.4 1126.4L1675.1 1125.8L1675.8 1125.8L1676.5 1126.7L1677.2 1126.1L1677.9 1126.2L1678.6 1126.8L1679.3 1125.9L1680.0 1126.4L1680.7 1125.8L1681.4 1126.4L1682.1 1126.6L1682.8 1125.9L1683.5 1126.6L1684.2 1126.9L1684.9 1126.7L1685.6 1126.6L1686.3 1126.8L1687.0 1126.6L1687.7 1126.4L1688.4 1126.7L1689.1 1126.7L1689.8 1126.5L1690.5 1126.5L1691.2 1125.9L1691.9 1126.1L1692.6 1126.1L1693.3 1126.7L1694.0 1126.6L1694.7 1126.1L1695.4 1126.9L1696.1 1125.8L1696.8 1125.8L1697.5 1126.1L1698.2 1125.8L1698.9 1126.9L1699.6 1126.2L1700.3 1126.2L1701.0 1126.7L1701.7 1126.4L1702.4 1126.5L1703.1 1126.3L1703.8 1126.3L1704.5 1126.9L1705.2 1126.1L1705.9 1126.4L1706.6 1126.3L1707.3 1125.9L1708.0 1125.9L1708.7 1126.3L1709.4 1126.7L1710.1 1126.2L1710.8 1125.8L1711.5 1126.9L1712.2 1125.9L1712.9 1126.8L1713.6 1125.8L1714.3 1126.5L1715.0 1125.9L1715.7 1126.0L1716.4 1126.2L1717.1 1126.6L1717.8 1126.3L1718.5 1126.2L1719.2 1126.2L1719.9 1126.4L1720.6 1126.1L1721.3 1126.9L1722.0 1126.0L1722.7 1125.9L1723.4 1126.4L1724.1 1126.1L1724.8 1126.6L1725.5 1125.8L1726.2 1126.5L1726.9 1126.2L1727.6 1126.8L1728.3 1126.1L1729.0 1126.2L1729.7 1126.1L1730.4 1126.3L1731.1 1126.0L1731.8 1126.5L1732.5 1126.2L1733.2 1126.5L1733.9 1126.0L1734.6 1126.2L1735.3 1126.3L1736.0 1126.5L1736.7 1126.4L1737.4 1126.1L1738.1 1125.7L1738.8 1125.7L1739.5 1125.8L1740.2 1125.8L1740.9 1125.8L1741.6 1126.3L1742.3 1125.9L1743.0 1126.5L1743.7 1125.7L1744.4 1125.6L1745.1 1125.4L1745.8 1125.3L1746.5 1125.8L1747.2 1125.5L1747.9 1125.0L1748.6 1125.4L1749.3 1125.0L1750.0 1124.4L1750.7 1124.3L1751.4 1124.0L1752.1 1123.3L1752.8 1122.4L1753.5 1122.3L1754.2 1122.5L1754.9 1121.3L1755.6 1121.2L1756.3 1120.0L1757.0 1120.4L1757.7 1120.2L1758.4 1119.3L1759.1 1119.1L1759.8 1119.2L1760.5 1118.9L1761.2 1119.0L1761.9 1119.1L1762.6 1120.1L1763.3 1120.3L1764.0 1121.3L1764.7 1121.8L1765.4 1122.2L1766.1 1122.7L1766.8 1123.1L1767.5 1122.6L1768.2 1123.1L1768.9 1124.5L1769.6 1124.8L1770.3 1124.8L1771.0 1125.1L1771.7 1125.1L1772.4 1125.3L1773.1 1125.1L1773.8 1125.8L1774.5 1125.5L1775.2 1125.5L1775.9 1126.4L1776.6 1126.1L1777.3 1126.6L1778.0 1125.9L1778.7 1126.3L1779.4 1126.0L1780.1 1126.6L1780.8 1125.9L1781.5 1126.5L1782.2 1126.4L1782.9 1126.1L1783.6 1125.8L1784.3 1126.3L1785.0 1126.4L1785.7 1126.7L1786.4 1126.0L1787.1 1126.0L1787.8 1126.1L1788.5 1126.7L1789.2 1126.1L1789.9 1126.6L1790.6 1125.8L1791.3 1125.9L1792.0 1126.7L1792.7 1126.4L1793.4 1126.0L1794.1 1126.4L1794.8 1127.0L1795.5 1126.3L1796.2 1126.5L1796.9 1126.4L1797.6 1126.5L1798.3 1125.9L1799.0 1126.9L1799.7 1126.6L1800.4 1126.3L1801.1 1126.2L1801.8 1126.1L1802.5 1127.0L1803.2 1126.9L1803.9 1126.3L1804.6 1126.6L1805.3 1126.5L1806.0 1126.1L1806.7 1125.9L1807.4 1126.8L1808.1 1126.1L1808.8 1126.6L1809.5 1125.9L1810.2 1125.9L1810.9 1126.1L1811.6 1126.7L1812.3 1126.7L1813.0 1127.1L1813.7 1126.7L1814.4 1126.5L1815.1 1125.9L1815.8 1127.1L1816.5 1126.5L1817.2 1127.0L1817.9 1126.0L1818.6 1126.9L1819.3 1126.5L1820.0 1126.2L1820.7 1126.4L1821.4 1126.0L1822.1 1126.6L1822.8 1126.2L1823.5 1126.8L1824.2 1126.1L1824.9 1126.8L1825.6 1126.7L1826.3 1126.8L1827.0 1127.1L1827.7 1126.3L1828.4 1126.8L1829.1 1126.4L1829.8 1127.0L1830.5 1126.9L1831.2 1126.9L1831.9 1126.7L1832.6 1126.3L1833.3 1127.0L1834.0 1127.1L1834.7 1127.1L1835.4 1126.4L1836.1 1126.9L1836.8 1126.8L1837.5 1127.0L1838.2 1126.9L1838.9 1126.5L1839.6 1126.4L1840.3 1126.9L1841.0 1126.8L1841.7 1126.6L1842.4 1127.0L1843.1 1126.0L1843.8 1126.0L1844.5 1126.5L1845.2 1126.1L1845.9 1127.0L1846.6 1126.1L1847.3 1127.0L1848.0 1126.2L1848.7 1126.1L1849.4 1126.9L1850.1 1126.8L1850.8 1126.5L1851.5 1126.7L1852.2 1126.6L1852.9 1127.1L1853.6 1126.6L1854.3 1126.6L1855.0 1126.5L1855.7 1126.4L1856.4 1126.8L1857.1 1126.1L1857.8 1126.8L1858.5 1127.1L1859.2 1126.8L1859.9 1126.6L1860.6 1126.3L1861.3 1126.0L1862.0 1126.0L1862.7 1126.5L1863.4 1126.9L1864.1 1126.9L1864.8 1126.1L1865.5 1126.7L1866.2 1126.8L1866.9 1126.4L1867.6 1126.8L1868.3 1125.9L1869.0 1126.1L1869.7 1126.2L1870.4 1126.4L1871.1 1126.0L1871.8 1125.8L1872.5 1126.3L1873.2 1125.6L1873.9 1125.5L1874.6 1125.2L1875.3 1125.3L1876.0 1125.4L1876.7 1124.8L1877.4 1125.0L1878.1 1124.6L1878.8 1123.8L1879.5 1124.7L1880.2 1123.7L1880.9 1123.8L1881.6 1124.1L1882.3 1123.1L1883.0 1122.8L1883.7 1122.9L1884.4 1122.7L1885.1 1123.6L1885.8 1123.2L1886.5 1122.7L1887.2 1123.1L1887.9 1123.5L1888.6 1123.3L1889.3 1123.6L1890.0 1124.5L1890.7 1124.2L1891.4 1124.1L1892.1 1124.8L1892.8 1124.4L1893.5 1125.1L1894.2 1125.4L1894.9 1124.9L1895.6 1125.6L1896.3 1125.5L1897.0 1126.1L1897.7 1126.1L1898.4 1126.5L1899.1 1126.3L1899.8 1125.8L1900.5 1125.9L1901.2 1126.6L1901.9 1126.8L1902.6 1125.9L1903.3 1126.4L1904.0 1126.2L1904.7 1126.5L1905.4 1127.0L1906.1 1126.6L1906.8 1126.9L1907.5 1126.9L1908.2 1126.3L1908.9 1126.7L1909.6 1126.4L1910.3 1126.6L1911.0 1126.6L1911.7 1126.8L1912.4 1126.2L1913.1 1127.0L1913.8 1126.2L1914.5 1126.4L1915.2 1127.1L1915.9 1127.2L1916.6 1126.5L1917.3 1127.2L1918.0 1126.1L1918.7 1127.2L1919.4 1126.3L1920.1 1126.1L1920.8 1127.0L1921.5 1126.3L1922.2 1127.0L1922.9 1126.1L1923.6 1126.2L1924.3 1126.5L1925.0 1126.2L1925.7 1126.6L1926.4 1126.5L1927.1 1127.0L1927.8 1126.7L1928.5 1127.3L1929.2 1127.1L1929.9 1126.3L1930.6 1127.2L1931.3 1127.2L1932.0 1126.8L1932.7 1126.7L1933.4 1126.3L1934.1 1126.5L1934.8 1126.4L1935.5 1126.3L1936.2 1126.8L1936.9 1126.5L1937.6 1127.0L1938.3 1126.8L1939.0 1127.1L1939.7 1126.2L1940.4 1127.1L1941.1 1126.7L1941.8 1126.9L1942.5 1126.4L1943.2 1127.0L1943.9 1126.6L1944.6 1127.0L1945.3 1126.8L1946.0 1126.3L1946.7 1126.5L1947.4 1127.0L1948.1 1126.2L1948.8 1126.9L1949.5 1126.8L1950.2 1127.0L1950.9 1126.5L1951.6 1126.7L1952.3 1126.7L1953.0 1127.0L1953.7 1126.2L1954.4 1126.8L1955.1 1126.5L1955.8 1126.9L1956.5 1126.5L1957.2 1126.4L1957.9 1126.4L1958.6 1127.2L1959.3 1126.6L1960.0 1127.2L1960.7 1127.0L1961.4 1126.5L1962.1 1126.8L1962.8 1126.2L1963.5 1127.3L1964.2 1126.9L1964.9 1126.3L1965.6 1126.8L1966.3 1126.8L1967.0 1127.0L1967.7 1126.5L1968.4 1127.3L1969.1 1126.9L1969.8 1126.3L1970.5 1127.2L1971.2 1127.2L1971.9 1126.5L1972.6 1127.0L1973.3 1127.2L1974.0 1127.2L1974.7 1126.3L1975.4 1127.2L1976.1 1126.5L1976.8 1127.1L1977.5 1127.0L1978.2 1126.7L1978.9 1127.3L1979.6 1127.2L1980.3 1127.4L1981.0 1127.3L1981.7 1126.9L1982.4 1127.1L1983.1 1127.0L1983.8 1126.7L1984.5 1126.8L1985.2 1126.8L1985.9 1126.5L1986.6 1126.5L1987.3 1127.2L1988.0 1127.2L1988.7 1127.0L1989.4 1127.0L1990.1 1126.8L1990.8 1126.9L1991.5 1127.0L1992.2 1126.2L1992.9 1126.7L1993.6 1127.4L1994.3 1126.5L1995.0 1126.8L1995.7 1126.3L1996.4 1126.5L1997.1 1127.2L1997.8 1126.2L1998.5 1127.2L1999.2 1127.2L1999.9 1127.3L2000.6 1126.5L2001.3 1127.3L2002.0 1126.7L2002.7 1126.8L2003.4 1127.4L2004.1 1126.9L2004.8 1127.0L2005.5 1126.4L2006.2 1126.2L2006.9 1126.5L2007.6 1126.3L2008.3 1127.2L2009.0 1126.5L2009.7 1127.4L2010.4 1127.0L2011.1 1126.5L2011.8 1127.1L2012.5 1126.6L2013.2 1126.9L2013.9 1126.3L2014.6 1127.2L2015.3 1127.2L2016.0 1126.9L2016.7 1127.1L2017.4 1126.6L2018.1 1126.4L2018.8 1126.6L2019.5 1127.1L2020.2 1126.9L2020.9 1126.4L2021.6 1126.5L2022.3 1126.8L2023.0 1126.3L2023.7 1126.3L2024.4 1126.8L2025.1 1126.4L2025.8 1127.3L2026.5 1126.4L2027.2 1127.1L2027.9 1127.2L2028.6 1126.6L2029.3 1126.9L2030.0 1127.4L2030.7 1127.0L2031.4 1126.7L2032.1 1127.4L2032.8 1126.6L2033.5 1127.4L2034.2 1126.6L2034.9 1126.8L2035.6 1126.6L2036.3 1127.0L2037.0 1127.3L2037.7 1127.1L2038.4 1126.5L2039.1 1127.4L2039.8 1127.1L2040.5 1126.9L2041.2 1127.3L2041.9 1126.4L2042.6 1127.0L2043.3 1127.2L2044.0 1127.2L2044.7 1127.1L2045.4 1126.3L2046.1 1126.8L2046.8 1126.6L2047.5 1127.0L2048.2 1126.7L2048.9 1126.8L2049.6 1126.9L2050.3 1127.0L2051.0 1127.3L2051.7 1126.6L2052.4 1126.6L2053.1 1126.5L2053.8 1126.4L2054.5 1127.3L2055.2 1127.4L2055.9 1126.4L2056.6 1126.7L2057.3 1127.4L2058.0 1127.3L2058.7 1127.4L2059.4 1127.5L2060.1 1126.6L2060.8 1126.3L2061.5 1126.6L2062.2 1126.9L2062.9 1126.3L2063.6 1126.6L2064.3 1126.8L2065.0 1127.1L2065.7 1126.5L2066.4 1126.4L2067.1 1126.7L2067.8 1126.4L2068.5 1126.4L2069.2 1126.4L2069.9 1127.2L2070.6 1127.3L2071.3 1126.3L2072.0 1127.2L2072.7 1127.3L2073.4 1127.0L2074.1 1126.6L2074.8 1127.2L2075.5 1126.4L2076.2 1126.3L2076.9 1127.4L2077.6 1126.5L2078.3 1127.3L2079.0 1127.1L2079.7 1126.3L2080.4 1126.4L2081.1 1127.0L2081.8 1126.4L2082.5 1127.0L2083.2 1127.0L2083.9 1126.5L2084.6 1126.8L2085.3 1126.5L2086.0 1127.3L2086.7 1127.0L2087.4 1127.0L2088.1 1126.9L2088.8 1126.3L2089.5 1127.2L2090.2 1127.1L2090.9 1126.8L2091.6 1126.9L2092.3 1126.7L2093.0 1127.0L2093.7 1126.8L2094.4 1126.4L2095.1 1126.7L2095.8 1126.3L2096.5 1126.1L2097.2 1126.7L2097.9 1127.1L2098.6 1126.8L2099.3 1126.2L2100.0 1126.5L2100.7 1126.5L2101.4 1126.5L2102.1 1126.2L2102.8 1126.2L2103.5 1126.2L2104.2 1126.3L2104.9 1125.6L2105.6 1125.6L2106.3 1125.2L2107.0 1124.0L2107.7 1123.7L2108.4 1123.1L2109.1 1122.5L2109.8 1121.9L2110.5 1120.8L2111.2 1120.8L2111.9 1119.5L2112.6 1118.1L2113.3 1117.7L2114.0 1117.1L2114.7 1115.5L2115.4 1115.6L2116.1 1115.7L2116.8 1115.0L2117.5 1115.9L2118.2 1116.2L2118.9 1116.3L2119.6 1116.9L2120.3 1118.5L2121.0 1119.0L2121.7 1119.9L2122.4 1120.9L2123.1 1122.1L2123.8 1123.1L2124.5 1123.8L2125.2 1124.2L2125.9 1124.1L2126.6 1124.8L2127.3 1124.7L2128.0 1125.2" fill="none" stroke="#0000FF" stroke-width="12.3" stroke-linejoin="round" stroke-linecap="butt"/>
<path d="M161.0 871.8L161.7 871.6L162.4 872.0L163.1 871.6L163.8 872.2L164.5 871.9L165.2 871.7L165.9 872.2L166.6 871.8L167.3 871.4L168.0 872.4L168.7 872.3L169.4 872.5L170.1 871.8L170.8 871.7L171.5 872.3L172.2 871.6L172.9 872.6L173.6 872.2L174.3 872.1L175.0 871.5L175.7 871.8L176.4 871.9L177.1 872.6L177.8 871.6L178.5 872.1L179.2 871.5L179.9 872.6L180.6 872.3L181.3 872.4L182.0 872.3L182.7 871.7L183.4 871.7L184.1 871.5L184.8 872.1L185.5 871.5L186.2 871.7L186.9 871.7L187.6 872.6L188.3 872.4L189.0 871.8L189.7 872.6L190.4 871.7L191.1 871.6L191.8 871.9L192.5 872.4L193.2 871.6L193.9 872.4L194.6 872.1L195.3 872.4L196.0 871.8L196.7 871.5L197.4 871.5L198.1 872.3L198.8 872.0L199.5 872.3L200.2 871.7L200.9 871.8L201.6 871.7L202.3 872.4L203.0 872.3L203.7 871.6L204.4 872.3L205.1 871.5L205.8 872.0L206.5 871.7L207.2 872.4L207.9 872.3L208.6 872.3L209.3 871.7L210.0 871.5L210.7 872.2L211.4 872.3L212.1 871.5L212.8 872.5L213.5 872.5L214.2 871.9L214.9 872.1L215.6 872.2L216.3 872.6L217.0 872.2L217.7 872.1L218.4 872.4L219.1 872.0L219.8 871.5L220.5 872.1L221.2 872.0L221.9 871.9L222.6 871.9L223.3 871.7L224.0 871.8L224.7 872.4L225.4 872.5L226.1 872.0L226.8 872.5L227.5 871.6L228.2 872.1L228.9 872.4L229.6 872.4L230.3 871.9L231.0 871.7L231.7 872.6L232.4 872.2L233.1 872.3L233.8 871.9L234.5 871.6L235.2 872.2L235.9 872.0L236.6 872.6L237.3 872.3L238.0 872.4L238.7 872.2L239.4 872.4L240.1 871.7L240.8 872.7L241.5 872.2L242.2 872.2L242.9 871.7L243.6 871.6L244.3 872.4L245.0 872.4L245.7 872.3L246.4 871.8L247.1 872.1L247.8 872.4L248.5 872.3L249.2 872.6L249.9 871.6L250.6 872.4L251.3 871.5L252.0 872.3L252.7 872.2L253.4 871.6L254.1 872.0L254.8 872.3L255.5 872.6L256.2 871.6L256.9 872.1L257.6 872.5L258.3 871.7L259.0 872.6L259.7 872.7L260.4 871.9L261.1 871.8L261.8 871.7L262.5 871.8L263.2 872.0L263.9 872.4L264.6 872.7L265.3 872.2L266.0 872.7L266.7 872.1L267.4 872.3L268.1 871.5L268.8 872.0L269.5 871.5L270.2 871.7L270.9 872.5L271.6 871.7L272.3 871.9L273.0 872.2L273.7 872.2L274.4 871.6L275.1 871.7L275.8 872.3L276.5 872.0L277.2 871.6L277.9 872.1L278.6 872.0L279.3 872.7L280.0 871.6L280.7 871.7L281.4 871.6L282.1 872.2L282.8 872.7L283.5 872.5L284.2 871.7L284.9 872.2L285.6 872.0L286.3 872.7L287.0 872.4L287.7 872.3L288.4 871.8L289.1 872.1L289.8 872.2L290.5 872.0L291.2 872.2L291.9 871.7L292.6 872.0L293.3 872.7L294.0 872.0L294.7 872.2L295.4 872.5L296.1 872.5L296.8 872.4L297.5 872.0L298.2 872.4L298.9 871.8L299.6 872.3L300.3 871.6L301.0 871.8L301.7 871.8L302.4 872.0L303.1 872.4L303.8 871.6L304.5 872.6L305.2 871.7L305.9 872.7L306.6 872.7L307.3 872.3L308.0 872.6L308.7 872.7L309.4 872.1L310.1 872.6L310.8 871.6L311.5 872.5L312.2 872.3L312.9 872.5L313.6 871.7L314.3 871.7L315.0 872.2L315.7 872.3L316.4 872.4L317.1 871.8L317.8 872.2L318.5 872.7L319.2 871.9L319.9 872.4L320.6 872.6L321.3 872.2L322.0 872.0L322.7 871.9L323.4 872.0L324.1 871.6L324.8 871.5L325.5 871.8L326.2 871.6L326.9 872.5L327.6 871.9L328.3 872.5L329.0 872.1L329.7 872.5L330.4 872.5L331.1 872.3L331.8 872.0L332.5 871.7L333.2 872.1L333.9 871.8L334.6 872.4L335.3 871.5L336.0 872.2L336.7 871.8L337.4 871.9L338.1 872.1L338.8 872.6L339.5 872.6L340.2 871.8L340.9 872.6L341.6 872.6L342.3 872.0L343.0 872.1L343.7 871.6L344.4 872.4L345.1 872.0L345.8 872.3L346.5 872.5L347.2 872.1L347.9 872.2L348.6 872.1L349.3 871.6L350.0 871.9L350.7 871.5L351.4 871.6L352.1 872.6L352.8 871.8L353.5 871.5L354.2 871.9L354.9 871.5L355.6 872.1L356.3 871.6L357.0 871.6L357.7 872.1L358.4 872.5L359.1 871.4L359.8 872.2L360.5 872.1L361.2 871.9L361.9 871.9L362.6 871.4L363.3 871.8L364.0 872.0L364.7 871.7L365.4 872.5L366.1 871.7L366.8 872.3L367.5 872.3L368.2 872.3L368.9 871.9L369.6 871.9L370.3 872.3L371.0 871.5L371.7 871.6L372.4 871.3L373.1 871.9L373.8 871.8L374.5 872.4L375.2 872.4L375.9 871.8L376.6 871.9L377.3 871.4L378.0 872.2L378.7 871.9L379.4 871.5L380.1 872.3L380.8 871.3L381.5 871.5L382.2 871.8L382.9 872.4L383.6 871.4L384.3 871.5L385.0 872.2L385.7 871.6L386.4 872.3L387.1 871.2L387.8 871.5L388.5 871.6L389.2 872.2L389.9 871.3L390.6 872.0L391.3 872.2L392.0 872.3L392.7 872.1L393.4 871.2L394.1 871.7L394.8 871.4L395.5 871.3L396.2 871.4L396.9 872.0L397.6 871.8L398.3 871.2L399.0 871.4L399.7 871.2L400.4 872.2L401.1 872.0L401.8 871.6L402.5 872.2L403.2 872.2L403.9 871.3L404.6 871.3L405.3 871.2L406.0 871.7L406.7 871.7L407.4 871.6L408.1 871.9L408.8 871.6L409.5 871.3L410.2 871.7L410.9 872.0L411.6 870.9L412.3 871.5L413.0 871.0L413.7 871.7L414.4 871.3L415.1 871.8L415.8 871.6L416.5 871.9L417.2 871.5L417.9 871.5L418.6 871.9L419.3 871.7L420.0 871.1L420.7 870.8L421.4 871.8L422.1 870.7L422.8 871.7L423.5 871.7L424.2 871.4L424.9 871.7L425.6 871.2L426.3 871.4L427.0 871.2L427.7 870.7L428.4 870.5L429.1 871.3L429.8 870.9L430.5 870.5L431.2 871.0L431.9 870.6L432.6 870.6L433.3 871.3L434.0 870.9L434.7 871.0L435.4 871.1L436.1 870.6L436.8 870.6L437.5 870.5L438.2 870.4L438.9 870.8L439.6 870.9L440.3 870.2L441.0 870.6L441.7 870.0L442.4 869.7L443.1 870.4L443.8 870.5L444.5 869.9L445.2 870.6L445.9 870.2L446.6 869.7L447.3 870.1L448.0 870.1L448.7 869.2L449.4 870.1L450.1 869.4L450.8 869.1L451.5 869.2L452.2 869.2L452.9 869.1L453.6 868.8L454.3 868.4L455.0 868.9L455.7 868.9L456.4 868.7L457.1 868.3L457.8 868.7L458.5 867.5L459.2 867.5L459.9 867.2L460.6 867.6L461.3 867.4L462.0 866.8L462.7 867.0L463.4 866.1L464.1 865.9L464.8 866.7L465.5 866.4L466.2 865.1L466.9 865.5L467.6 864.9L468.3 864.6L469.0 864.5L469.7 863.8L470.4 863.7L471.1 862.9L471.8 862.6L472.5 861.0L473.2 861.2L473.9 859.9L474.6 859.8L475.3 858.7L476.0 858.0L476.7 856.6L477.4 855.0L478.1 853.8L478.8 852.6L479.5 850.1L480.2 848.8L480.9 846.7L481.6 844.5L482.3 841.4L483.0 838.6L483.7 835.2L484.4 830.8L485.1 826.5L485.8 821.5L486.5 814.9L487.2 808.2L487.9 800.4L488.6 792.2L489.3 782.1L490.0 772.0L490.7 761.9L491.4 752.4L492.1 743.2L492.8 737.9L493.5 734.0L494.2 734.5L494.9 737.9L495.6 744.1L496.3 753.3L497.0 763.4L497.7 773.1L498.4 784.2L499.1 793.0L499.8 801.3L500.5 808.4L501.2 815.3L501.9 821.3L502.6 826.8L503.3 830.7L504.0 835.0L504.7 838.2L505.4 841.5L506.1 844.3L506.8 846.4L507.5 848.8L508.2 850.4L508.9 851.4L509.6 853.5L510.3 854.6L511.0 856.0L511.7 857.3L512.4 857.5L513.1 859.0L513.8 859.0L514.5 860.2L515.2 860.0L515.9 861.6L516.6 861.6L517.3 862.1L518.0 862.6L518.7 862.8L519.4 863.0L520.1 863.9L520.8 864.1L521.5 863.7L522.2 864.2L522.9 865.2L523.6 864.6L524.3 864.8L525.0 865.4L525.7 865.3L526.4 866.1L527.1 866.3L527.8 865.3L528.5 865.6L529.2 865.6L529.9 866.0L530.6 865.8L531.3 866.4L532.0 866.7L532.7 865.7L533.4 865.7L534.1 865.8L534.8 866.0L535.5 865.8L536.2 866.1L536.9 866.0L537.6 866.4L538.3 866.6L539.0 866.6L539.7 865.8L540.4 866.0L541.1 865.3L541.8 865.7L542.5 865.9L543.2 865.7L543.9 864.7L544.6 864.5L545.3 865.2L546.0 864.7L546.7 864.5L547.4 863.4L548.1 863.7L548.8 862.6L549.5 863.1L550.2 862.7L550.9 861.6L551.6 860.7L552.3 860.9L553.0 860.5L553.7 859.3L554.4 858.1L555.1 857.1L555.8 856.5L556.5 855.4L557.2 853.1L557.9 851.2L558.6 850.1L559.3 847.0L560.0 844.3L560.7 840.8L561.4 837.4L562.1 833.0L562.8 826.8L563.5 820.6L564.2 812.0L564.9 802.5L565.6 791.9L566.3 779.7L567.0 766.4L567.7 754.1L568.4 744.6L569.1 739.9L569.8 741.2L570.5 747.6L571.2 758.2L571.9 770.4L572.6 783.7L573.3 795.1L574.0 804.9L574.7 814.8L575.4 821.2L576.1 827.9L576.8 831.8L577.5 836.3L578.2 840.2L578.9 842.9L579.6 845.3L580.3 847.0L581.0 848.2L581.7 850.4L582.4 851.5L583.1 852.1L583.8 852.9L584.5 853.8L585.2 854.0L585.9 854.3L586.6 854.6L587.3 855.1L588.0 855.2L588.7 854.8L589.4 855.2L590.1 854.6L590.8 854.8L591.5 854.2L592.2 854.5L592.9 854.1L593.6 853.4L594.3 852.4L595.0 851.7L595.7 851.1L596.4 850.5L597.1 848.9L597.8 848.4L598.5 847.8L599.2 845.4L599.9 845.0L600.6 843.1L601.3 841.8L602.0 839.5L602.7 837.4L603.4 835.0L604.1 831.9L604.8 828.5L605.5 826.0L606.2 822.2L606.9 817.7L607.6 812.2L608.3 807.1L609.0 800.9L609.7 793.8L610.4 786.0L611.1 777.0L611.8 767.5L612.5 755.8L613.2 743.6L613.9 729.7L614.6 714.0L615.3 699.0L616.0 682.7L616.7 667.8L617.4 654.2L618.1 643.8L618.8 636.7L619.5 635.4L620.2 638.3L620.9 646.7L621.6 658.0L622.3 672.3L623.0 688.3L623.7 703.4L624.4 718.6L625.1 734.3L625.8 747.4L626.5 759.9L627.2 771.1L627.9 781.0L628.6 789.2L629.3 797.6L630.0 803.7L630.7 810.2L631.4 815.7L632.1 819.9L632.8 824.2L633.5 828.0L634.2 831.3L634.9 834.4L635.6 837.7L636.3 839.2L637.0 842.6L637.7 844.3L638.4 845.9L639.1 847.7L639.8 848.8L640.5 850.7L641.2 852.1L641.9 852.7L642.6 854.0L643.3 854.6L644.0 855.6L644.7 857.2L645.4 857.7L646.1 858.2L646.8 859.1L647.5 859.2L648.2 859.6L648.9 860.6L649.6 861.4L650.3 861.4L651.0 862.3L651.7 862.5L652.4 862.8L653.1 863.7L653.8 863.7L654.5 864.5L655.2 864.8L655.9 864.6L656.6 864.5L657.3 865.8L658.0 865.7L658.7 866.0L659.4 866.3L660.1 866.4L660.8 867.0L661.5 866.2L662.2 867.5L662.9 867.3L663.6 867.2L664.3 868.0L665.0 868.1L665.7 867.9L666.4 867.4L667.1 868.2L667.8 868.1L668.5 868.5L669.2 868.9L669.9 868.2L670.6 869.2L671.3 868.6L672.0 868.7L672.7 868.5L673.4 868.7L674.1 869.0L674.8 869.4L675.5 870.0L676.2 869.1L676.9 869.4L677.6 869.5L678.3 869.9L679.0 869.7L679.7 870.1L680.4 869.6L681.1 869.5L681.8 870.2L682.5 870.5L683.2 869.8L683.9 869.8L684.6 870.6L685.3 869.9L686.0 871.0L686.7 870.8L687.4 870.2L688.1 870.5L688.8 870.2L689.5 870.3L690.2 870.6L690.9 871.3L691.6 871.4L692.3 871.2L693.0 871.1L693.7 871.1L694.4 871.1L695.1 871.3L695.8 871.1L696.5 871.0L697.2 871.6L697.9 871.0L698.6 871.2L699.3 871.5L700.0 871.9L700.7 871.2L701.4 871.3L702.1 871.3L702.8 871.1L703.5 871.3L704.2 871.9L704.9 871.2L705.6 871.6L706.3 871.3L707.0 871.7L707.7 872.0L708.4 871.2L709.1 871.7L709.8 871.4L710.5 871.9L711.2 872.0L711.9 871.5L712.6 871.5L713.3 871.6L714.0 871.7L714.7 872.4L715.4 872.4L716.1 872.3L716.8 871.8L717.5 871.9L718.2 871.6L718.9 872.0L719.6 872.6L720.3 871.5L721.0 871.9L721.7 871.7L722.4 872.5L723.1 871.9L723.8 872.1L724.5 871.6L725.2 872.4L725.9 872.2L726.6 872.5L727.3 872.5L728.0 872.5L728.7 871.9L729.4 871.9L730.1 872.4L730.8 871.7L731.5 872.8L732.2 872.6L732.9 872.3L733.6 872.2L734.3 871.8L735.0 872.4L735.7 872.7L736.4 871.9L737.1 871.9L737.8 872.6L738.5 872.4L739.2 872.8L739.9 872.3L740.6 873.0L741.3 872.9L742.0 872.3L742.7 872.5L743.4 872.6L744.1 872.4L744.8 872.9L745.5 872.8L746.2 872.9L746.9 872.2L747.6 872.6L748.3 872.6L749.0 872.7L749.7 872.0L750.4 873.0L751.1 872.5L751.8 872.2L752.5 873.0L753.2 872.7L753.9 872.9L754.6 872.9L755.3 872.8L756.0 873.2L756.7 872.1L757.4 872.5L758.1 872.3L758.8 872.9L759.5 872.4L760.2 872.1L760.9 872.3L761.6 872.3L762.3 872.8L763.0 872.7L763.7 872.7L764.4 872.2L765.1 872.8L765.8 872.5L766.5 872.3L767.2 872.2L767.9 872.4L768.6 872.7L769.3 872.4L770.0 872.8L770.7 872.4L771.4 873.1L772.1 873.3L772.8 872.6L773.5 872.3L774.2 873.4L774.9 872.4L775.6 873.0L776.3 873.2L777.0 872.8L777.7 873.3L778.4 872.5L779.1 873.2L779.8 873.4L780.5 873.4L781.2 873.3L781.9 872.8L782.6 872.9L783.3 873.3L784.0 872.8L784.7 872.6L785.4 872.4L786.1 872.6L786.8 872.5L787.5 873.5L788.2 872.7L788.9 872.8L789.6 873.5L790.3 873.2L791.0 872.9L791.7 872.5L792.4 872.8L793.1 872.7L793.8 873.6L794.5 873.0L795.2 873.6L795.9 872.8L796.6 872.5L797.3 873.6L798.0 872.6L798.7 873.4L799.4 873.2L800.1 872.8L800.8 873.5L801.5 873.0L802.2 873.7L802.9 873.2L803.6 873.6L804.3 873.6L805.0 873.0L805.7 873.3L806.4 873.4L807.1 873.3L807.8 872.6L808.5 873.4L809.2 873.5L809.9 872.8L810.6 872.7L811.3 872.6L812.0 873.2L812.7 872.7L813.4 873.6L814.1 873.1L814.8 873.8L815.5 873.4L816.2 873.1L816.9 872.8L817.6 873.1L818.3 873.3L819.0 873.6L819.7 873.7L820.4 873.0L821.1 872.6L821.8 873.4L822.5 873.4L823.2 873.4L823.9 873.6L824.6 873.6L825.3 873.4L826.0 873.6L826.7 872.8L827.4 873.7L828.1 873.4L828.8 872.7L829.5 872.8L830.2 873.4L830.9 873.0L831.6 873.8L832.3 873.0L833.0 873.2L833.7 873.2L834.4 873.8L835.1 873.0L835.8 873.7L836.5 873.5L837.2 873.3L837.9 873.8L838.6 873.7L839.3 873.6L840.0 873.3L840.7 872.7L841.4 872.9L842.1 873.4L842.8 872.8L843.5 873.4L844.2 873.1L844.9 873.1L845.6 873.7L846.3 873.7L847.0 873.6L847.7 873.2L848.4 873.3L849.1 873.9L849.8 873.8L850.5 873.4L851.2 872.8L851.9 873.8L852.6 872.7L853.3 872.8L854.0 873.5L854.7 872.9L855.4 873.6L856.1 873.5L856.8 872.9L857.5 873.8L858.2 873.9L858.9 873.5L859.6 873.9L860.3 873.6L861.0 873.2L861.7 873.7L862.4 873.8L863.1 873.5L863.8 872.8L864.5 873.1L865.2 873.5L865.9 873.1L866.6 872.9L867.3 873.2L868.0 872.8L868.7 873.2L869.4 872.8L870.1 873.6L870.8 872.9L871.5 873.8L872.2 872.8L872.9 873.4L873.6 873.5L874.3 872.9L875.0 873.4L875.7 873.3L876.4 873.4L877.1 872.9L877.8 873.2L878.5 873.7L879.2 873.4L879.9 872.9L880.6 873.0L881.3 873.7L882.0 872.7L882.7 873.2L883.4 873.2L884.1 873.1L884.8 872.6L885.5 872.7L886.2 873.6L886.9 873.1L887.6 872.9L888.3 873.1L889.0 872.6L889.7 872.6L890.4 873.5L891.1 873.4L891.8 872.7L892.5 872.9L893.2 872.5L893.9 872.8L894.6 873.1L895.3 873.3L896.0 873.0L896.7 873.4L897.4 873.6L898.1 873.0L898.8 872.4L899.5 872.5L900.2 873.1L900.9 872.4L901.6 873.3L902.3 872.3L903.0 872.2L903.7 873.3L904.4 872.6L905.1 872.7L905.8 872.7L906.5 872.1L907.2 872.3L907.9 872.3L908.6 872.7L909.3 872.7L910.0 872.5L910.7 871.9L911.4 872.1L912.1 872.6L912.8 871.6L913.5 871.7L914.2 872.0L914.9 872.3L915.6 871.0L916.3 871.7L917.0 871.3L917.7 871.2L918.4 871.4L919.1 870.3L919.8 870.8L920.5 870.3L921.2 870.5L921.9 870.1L922.6 869.4L923.3 868.7L924.0 868.9L924.7 868.3L925.4 867.4L926.1 866.8L926.8 866.0L927.5 863.8L928.2 862.8L928.9 861.1L929.6 858.2L930.3 856.4L931.0 852.6L931.7 849.9L932.4 845.5L933.1 841.7L933.8 837.1L934.5 832.4L935.2 827.6L935.9 824.2L936.6 822.0L937.3 821.4L938.0 821.8L938.7 824.7L939.4 827.5L940.1 832.1L940.8 836.2L941.5 840.7L942.2 845.2L942.9 848.8L943.6 852.9L944.3 856.1L945.0 858.4L945.7 861.1L946.4 862.7L947.1 864.4L947.8 865.0L948.5 866.3L949.2 866.8L949.9 867.7L950.6 869.1L951.3 868.7L952.0 869.7L952.7 869.8L953.4 870.5L954.1 871.0L954.8 871.2L955.5 871.6L956.2 871.8L956.9 871.3L957.6 872.1L958.3 872.0L959.0 871.5L959.7 871.7L960.4 872.1L961.1 872.6L961.8 871.8L962.5 872.8L963.2 872.6L963.9 872.6L964.6 872.4L965.3 872.5L966.0 872.6L966.7 873.0L967.4 872.7L968.1 873.1L968.8 873.3L969.5 872.4L970.2 872.4L970.9 873.5L971.6 872.7L972.3 873.4L973.0 873.0L973.7 872.8L974.4 872.6L975.1 873.1L975.8 873.3L976.5 872.7L977.2 872.7L977.9 873.0L978.6 873.8L979.3 873.6L980.0 873.1L980.7 873.2L981.4 873.3L982.1 873.6L982.8 873.2L983.5 873.3L984.2 873.5L984.9 873.1L985.6 873.4L986.3 873.8L987.0 873.5L987.7 873.0L988.4 873.3L989.1 873.6L989.8 873.2L990.5 873.4L991.2 873.6L991.9 873.4L992.6 873.2L993.3 874.0L994.0 873.1L994.7 874.1L995.4 873.1L996.1 873.7L996.8 873.7L997.5 873.5L998.2 873.8L998.9 874.1L999.6 873.5L1000.3 873.1L1001.0 873.3L1001.7 874.1L1002.4 873.8L1003.1 874.0L1003.8 873.6L1004.5 873.5L1005.2 873.9L1005.9 873.8L1006.6 874.2L1007.3 873.3L1008.0 873.5L1008.7 874.0L1009.4 874.2L1010.1 873.7L1010.8 874.1L1011.5 873.3L1012.2 873.9L1012.9 873.6L1013.6 874.0L1014.3 873.5L1015.0 873.4L1015.7 873.5L1016.4 874.0L1017.1 874.0L1017.8 874.3L1018.5 873.7L1019.2 873.3L1019.9 874.2L1020.6 873.5L1021.3 874.1L1022.0 873.8L1022.7 873.7L1023.4 873.2L1024.1 873.5L1024.8 874.1L1025.5 873.8L1026.2 874.3L1026.9 874.2L1027.6 873.9L1028.3 874.4L1029.0 873.2L1029.7 873.7L1030.4 873.9L1031.1 873.3L1031.8 874.3L1032.5 873.4L1033.2 873.9L1033.9 873.6L1034.6 873.7L1035.3 873.8L1036.0 873.6L1036.7 873.4L1037.4 874.0L1038.1 874.0L1038.8 873.3L1039.5 874.4L1040.2 873.4L1040.9 873.5L1041.6 873.6L1042.3 873.7L1043.0 873.8L1043.7 874.3L1044.4 873.4L1045.1 873.9L1045.8 874.0L1046.5 873.6L1047.2 873.7L1047.9 873.8L1048.6 874.3L1049.3 874.2L1050.0 873.8L1050.7 873.3L1051.4 873.7L1052.1 874.2L1052.8 873.8L1053.5 873.7L1054.2 874.0L1054.9 873.3L1055.6 874.0L1056.3 874.1L1057.0 873.4L1057.7 873.8L1058.4 874.3L1059.1 873.6L1059.8 873.9L1060.5 873.7L1061.2 873.9L1061.9 873.7L1062.6 873.7L1063.3 874.4L1064.0 874.1L1064.7 874.5L1065.4 873.7L1066.1 873.8L1066.8 873.7L1067.5 874.3L1068.2 873.7L1068.9 874.1L1069.6 873.4L1070.3 873.9L1071.0 873.6L1071.7 874.3L1072.4 873.7L1073.1 874.4L1073.8 873.9L1074.5 873.6L1075.2 873.9L1075.9 874.3L1076.6 874.1L1077.3 874.2L1078.0 873.9L1078.7 874.0L1079.4 873.4L1080.1 874.2L1080.8 874.0L1081.5 874.0L1082.2 873.6L1082.9 874.1L1083.6 873.8L1084.3 873.6L1085.0 874.4L1085.7 874.1L1086.4 874.0L1087.1 874.2L1087.8 874.0L1088.5 873.7L1089.2 874.3L1089.9 874.3L1090.6 874.0L1091.3 873.7L1092.0 873.8L1092.7 873.2L1093.4 874.3L1094.1 874.2L1094.8 873.9L1095.5 873.7L1096.2 874.1L1096.9 873.2L1097.6 873.6L1098.3 873.5L1099.0 873.9L1099.7 873.6L1100.4 873.9L1101.1 874.2L1101.8 873.6L1102.5 873.3L1103.2 873.2L1103.9 874.1L1104.6 873.7L1105.3 873.7L1106.0 873.2L1106.7 873.2L1107.4 873.1L1108.1 874.2L1108.8 873.2L1109.5 873.5L1110.2 873.7L1110.9 873.8L1111.6 873.3L1112.3 873.8L1113.0 873.8L1113.7 874.2L1114.4 873.2L1115.1 873.4L1115.8 873.2L1116.5 873.4L1117.2 873.3L1117.9 873.1L1118.6 874.0L1119.3 873.3L1120.0 873.9L1120.7 874.0L1121.4 873.9L1122.1 873.0L1122.8 873.7L1123.5 874.0L1124.2 873.7L1124.9 873.6L1125.6 873.4L1126.3 873.9L1127.0 873.5L1127.7 873.3L1128.4 873.5L1129.1 873.4L1129.8 873.1L1130.5 873.6L1131.2 873.8L1131.9 873.6L1132.6 872.8L1133.3 873.2L1134.0 873.7L1134.7 872.9L1135.4 873.3L1136.1 873.5L1136.8 873.3L1137.5 873.0L1138.2 872.6L1138.9 873.4L1139.6 872.8L1140.3 873.3L1141.0 873.1L1141.7 873.4L1142.4 872.6L1143.1 873.6L1143.8 873.3L1144.5 873.4L1145.2 872.6L1145.9 873.2L1146.6 872.7L1147.3 873.1L1148.0 873.0L1148.7 872.6L1149.4 873.2L1150.1 872.6L1150.8 872.6L1151.5 872.8L1152.2 872.1L1152.9 872.9L1153.6 872.2L1154.3 872.8L1155.0 871.8L1155.7 871.7L1156.4 872.2L1157.1 871.7L1157.8 871.8L1158.5 871.5L1159.2 872.0L1159.9 871.9L1160.6 871.7L1161.3 871.0L1162.0 870.7L1162.7 871.2L1163.4 870.5L1164.1 871.1L1164.8 870.7L1165.5 871.0L1166.2 870.6L1166.9 870.2L1167.6 870.2L1168.3 869.5L1169.0 868.9L1169.7 868.3L1170.4 868.6L1171.1 868.1L1171.8 867.5L1172.5 866.7L1173.2 865.8L1173.9 865.5L1174.6 863.8L1175.3 862.3L1176.0 861.8L1176.7 859.9L1177.4 858.2L1178.1 856.1L1178.8 853.0L1179.5 849.9L1180.2 847.2L1180.9 843.7L1181.6 839.9L1182.3 836.3L1183.0 831.3L1183.7 827.6L1184.4 822.0L1185.1 817.3L1185.8 813.1L1186.5 807.7L1187.2 803.9L1187.9 799.5L1188.6 796.4L1189.3 794.0L1190.0 792.3L1190.7 792.5L1191.4 793.4L1192.1 795.1L1192.8 796.9L1193.5 800.2L1194.2 804.8L1194.9 809.6L1195.6 814.1L1196.3 819.5L1197.0 824.3L1197.7 828.6L1198.4 832.6L1199.1 837.0L1199.8 840.6L1200.5 844.7L1201.2 848.4L1201.9 850.9L1202.6 853.4L1203.3 856.2L1204.0 858.8L1204.7 860.3L1205.4 861.2L1206.1 863.0L1206.8 863.9L1207.5 865.6L1208.2 866.0L1208.9 866.8L1209.6 867.9L1210.3 867.8L1211.0 868.4L1211.7 869.5L1212.4 869.0L1213.1 869.6L1213.8 870.0L1214.5 869.9L1215.2 870.5L1215.9 870.4L1216.6 871.1L1217.3 870.9L1218.0 871.3L1218.7 871.3L1219.4 871.5L1220.1 871.3L1220.8 871.1L1221.5 871.5L1222.2 871.6L1222.9 871.3L1223.6 872.3L1224.3 872.1L1225.0 872.1L1225.7 872.4L1226.4 871.7L1227.1 871.9L1227.8 872.7L1228.5 871.9L1229.2 873.0L1229.9 872.6L1230.6 873.2L1231.3 873.1L1232.0 872.6L1232.7 872.6L1233.4 872.7L1234.1 873.2L1234.8 872.8L1235.5 873.2L1236.2 873.5L1236.9 873.3L1237.6 873.1L1238.3 873.3L1239.0 873.1L1239.7 873.2L1240.4 873.0L1241.1 873.7L1241.8 873.8L1242.5 873.3L1243.2 873.3L1243.9 872.8L1244.6 873.4L1245.3 873.8L1246.0 873.0L1246.7 873.7L1247.4 873.1L1248.1 873.6L1248.8 873.1L1249.5 873.5L1250.2 873.7L1250.9 872.9L1251.6 873.9L1252.3 873.5L1253.0 873.2L1253.7 873.3L1254.4 873.6L1255.1 873.8L1255.8 873.1L1256.5 873.0L1257.2 873.2L1257.9 873.7L1258.6 873.4L1259.3 873.9L1260.0 873.8L1260.7 873.4L1261.4 873.7L1262.1 873.2L1262.8 873.7L1263.5 873.8L1264.2 873.3L1264.9 873.8L1265.6 873.2L1266.3 874.2L1267.0 873.7L1267.7 874.2L1268.4 873.9L1269.1 873.3L1269.8 873.9L1270.5 873.8L1271.2 873.5L1271.9 873.9L1272.6 874.0L1273.3 873.9L1274.0 873.3L1274.7 874.2L1275.4 874.2L1276.1 873.6L1276.8 874.2L1277.5 874.3L1278.2 873.5L1278.9 873.3L1279.6 873.4L1280.3 873.7L1281.0 873.3L1281.7 873.4L1282.4 874.0L1283.1 873.1L1283.8 873.8L1284.5 873.6L1285.2 873.9L1285.9 873.4L1286.6 873.7L1287.3 873.3L1288.0 873.1L1288.7 874.1L1289.4 873.5L1290.1 873.4L1290.8 874.2L1291.5 873.5L1292.2 873.7L1292.9 873.2L1293.6 873.5L1294.3 874.1L1295.0 874.0L1295.7 874.0L1296.4 874.1L1297.1 873.3L1297.8 873.1L1298.5 873.2L1299.2 873.8L1299.9 873.6L1300.6 873.4L1301.3 873.8L1302.0 873.2L1302.7 873.7L1303.4 873.4L1304.1 873.1L1304.8 873.9L1305.5 873.1L1306.2 873.9L1306.9 873.8L1307.6 873.4L1308.3 873.4L1309.0 873.1L1309.7 873.0L1310.4 873.6L1311.1 873.2L1311.8 873.5L1312.5 873.2L1313.2 873.1L1313.9 872.9L1314.6 873.6L1315.3 873.2L1316.0 872.8L1316.7 873.7L1317.4 872.8L1318.1 872.9L1318.8 872.7L1319.5 873.2L1320.2 873.4L1320.9 872.5L1321.6 873.5L1322.3 873.2L1323.0 873.4L1323.7 872.8L1324.4 872.8L1325.1 872.3L1325.8 872.5L1326.5 873.2L1327.2 872.4L1327.9 873.1L1328.6 873.0L1329.3 873.0L1330.0 872.0L1330.7 872.3L1331.4 872.7L1332.1 872.0L1332.8 871.9L1333.5 871.5L1334.2 872.0L1334.9 872.0L1335.6 871.5L1336.3 871.4L1337.0 871.7L1337.7 871.1L1338.4 871.7L1339.1 871.6L1339.8 870.9L1340.5 870.4L1341.2 870.7L1341.9 870.2L1342.6 869.7L1343.3 870.2L1344.0 869.8L1344.7 869.1L1345.4 868.7L1346.1 868.9L1346.8 868.7L1347.5 867.5L1348.2 867.1L1348.9 866.0L1349.6 865.5L1350.3 864.7L1351.0 863.3L1351.7 862.4L1352.4 860.9L1353.1 858.7L1353.8 856.9L1354.5 855.1L1355.2 852.5L1355.9 850.4L1356.6 847.6L1357.3 844.5L1358.0 841.4L1358.7 837.5L1359.4 834.0L1360.1 829.3L1360.8 826.3L1361.5 822.5L1362.2 818.5L1362.9 815.5L1363.6 812.4L1364.3 810.2L1365.0 808.6L1365.7 808.6L1366.4 809.5L1367.1 811.1L1367.8 813.5L1368.5 816.0L1369.2 819.9L1369.9 823.0L1370.6 826.4L1371.3 830.8L1372.0 834.8L1372.7 838.8L1373.4 841.6L1374.1 844.7L1374.8 848.6L1375.5 850.7L1376.2 854.0L1376.9 856.0L1377.6 857.5L1378.3 859.7L1379.0 861.6L1379.7 862.3L1380.4 864.4L1381.1 864.4L1381.8 865.4L1382.5 866.7L1383.2 867.4L1383.9 867.9L1384.6 868.8L1385.3 868.4L1386.0 868.6L1386.7 869.5L1387.4 869.6L1388.1 869.9L1388.8 870.2L1389.5 871.0L1390.2 870.5L1390.9 871.1L1391.6 871.1L1392.3 871.0L1393.0 871.8L1393.7 871.2L1394.4 871.4L1395.1 871.4L1395.8 872.1L1396.5 872.2L1397.2 871.9L1397.9 871.7L1398.6 872.3L1399.3 872.1L1400.0 872.4L1400.7 872.6L1401.4 871.9L1402.1 872.0L1402.8 873.0L1403.5 873.1L1404.2 872.2L1404.9 872.4L1405.6 872.7L1406.3 873.2L1407.0 872.6L1407.7 873.5L1408.4 872.5L1409.1 873.5L1409.8 872.5L1410.5 873.2L1411.2 873.6L1411.9 873.4L1412.6 873.6L1413.3 873.0L1414.0 873.7L1414.7 873.7L1415.4 873.0L1416.1 873.6L1416.8 873.8L1417.5 872.9L1418.2 873.2L1418.9 873.6L1419.6 873.4L1420.3 873.8L1421.0 873.3L1421.7 873.3L1422.4 873.0L1423.1 873.1L1423.8 873.8L1424.5 873.1L1425.2 873.9L1425.9 873.8L1426.6 873.5L1427.3 873.2L1428.0 872.8L1428.7 873.0L1429.4 873.8L1430.1 874.0L1430.8 874.0L1431.5 873.1L1432.2 873.9L1432.9 873.3L1433.6 873.2L1434.3 873.9L1435.0 873.8L1435.7 873.6L1436.4 873.1L1437.1 872.9L1437.8 872.9L1438.5 873.0L1439.2 872.9L1439.9 873.4L1440.6 873.0L1441.3 872.9L1442.0 873.6L1442.7 873.0L1443.4 872.5L1444.1 872.5L1444.8 873.1L1445.5 872.4L1446.2 872.9L1446.9 872.2L1447.6 872.7L1448.3 872.7L1449.0 872.5L1449.7 871.9L1450.4 872.5L1451.1 872.4L1451.8 871.9L1452.5 871.7L1453.2 871.4L1453.9 870.3L1454.6 870.0L1455.3 869.4L1456.0 869.3L1456.7 868.0L1457.4 867.4L1458.1 867.1L1458.8 866.6L1459.5 866.5L1460.2 865.2L1460.9 864.3L1461.6 864.4L1462.3 864.7L1463.0 863.7L1463.7 864.2L1464.4 864.5L1465.1 865.1L1465.8 865.0L1466.5 865.8L1467.2 866.8L1467.9 867.3L1468.6 867.4L1469.3 867.7L1470.0 868.6L1470.7 869.2L1471.4 869.6L1472.1 869.9L1472.8 869.9L1473.5 870.6L1474.2 870.4L1474.9 870.5L1475.6 870.5L1476.3 871.2L1477.0 870.8L1477.7 871.0L1478.4 871.0L1479.1 871.1L1479.8 871.1L1480.5 871.8L1481.2 871.2L1481.9 871.1L1482.6 870.8L1483.3 870.9L1484.0 871.1L1484.7 870.6L1485.4 870.4L1486.1 870.0L1486.8 869.5L1487.5 869.3L1488.2 868.8L1488.9 868.7L1489.6 868.0L1490.3 868.0L1491.0 867.6L1491.7 866.4L1492.4 866.4L1493.1 865.1L1493.8 864.2L1494.5 862.8L1495.2 861.8L1495.9 860.0L1496.6 857.5L1497.3 855.9L1498.0 853.2L1498.7 851.2L1499.4 847.9L1500.1 844.7L1500.8 841.2L1501.5 839.0L1502.2 834.5L1502.9 831.2L1503.6 828.8L1504.3 824.7L1505.0 822.6L1505.7 820.6L1506.4 819.7L1507.1 819.5L1507.8 820.3L1508.5 820.8L1509.2 822.6L1509.9 825.4L1510.6 828.2L1511.3 831.8L1512.0 835.6L1512.7 839.3L1513.4 841.6L1514.1 844.9L1514.8 848.5L1515.5 850.8L1516.2 852.9L1516.9 854.7L1517.6 856.6L1518.3 858.4L1519.0 860.3L1519.7 860.8L1520.4 862.2L1521.1 863.4L1521.8 863.0L1522.5 863.7L1523.2 864.1L1523.9 864.4L1524.6 864.4L1525.3 864.2L1526.0 863.5L1526.7 862.9L1527.4 862.6L1528.1 861.7L1528.8 861.3L1529.5 859.9L1530.2 858.8L1530.9 857.7L1531.6 856.2L1532.3 854.9L1533.0 853.7L1533.7 852.2L1534.4 851.4L1535.1 849.4L1535.8 848.6L1536.5 848.4L1537.2 847.7L1537.9 847.2L1538.6 847.1L1539.3 847.5L1540.0 848.6L1540.7 849.8L1541.4 851.1L1542.1 852.3L1542.8 854.1L1543.5 855.8L1544.2 856.8L1544.9 858.9L1545.6 860.4L1546.3 861.2L1547.0 862.5L1547.7 863.4L1548.4 865.0L1549.1 866.2L1549.8 866.8L1550.5 867.7L1551.2 868.4L1551.9 868.4L1552.6 868.9L1553.3 869.9L1554.0 870.8L1554.7 870.9L1555.4 870.9L1556.1 871.0L1556.8 871.0L1557.5 871.9L1558.2 872.2L1558.9 871.9L1559.6 871.7L1560.3 872.1L1561.0 872.7L1561.7 872.9L1562.4 872.5L1563.1 873.2L1563.8 872.7L1564.5 872.3L1565.2 872.6L1565.9 873.5L1566.6 873.4L1567.3 872.7L1568.0 873.0L1568.7 873.2L1569.4 873.3L1570.1 872.8L1570.8 873.9L1571.5 873.5L1572.2 873.2L1572.9 873.0L1573.6 873.7L1574.3 874.1L1575.0 873.9L1575.7 874.1L1576.4 874.2L1577.1 873.9L1577.8 873.2L1578.5 873.6L1579.2 873.9L1579.9 873.7L1580.6 873.5L1581.3 873.4L1582.0 874.4L1582.7 874.1L1583.4 873.7L1584.1 873.9L1584.8 874.4L1585.5 873.6L1586.2 874.2L1586.9 873.7L1587.6 874.5L1588.3 874.4L1589.0 874.6L1589.7 874.0L1590.4 874.1L1591.1 873.9L1591.8 874.0L1592.5 874.7L1593.2 874.7L1593.9 874.8L1594.6 874.7L1595.3 874.2L1596.0 874.4L1596.7 874.7L1597.4 874.1L1598.1 874.7L1598.8 874.6L1599.5 874.0L1600.2 874.1L1600.9 874.5L1601.6 873.9L1602.3 874.0L1603.0 873.9L1603.7 873.8L1604.4 874.8L1605.1 874.9L1605.8 874.7L1606.5 874.3L1607.2 874.6L1607.9 874.6L1608.6 874.3L1609.3 874.4L1610.0 873.9L1610.7 874.0L1611.4 874.2L1612.1 874.2L1612.8 874.6L1613.5 874.1L1614.2 874.1L1614.9 874.8L1615.6 874.7L1616.3 874.9L1617.0 874.7L1617.7 874.0L1618.4 874.3L1619.1 874.7L1619.8 874.7L1620.5 874.0L1621.2 874.3L1621.9 874.3L1622.6 873.6L1623.3 873.8L1624.0 874.4L1624.7 874.2L1625.4 873.8L1626.1 873.8L1626.8 873.6L1627.5 873.2L1628.2 872.7L1628.9 873.3L1629.6 873.1L1630.3 872.5L1631.0 872.6L1631.7 872.5L1632.4 872.1L1633.1 872.0L1633.8 872.0L1634.5 870.7L1635.2 871.7L1635.9 871.1L1636.6 871.5L1637.3 871.5L1638.0 870.9L1638.7 871.7L1639.4 871.3L1640.1 872.3L1640.8 872.1L1641.5 872.4L1642.2 872.5L1642.9 873.4L1643.6 873.4L1644.3 873.2L1645.0 873.9L1645.7 873.4L1646.4 874.3L1647.1 874.2L1647.8 874.5L1648.5 874.4L1649.2 874.9L1649.9 874.6L1650.6 874.4L1651.3 874.6L1652.0 874.6L1652.7 874.3L1653.4 874.3L1654.1 874.9L1654.8 874.9L1655.5 875.1L1656.2 874.8L1656.9 874.6L1657.6 874.5L1658.3 874.9L1659.0 874.8L1659.7 875.2L1660.4 874.9L1661.1 874.5L1661.8 874.4L1662.5 874.1L1663.2 875.0L1663.9 874.6L1664.6 874.5L1665.3 874.1L1666.0 874.7L1666.7 875.2L1667.4 874.4L1668.1 875.0L1668.8 875.0L1669.5 874.9L1670.2 874.8L1670.9 874.4L1671.6 874.9L1672.3 874.8L1673.0 875.3L1673.7 874.7L1674.4 874.6L1675.1 875.2L1675.8 874.9L1676.5 874.6L1677.2 874.9L1677.9 874.3L1678.6 874.4L1679.3 875.2L1680.0 874.7L1680.7 875.1L1681.4 874.4L1682.1 874.7L1682.8 874.4L1683.5 875.1L1684.2 874.9L1684.9 874.6L1685.6 874.6L1686.3 874.4L1687.0 874.4L1687.7 875.0L1688.4 874.6L1689.1 874.3L1689.8 874.6L1690.5 874.7L1691.2 875.4L1691.9 874.6L1692.6 874.7L1693.3 875.4L1694.0 875.1L1694.7 874.7L1695.4 874.7L1696.1 874.5L1696.8 874.4L1697.5 874.8L1698.2 875.0L1698.9 874.3L1699.6 874.8L1700.3 874.4L1701.0 874.9L1701.7 874.6L1702.4 875.0L1703.1 875.1L1703.8 874.7L1704.5 874.7L1705.2 874.3L1705.9 874.5L1706.6 875.0L1707.3 875.2L1708.0 874.4L1708.7 875.4L1709.4 875.3L1710.1 874.7L1710.8 874.9L1711.5 875.0L1712.2 874.6L1712.9 874.7L1713.6 875.1L1714.3 874.8L1715.0 874.7L1715.7 874.9L1716.4 874.4L1717.1 874.8L1717.8 874.6L1718.5 874.4L1719.2 874.8L1719.9 875.1L1720.6 874.8L1721.3 874.8L1722.0 875.0L1722.7 874.7L1723.4 875.4L1724.1 874.5L1724.8 874.2L1725.5 874.9L1726.2 875.0L1726.9 874.7L1727.6 874.7L1728.3 874.6L1729.0 874.5L1729.7 875.1L1730.4 875.2L1731.1 874.5L1731.8 874.8L1732.5 874.7L1733.2 874.3L1733.9 875.0L1734.6 874.8L1735.3 875.3L1736.0 875.2L1736.7 875.2L1737.4 874.4L1738.1 874.2L1738.8 875.0L1739.5 874.2L1740.2 874.9L1740.9 874.2L1741.6 874.8L1742.3 874.0L1743.0 874.0L1743.7 874.9L1744.4 874.4L1745.1 874.2L1745.8 874.7L1746.5 874.4L1747.2 873.5L1747.9 873.9L1748.6 873.3L1749.3 873.1L1750.0 872.6L1750.7 872.2L1751.4 871.9L1752.1 871.4L1752.8 870.8L1753.5 871.1L1754.2 870.0L1754.9 869.7L1755.6 869.5L1756.3 868.8L1757.0 867.7L1757.7 868.3L1758.4 868.0L1759.1 867.7L1759.8 867.0L1760.5 867.6L1761.2 867.5L1761.9 867.0L1762.6 867.8L1763.3 868.6L1764.0 868.9L1764.7 869.9L1765.4 870.2L1766.1 870.8L1766.8 871.5L1767.5 871.2L1768.2 872.4L1768.9 871.7L1769.6 873.0L1770.3 872.5L1771.0 873.3L1771.7 873.5L1772.4 873.3L1773.1 874.1L1773.8 874.5L1774.5 873.9L1775.2 874.1L1775.9 874.8L1776.6 874.6L1777.3 874.0L1778.0 874.4L1778.7 875.2L1779.4 874.4L1780.1 874.5L1780.8 874.7L1781.5 875.2L1782.2 875.1L1782.9 874.7L1783.6 875.0L1784.3 874.2L1785.0 874.3L1785.7 874.7L1786.4 875.0L1787.1 874.4L1787.8 874.3L1788.5 875.3L1789.2 874.5L1789.9 874.3L1790.6 874.4L1791.3 874.4L1792.0 874.6L1792.7 875.0L1793.4 875.1L1794.1 874.7L1794.8 874.9L1795.5 874.7L1796.2 875.0L1796.9 874.5L1797.6 875.1L1798.3 874.3L1799.0 875.5L1799.7 874.6L1800.4 875.0L1801.1 874.6L1801.8 874.9L1802.5 874.7L1803.2 875.1L1803.9 875.3L1804.6 875.4L1805.3 875.5L1806.0 874.9L1806.7 875.0L1807.4 874.8L1808.1 874.7L1808.8 875.0L1809.5 875.6L1810.2 874.5L1810.9 875.3L1811.6 874.8L1812.3 875.1L1813.0 874.7L1813.7 875.3L1814.4 875.0L1815.1 874.8L1815.8 875.0L1816.5 874.4L1817.2 874.5L1817.9 875.5L1818.6 874.5L1819.3 874.9L1820.0 875.2L1820.7 874.5L1821.4 875.5L1822.1 874.7L1822.8 875.6L1823.5 875.0L1824.2 875.1L1824.9 875.2L1825.6 874.5L1826.3 875.0L1827.0 875.3L1827.7 875.4L1828.4 875.3L1829.1 875.3L1829.8 874.6L1830.5 874.9L1831.2 875.1L1831.9 874.5L1832.6 875.4L1833.3 874.6L1834.0 875.1L1834.7 874.8L1835.4 874.6L1836.1 875.6L1836.8 875.2L1837.5 875.3L1838.2 875.2L1838.9 875.1L1839.6 875.5L1840.3 874.5L1841.0 874.9L1841.7 874.7L1842.4 875.2L1843.1 874.9L1843.8 875.6L1844.5 874.7L1845.2 874.8L1845.9 875.6L1846.6 875.3L1847.3 875.0L1848.0 874.9L1848.7 875.3L1849.4 874.6L1850.1 875.3L1850.8 874.7L1851.5 875.4L1852.2 874.5L1852.9 875.5L1853.6 875.5L1854.3 874.5L1855.0 874.6L1855.7 875.5L1856.4 875.4L1857.1 874.8L1857.8 875.4L1858.5 875.1L1859.2 874.7L1859.9 875.2L1860.6 874.9L1861.3 874.6L1862.0 875.4L1862.7 875.2L1863.4 874.7L1864.1 874.9L1864.8 875.2L1865.5 874.8L1866.2 874.6L1866.9 874.9L1867.6 875.4L1868.3 874.3L1869.0 874.4L1869.7 874.6L1870.4 875.2L1871.1 875.1L1871.8 873.8L1872.5 874.5L1873.2 873.7L1873.9 873.6L1874.6 873.4L1875.3 873.6L1876.0 874.0L1876.7 873.8L1877.4 872.9L1878.1 873.3L1878.8 872.8L1879.5 871.8L1880.2 872.6L1880.9 871.6L1881.6 872.2L1882.3 871.0L1883.0 871.8L1883.7 871.2L1884.4 871.2L1885.1 870.8L1885.8 871.2L1886.5 871.6L1887.2 871.4L1887.9 872.1L1888.6 871.8L1889.3 872.4L1890.0 871.7L1890.7 872.7L1891.4 872.8L1892.1 873.3L1892.8 872.9L1893.5 873.3L1894.2 873.9L1894.9 873.4L1895.6 873.8L1896.3 874.5L1897.0 874.4L1897.7 874.3L1898.4 873.9L1899.1 874.9L1899.8 874.6L1900.5 874.4L1901.2 874.7L1901.9 874.4L1902.6 875.3L1903.3 875.3L1904.0 875.5L1904.7 875.2L1905.4 874.6L1906.1 874.9L1906.8 875.6L1907.5 874.5L1908.2 874.9L1908.9 874.7L1909.6 874.7L1910.3 874.8L1911.0 875.2L1911.7 874.6L1912.4 875.5L1913.1 875.0L1913.8 874.7L1914.5 874.6L1915.2 875.2L1915.9 875.0L1916.6 875.1L1917.3 874.7L1918.0 875.0L1918.7 875.2L1919.4 874.7L1920.1 875.2L1920.8 875.6L1921.5 875.3L1922.2 874.7L1922.9 875.3L1923.6 874.7L1924.3 874.7L1925.0 874.6L1925.7 875.2L1926.4 874.8L1927.1 874.9L1927.8 874.7L1928.5 875.7L1929.2 874.8L1929.9 875.4L1930.6 875.6L1931.3 875.1L1932.0 875.3L1932.7 875.0L1933.4 875.6L1934.1 875.4L1934.8 874.7L1935.5 875.5L1936.2 874.8L1936.9 875.2L1937.6 874.8L1938.3 875.2L1939.0 875.4L1939.7 875.5L1940.4 875.0L1941.1 874.7L1941.8 875.2L1942.5 875.7L1943.2 875.3L1943.9 875.4L1944.6 875.5L1945.3 875.4L1946.0 875.8L1946.7 875.8L1947.4 875.5L1948.1 875.6L1948.8 874.8L1949.5 875.0L1950.2 875.5L1950.9 875.3L1951.6 875.7L1952.3 875.6L1953.0 875.0L1953.7 874.8L1954.4 875.4L1955.1 874.8L1955.8 875.2L1956.5 875.0L1957.2 875.1L1957.9 875.4L1958.6 875.4L1959.3 875.4L1960.0 874.7L1960.7 875.7L1961.4 875.5L1962.1 875.7L1962.8 875.4L1963.5 875.4L1964.2 875.7L1964.9 875.6L1965.6 875.4L1966.3 874.7L1967.0 874.7L1967.7 875.5L1968.4 875.7L1969.1 875.1L1969.8 874.9L1970.5 875.2L1971.2 875.7L1971.9 875.6L1972.6 874.8L1973.3 874.9L1974.0 874.9L1974.7 875.6L1975.4 875.0L1976.1 875.7L1976.8 875.2L1977.5 874.9L1978.2 875.2L1978.9 874.9L1979.6 875.7L1980.3 874.7L1981.0 875.2L1981.7 875.1L1982.4 874.7L1983.1 875.0L1983.8 875.9L1984.5 875.7L1985.2 875.2L1985.9 875.7L1986.6 875.8L1987.3 875.7L1988.0 875.6L1988.7 875.4L1989.4 875.3L1990.1 875.6L1990.8 875.4L1991.5 875.9L1992.2 874.9L1992.9 875.8L1993.6 875.6L1994.3 875.2L1995.0 875.7L1995.7 875.1L1996.4 875.2L1997.1 875.4L1997.8 875.9L1998.5 875.0L1999.2 875.7L1999.9 875.5L2000.6 875.8L2001.3 875.1L2002.0 875.5L2002.7 875.8L2003.4 875.8L2004.1 875.6L2004.8 875.7L2005.5 875.5L2006.2 875.4L2006.9 875.0L2007.6 875.3L2008.3 875.9L2009.0 875.9L2009.7 874.8L2010.4 875.1L2011.1 875.0L2011.8 875.7L2012.5 874.9L2013.2 875.6L2013.9 875.0L2014.6 875.1L2015.3 875.9L2016.0 874.9L2016.7 875.4L2017.4 875.1L2018.1 875.6L2018.8 874.8L2019.5 875.5L2020.2 875.0L2020.9 875.9L2021.6 875.1L2022.3 875.5L2023.0 874.8L2023.7 875.9L2024.4 875.5L2025.1 875.8L2025.8 875.6L2026.5 874.8L2027.2 875.6L2027.9 875.2L2028.6 875.0L2029.3 875.8L2030.0 875.5L2030.7 875.2L2031.4 874.8L2032.1 875.5L2032.8 874.8L2033.5 875.0L2034.2 874.8L2034.9 875.0L2035.6 875.6L2036.3 875.1L2037.0 875.9L2037.7 875.1L2038.4 875.7L2039.1 875.6L2039.8 875.5L2040.5 875.5L2041.2 874.9L2041.9 875.8L2042.6 875.9L2043.3 875.4L2044.0 875.0L2044.7 874.9L2045.4 875.1L2046.1 875.9L2046.8 875.1L2047.5 875.1L2048.2 875.4L2048.9 874.8L2049.6 875.7L2050.3 875.7L2051.0 875.1L2051.7 874.8L2052.4 875.8L2053.1 875.7L2053.8 875.7L2054.5 875.0L2055.2 875.9L2055.9 875.5L2056.6 874.8L2057.3 875.9L2058.0 875.6L2058.7 875.0L2059.4 875.8L2060.1 875.5L2060.8 875.5L2061.5 874.8L2062.2 875.0L2062.9 875.7L2063.6 874.8L2064.3 875.0L2065.0 874.8L2065.7 875.5L2066.4 874.9L2067.1 875.7L2067.8 875.3L2068.5 875.7L2069.2 875.9L2069.9 875.9L2070.6 875.0L2071.3 875.2L2072.0 875.7L2072.7 875.2L2073.4 875.9L2074.1 875.2L2074.8 875.5L2075.5 875.1L2076.2 875.6L2076.9 875.1L2077.6 875.3L2078.3 875.6L2079.0 875.7L2079.7 874.9L2080.4 874.9L2081.1 875.0L2081.8 875.6L2082.5 875.5L2083.2 875.6L2083.9 875.7L2084.6 875.0L2085.3 875.3L2086.0 874.7L2086.7 875.1L2087.4 875.4L2088.1 875.0L2088.8 875.6L2089.5 874.9L2090.2 875.2L2090.9 875.5L2091.6 874.9L2092.3 875.4L2093.0 875.1L2093.7 874.7L2094.4 874.7L2095.1 875.4L2095.8 875.6L2096.5 875.4L2097.2 875.6L2097.9 875.3L2098.6 875.4L2099.3 875.4L2100.0 875.1L2100.7 875.0L2101.4 874.4L2102.1 874.4L2102.8 874.1L2103.5 874.0L2104.2 874.2L2104.9 873.8L2105.6 873.8L2106.3 873.7L2107.0 872.6L2107.7 872.8L2108.4 872.1L2109.1 870.6L2109.8 870.3L2110.5 868.9L2111.2 867.8L2111.9 867.1L2112.6 866.1L2113.3 864.9L2114.0 864.1L2114.7 864.3L2115.4 863.9L2116.1 863.6L2116.8 862.7L2117.5 862.8L2118.2 864.3L2118.9 864.4L2119.6 865.2L2120.3 866.6L2121.0 867.3L2121.7 868.0L2122.4 868.8L2123.1 869.6L2123.8 871.2L2124.5 872.1L2125.2 871.7L2125.9 872.5L2126.6 873.4L2127.3 873.4L2128.0 874.0" fill="none" stroke="#FF0080" stroke-width="12.3" stroke-linejoin="round" stroke-linecap="butt"/>
<path d="M161.0 634.5L161.7 633.2L162.4 632.4L163.1 634.0L163.8 636.2L164.5 632.5L165.2 634.7L165.9 636.2L166.6 634.9L167.3 633.7L168.0 636.9L168.7 636.1L169.4 637.3L170.1 633.4L170.8 634.5L171.5 634.3L172.2 636.5L172.9 635.2L173.6 634.9L174.3 634.7L175.0 636.8L175.7 633.8L176.4 632.5L177.1 632.8L177.8 633.2L178.5 632.4L179.2 637.3L179.9 634.9L180.6 636.3L181.3 634.4L182.0 634.8L182.7 633.1L183.4 636.8L184.1 634.2L184.8 634.2L185.5 636.0L186.2 636.7L186.9 637.4L187.6 634.6L188.3 634.3L189.0 636.5L189.7 634.3L190.4 633.0L191.1 634.6L191.8 633.6L192.5 633.4L193.2 636.2L193.9 633.9L194.6 635.4L195.3 633.6L196.0 632.6L196.7 636.3L197.4 636.3L198.1 635.9L198.8 635.4L199.5 633.0L200.2 634.8L200.9 636.6L201.6 636.4L202.3 635.3L203.0 635.5L203.7 633.0L204.4 632.4L205.1 636.7L205.8 632.2L206.5 633.5L207.2 634.3L207.9 635.9L208.6 635.9L209.3 636.9L210.0 637.2L210.7 633.6L211.4 633.5L212.1 632.8L212.8 634.0L213.5 632.7L214.2 637.4L214.9 635.3L215.6 634.9L216.3 632.5L217.0 637.2L217.7 633.5L218.4 636.4L219.1 633.3L219.8 633.7L220.5 633.0L221.2 635.1L221.9 633.8L222.6 635.4L223.3 636.1L224.0 633.5L224.7 633.0L225.4 635.1L226.1 634.5L226.8 634.7L227.5 634.3L228.2 633.2L228.9 633.0L229.6 636.3L230.3 635.8L231.0 636.1L231.7 635.8L232.4 635.1L233.1 633.4L233.8 637.3L234.5 635.2L235.2 634.8L235.9 633.8L236.6 634.4L237.3 637.7L238.0 634.6L238.7 636.7L239.4 633.1L240.1 635.6L240.8 633.9L241.5 633.7L242.2 634.1L242.9 634.6L243.6 635.9L244.3 634.7L245.0 637.1L245.7 633.3L246.4 637.1L247.1 634.8L247.8 636.7L248.5 634.6L249.2 633.9L249.9 637.3L250.6 635.9L251.3 636.4L252.0 635.3L252.7 636.3L253.4 637.7L254.1 636.5L254.8 637.7L255.5 634.4L256.2 634.2L256.9 637.3L257.6 637.0L258.3 637.3L259.0 634.9L259.7 634.8L260.4 637.7L261.1 633.7L261.8 633.5L262.5 633.6L263.2 634.3L263.9 634.9L264.6 634.7L265.3 635.1L266.0 632.9L266.7 634.5L267.4 635.4L268.1 633.0L268.8 635.2L269.5 637.5L270.2 636.2L270.9 637.7L271.6 637.3L272.3 635.3L273.0 632.9L273.7 633.1L274.4 635.8L275.1 637.2L275.8 634.5L276.5 633.5L277.2 636.8L277.9 635.6L278.6 635.3L279.3 633.5L280.0 635.7L280.7 635.8L281.4 636.6L282.1 637.6L282.8 633.2L283.5 637.2L284.2 634.5L284.9 635.0L285.6 634.7L286.3 637.1L287.0 635.2L287.7 633.3L288.4 635.4L289.1 633.7L289.8 633.0L290.5 633.2L291.2 634.9L291.9 635.3L292.6 632.9L293.3 633.7L294.0 637.6L294.7 635.8L295.4 638.1L296.1 635.8L296.8 637.9L297.5 636.6L298.2 635.0L298.9 633.3L299.6 633.8L300.3 637.1L301.0 636.4L301.7 634.6L302.4 633.9L303.1 636.3L303.8 637.9L304.5 634.3L305.2 638.2L305.9 635.8L306.6 634.1L307.3 634.0L308.0 636.8L308.7 637.9L309.4 634.1L310.1 634.3L310.8 633.8L311.5 634.2L312.2 634.3L312.9 635.3L313.6 634.4L314.3 636.5L315.0 634.4L315.7 634.5L316.4 635.3L317.1 634.0L317.8 633.4L318.5 633.6L319.2 633.1L319.9 636.6L320.6 633.4L321.3 635.6L322.0 637.7L322.7 636.3L323.4 634.7L324.1 635.2L324.8 635.4L325.5 634.8L326.2 633.5L326.9 634.0L327.6 633.9L328.3 634.3L329.0 634.9L329.7 633.7L330.4 636.4L331.1 634.2L331.8 635.8L332.5 636.8L333.2 635.8L333.9 637.0L334.6 637.2L335.3 635.5L336.0 634.3L336.7 633.5L337.4 636.8L338.1 635.2L338.8 634.8L339.5 633.7L340.2 634.2L340.9 637.8L341.6 635.7L342.3 637.6L343.0 637.6L343.7 634.6L344.4 634.5L345.1 637.8L345.8 634.5L346.5 636.4L347.2 638.1L347.9 635.7L348.6 635.5L349.3 638.2L350.0 637.7L350.7 638.1L351.4 637.0L352.1 634.5L352.8 633.6L353.5 633.5L354.2 638.1L354.9 636.1L355.6 637.9L356.3 638.2L357.0 634.6L357.7 638.3L358.4 634.8L359.1 634.3L359.8 634.8L360.5 638.4L361.2 638.2L361.9 635.2L362.6 635.9L363.3 637.6L364.0 637.5L364.7 638.0L365.4 635.3L366.1 634.7L366.8 636.1L367.5 638.2L368.2 636.6L368.9 637.9L369.6 634.5L370.3 636.1L371.0 638.1L371.7 636.4L372.4 637.5L373.1 637.6L373.8 635.7L374.5 637.0L375.2 637.0L375.9 635.7L376.6 636.1L377.3 637.6L378.0 637.9L378.7 638.5L379.4 635.4L380.1 636.9L380.8 636.3L381.5 637.8L382.2 634.8L382.9 635.9L383.6 634.9L384.3 637.6L385.0 637.1L385.7 633.6L386.4 634.1L387.1 634.3L387.8 636.5L388.5 637.4L389.2 635.3L389.9 634.0L390.6 636.5L391.3 636.7L392.0 635.8L392.7 635.0L393.4 635.3L394.1 634.8L394.8 637.6L395.5 635.5L396.2 637.1L396.9 636.3L397.6 634.8L398.3 635.0L399.0 636.9L399.7 637.9L400.4 638.1L401.1 634.4L401.8 634.9L402.5 634.1L403.2 634.6L403.9 635.5L404.6 637.2L405.3 638.1L406.0 636.5L406.7 634.4L407.4 635.5L408.1 634.4L408.8 635.0L409.5 636.5L410.2 636.1L410.9 634.5L411.6 635.0L412.3 638.0L413.0 636.7L413.7 636.6L414.4 635.2L415.1 635.1L415.8 637.3L416.5 633.7L417.2 636.8L417.9 638.3L418.6 636.7L419.3 633.9L420.0 633.8L420.7 637.4L421.4 634.5L422.1 635.6L422.8 636.7L423.5 636.8L424.2 635.0L424.9 636.9L425.6 638.0L426.3 635.8L427.0 635.5L427.7 636.8L428.4 637.7L429.1 636.8L429.8 638.0L430.5 637.3L431.2 638.1L431.9 634.7L432.6 636.7L433.3 634.4L434.0 634.0L434.7 635.0L435.4 637.9L436.1 634.8L436.8 634.8L437.5 637.8L438.2 638.0L438.9 636.9L439.6 635.0L440.3 637.2L441.0 633.5L441.7 633.2L442.4 633.5L443.1 634.7L443.8 634.3L444.5 637.2L445.2 635.2L445.9 637.1L446.6 635.3L447.3 634.7L448.0 634.5L448.7 633.1L449.4 634.9L450.1 637.3L450.8 637.3L451.5 637.0L452.2 633.0L452.9 634.6L453.6 636.4L454.3 633.1L455.0 632.6L455.7 633.2L456.4 632.5L457.1 635.5L457.8 635.3L458.5 636.4L459.2 631.9L459.9 634.9L460.6 635.1L461.3 632.1L462.0 631.5L462.7 635.6L463.4 634.5L464.1 630.9L464.8 631.2L465.5 633.2L466.2 630.7L466.9 631.6L467.6 630.0L468.3 629.4L469.0 630.9L469.7 630.8L470.4 631.8L471.1 627.3L471.8 628.4L472.5 626.5L473.2 628.1L473.9 625.6L474.6 625.5L475.3 627.5L476.0 625.0L476.7 623.8L477.4 622.1L478.1 618.6L478.8 619.0L479.5 618.1L480.2 611.4L480.9 611.8L481.6 605.9L482.3 600.9L483.0 597.8L483.7 592.4L484.4 581.8L485.1 573.0L485.8 563.9L486.5 550.5L487.2 539.0L487.9 528.3L488.6 512.7L489.3 507.5L490.0 505.1L490.7 509.7L491.4 521.3L492.1 535.4L492.8 546.3L493.5 559.2L494.2 571.0L494.9 581.3L495.6 589.9L496.3 593.7L497.0 598.6L497.7 606.7L498.4 609.2L499.1 613.8L499.8 613.1L500.5 618.5L501.2 617.4L501.9 619.2L502.6 620.6L503.3 623.0L504.0 624.4L504.7 626.5L505.4 628.7L506.1 627.1L506.8 628.5L507.5 628.4L508.2 628.8L508.9 628.7L509.6 628.0L510.3 629.5L511.0 632.0L511.7 632.7L512.4 632.5L513.1 631.7L513.8 631.8L514.5 631.0L515.2 631.5L515.9 635.1L516.6 633.4L517.3 632.7L518.0 633.5L518.7 633.4L519.4 632.6L520.1 633.3L520.8 633.5L521.5 635.7L522.2 635.8L522.9 633.1L523.6 633.9L524.3 633.0L525.0 636.3L525.7 632.7L526.4 634.3L527.1 632.2L527.8 634.3L528.5 634.3L529.2 632.3L529.9 633.0L530.6 634.6L531.3 634.5L532.0 633.7L532.7 632.6L533.4 633.8L534.1 633.9L534.8 632.8L535.5 635.1L536.2 633.3L536.9 634.7L537.6 635.5L538.3 632.3L539.0 634.5L539.7 635.1L540.4 636.2L541.1 635.2L541.8 635.8L542.5 634.9L543.2 632.9L543.9 635.4L544.6 635.1L545.3 633.7L546.0 635.6L546.7 631.5L547.4 635.2L548.1 632.5L548.8 633.1L549.5 634.0L550.2 631.0L550.9 632.1L551.6 629.6L552.3 629.3L553.0 632.9L553.7 629.1L554.4 629.4L555.1 627.3L555.8 630.0L556.5 627.0L557.2 627.3L557.9 623.1L558.6 621.9L559.3 618.4L560.0 616.7L560.7 612.9L561.4 606.7L562.1 599.0L562.8 587.3L563.5 575.8L564.2 552.6L564.9 530.6L565.6 511.7L566.3 504.0L567.0 512.5L567.7 530.8L568.4 556.5L569.1 573.3L569.8 588.1L570.5 598.9L571.2 606.3L571.9 613.1L572.6 617.3L573.3 618.0L574.0 622.9L574.7 622.3L575.4 625.5L576.1 624.4L576.8 627.5L577.5 626.8L578.2 630.5L578.9 629.6L579.6 628.8L580.3 631.6L581.0 628.2L581.7 631.2L582.4 630.9L583.1 628.3L583.8 630.3L584.5 628.9L585.2 632.7L585.9 628.8L586.6 631.1L587.3 630.6L588.0 628.7L588.7 632.1L589.4 630.3L590.1 630.3L590.8 628.6L591.5 627.9L592.2 628.3L592.9 626.7L593.6 627.1L594.3 627.9L595.0 627.0L595.7 628.1L596.4 624.9L597.1 624.5L597.8 625.2L598.5 625.1L599.2 622.6L599.9 621.2L600.6 619.7L601.3 619.5L602.0 618.1L602.7 618.3L603.4 614.1L604.1 612.5L604.8 611.8L605.5 606.7L606.2 602.8L606.9 603.0L607.6 598.4L608.3 590.6L609.0 584.3L609.7 577.7L610.4 567.9L611.1 559.8L611.8 547.5L612.5 531.6L613.2 512.3L613.9 493.5L614.6 471.1L615.3 444.6L616.0 425.5L616.7 408.4L617.4 406.3L618.1 411.0L618.8 424.5L619.5 447.0L620.2 468.5L620.9 490.4L621.6 513.0L622.3 529.1L623.0 545.9L623.7 560.3L624.4 569.8L625.1 577.3L625.8 584.4L626.5 592.1L627.2 597.1L627.9 603.2L628.6 603.9L629.3 608.4L630.0 611.1L630.7 613.3L631.4 614.6L632.1 617.3L632.8 619.6L633.5 619.6L634.2 621.4L634.9 623.4L635.6 626.2L636.3 625.2L637.0 625.5L637.7 624.9L638.4 627.7L639.1 627.6L639.8 627.2L640.5 629.2L641.2 630.3L641.9 629.6L642.6 631.7L643.3 631.6L644.0 629.6L644.7 629.9L645.4 632.1L646.1 632.8L646.8 632.8L647.5 631.7L648.2 632.4L648.9 634.2L649.6 633.1L650.3 633.8L651.0 632.7L651.7 634.6L652.4 634.1L653.1 632.3L653.8 635.5L654.5 635.9L655.2 636.8L655.9 636.7L656.6 635.8L657.3 635.0L658.0 634.2L658.7 636.1L659.4 635.1L660.1 634.8L660.8 634.0L661.5 636.1L662.2 636.6L662.9 636.9L663.6 634.5L664.3 634.8L665.0 636.6L665.7 634.6L666.4 637.7L667.1 638.0L667.8 636.8L668.5 635.4L669.2 636.6L669.9 637.5L670.6 635.9L671.3 637.2L672.0 637.0L672.7 638.3L673.4 637.8L674.1 637.4L674.8 636.9L675.5 638.4L676.2 637.3L676.9 637.6L677.6 636.1L678.3 635.4L679.0 637.2L679.7 635.9L680.4 639.0L681.1 635.9L681.8 638.7L682.5 636.5L683.2 635.9L683.9 637.5L684.6 636.5L685.3 639.2L686.0 637.8L686.7 635.7L687.4 636.6L688.1 635.8L688.8 637.3L689.5 637.5L690.2 636.7L690.9 638.1L691.6 637.2L692.3 638.8L693.0 638.2L693.7 636.6L694.4 638.9L695.1 635.7L695.8 636.5L696.5 635.7L697.2 639.4L697.9 637.8L698.6 639.0L699.3 639.6L700.0 636.1L700.7 639.3L701.4 635.8L702.1 638.5L702.8 638.9L703.5 637.3L704.2 639.3L704.9 638.9L705.6 637.8L706.3 637.0L707.0 636.5L707.7 636.2L708.4 638.0L709.1 638.0L709.8 636.7L710.5 638.0L711.2 636.3L711.9 637.2L712.6 638.6L713.3 636.6L714.0 638.1L714.7 636.5L715.4 639.5L716.1 636.9L716.8 639.7L717.5 639.7L718.2 639.9L718.9 637.2L719.6 638.8L720.3 636.4L721.0 639.9L721.7 638.9L722.4 636.3L723.1 636.7L723.8 636.6L724.5 637.5L725.2 639.9L725.9 639.3L726.6 637.5L727.3 639.4L728.0 636.3L728.7 638.4L729.4 637.8L730.1 636.6L730.8 639.9L731.5 638.8L732.2 640.2L732.9 638.8L733.6 638.7L734.3 636.8L735.0 638.2L735.7 639.8L736.4 638.5L737.1 638.8L737.8 638.2L738.5 637.8L739.2 636.4L739.9 637.2L740.6 637.1L741.3 636.8L742.0 636.6L742.7 639.4L743.4 640.3L744.1 639.1L744.8 639.7L745.5 637.3L746.2 639.8L746.9 638.0L747.6 639.8L748.3 637.4L749.0 637.7L749.7 638.5L750.4 637.4L751.1 637.5L751.8 639.3L752.5 639.6L753.2 640.3L753.9 639.1L754.6 637.9L755.3 638.4L756.0 638.8L756.7 638.9L757.4 640.1L758.1 638.8L758.8 640.3L759.5 638.5L760.2 638.3L760.9 636.8L761.6 637.9L762.3 638.5L763.0 636.7L763.7 638.4L764.4 637.1L765.1 637.7L765.8 640.1L766.5 640.2L767.2 637.2L767.9 639.0L768.6 638.6L769.3 637.0L770.0 637.9L770.7 638.8L771.4 638.4L772.1 638.9L772.8 637.0L773.5 639.1L774.2 639.1L774.9 637.5L775.6 638.9L776.3 640.3L777.0 640.2L777.7 639.1L778.4 638.8L779.1 639.7L779.8 638.6L780.5 639.5L781.2 638.3L781.9 638.9L782.6 639.6L783.3 639.1L784.0 639.1L784.7 638.3L785.4 638.2L786.1 639.4L786.8 638.6L787.5 638.6L788.2 638.3L788.9 638.0L789.6 639.3L790.3 640.2L791.0 637.7L791.7 639.4L792.4 639.0L793.1 639.4L793.8 639.5L794.5 638.5L795.2 637.1L795.9 638.4L796.6 639.0L797.3 639.4L798.0 640.5L798.7 639.5L799.4 639.5L800.1 638.4L800.8 640.0L801.5 637.6L802.2 640.3L802.9 638.9L803.6 638.8L804.3 639.6L805.0 639.1L805.7 640.8L806.4 637.6L807.1 637.4L807.8 639.3L808.5 638.0L809.2 638.0L809.9 640.8L810.6 639.1L811.3 638.2L812.0 638.5L812.7 638.0L813.4 638.1L814.1 637.7L814.8 640.7L815.5 639.9L816.2 638.5L816.9 637.6L817.6 640.7L818.3 640.4L819.0 637.6L819.7 640.4L820.4 639.2L821.1 640.8L821.8 638.8L822.5 638.8L823.2 637.3L823.9 639.3L824.6 638.1L825.3 640.4L826.0 638.1L826.7 640.5L827.4 638.5L828.1 640.2L828.8 639.9L829.5 640.7L830.2 639.4L830.9 638.6L831.6 638.3L832.3 638.2L833.0 637.7L833.7 638.4L834.4 638.5L835.1 640.3L835.8 637.4L836.5 639.2L837.2 639.2L837.9 637.9L838.6 639.8L839.3 638.1L840.0 640.0L840.7 638.0L841.4 640.5L842.1 638.5L842.8 637.8L843.5 638.0L844.2 638.1L844.9 637.9L845.6 638.5L846.3 640.9L847.0 638.8L847.7 638.8L848.4 640.1L849.1 637.7L849.8 637.8L850.5 640.5L851.2 638.6L851.9 638.1L852.6 638.1L853.3 640.1L854.0 640.9L854.7 638.9L855.4 640.0L856.1 639.1L856.8 638.2L857.5 638.6L858.2 638.7L858.9 638.4L859.6 640.3L860.3 637.8L861.0 638.9L861.7 640.1L862.4 637.7L863.1 640.9L863.8 639.7L864.5 639.8L865.2 638.2L865.9 638.3L866.6 640.5L867.3 640.9L868.0 637.6L868.7 640.4L869.4 638.3L870.1 637.9L870.8 639.6L871.5 637.9L872.2 640.5L872.9 640.5L873.6 638.6L874.3 638.1L875.0 639.4L875.7 640.2L876.4 637.7L877.1 640.0L877.8 638.0L878.5 638.9L879.2 638.2L879.9 637.9L880.6 639.4L881.3 638.6L882.0 640.7L882.7 640.7L883.4 640.1L884.1 639.3L884.8 639.8L885.5 638.7L886.2 639.2L886.9 639.5L887.6 639.0L888.3 639.1L889.0 640.5L889.7 640.9L890.4 640.1L891.1 640.5L891.8 638.6L892.5 637.8L893.2 638.3L893.9 639.2L894.6 640.1L895.3 640.0L896.0 640.6L896.7 640.1L897.4 638.5L898.1 637.7L898.8 639.1L899.5 638.6L900.2 640.4L900.9 640.5L901.6 639.2L902.3 640.0L903.0 639.8L903.7 639.1L904.4 638.8L905.1 640.5L905.8 639.9L906.5 639.2L907.2 640.5L907.9 637.7L908.6 639.7L909.3 638.9L910.0 638.1L910.7 637.4L911.4 638.9L912.1 639.8L912.8 637.4L913.5 639.7L914.2 639.9L914.9 637.2L915.6 638.3L916.3 637.9L917.0 637.3L917.7 636.5L918.4 636.8L919.1 638.8L919.8 638.3L920.5 638.4L921.2 636.6L921.9 636.3L922.6 634.5L923.3 635.2L924.0 635.1L924.7 635.7L925.4 631.8L926.1 632.5L926.8 628.9L927.5 629.8L928.2 624.6L928.9 622.6L929.6 618.0L930.3 611.3L931.0 605.8L931.7 598.6L932.4 590.6L933.1 585.0L933.8 579.8L934.5 581.1L935.2 584.7L935.9 588.9L936.6 595.5L937.3 603.0L938.0 608.5L938.7 616.2L939.4 620.9L940.1 622.9L940.8 626.9L941.5 628.4L942.2 632.1L942.9 631.2L943.6 635.0L944.3 633.3L945.0 636.4L945.7 634.9L946.4 636.4L947.1 637.3L947.8 638.4L948.5 638.4L949.2 636.4L949.9 638.4L950.6 637.7L951.3 637.0L952.0 638.1L952.7 639.7L953.4 636.9L954.1 639.2L954.8 638.8L955.5 639.9L956.2 638.7L956.9 638.1L957.6 640.1L958.3 637.8L959.0 639.7L959.7 638.5L960.4 637.8L961.1 638.2L961.8 640.4L962.5 638.2L963.2 640.7L963.9 638.3L964.6 640.8L965.3 638.1L966.0 640.0L966.7 639.6L967.4 639.8L968.1 640.9L968.8 638.7L969.5 641.1L970.2 639.9L970.9 640.6L971.6 638.9L972.3 641.2L973.0 640.4L973.7 639.6L974.4 638.9L975.1 640.9L975.8 640.0L976.5 641.3L977.2 641.0L977.9 640.6L978.6 640.5L979.3 638.8L980.0 640.9L980.7 640.5L981.4 638.7L982.1 638.6L982.8 638.7L983.5 639.1L984.2 640.7L984.9 640.8L985.6 640.6L986.3 639.6L987.0 641.3L987.7 638.9L988.4 639.2L989.1 639.8L989.8 639.3L990.5 640.7L991.2 641.0L991.9 640.8L992.6 639.5L993.3 640.3L994.0 639.5L994.7 640.2L995.4 640.2L996.1 639.0L996.8 641.1L997.5 641.0L998.2 640.9L998.9 638.9L999.6 639.3L1000.3 640.9L1001.0 641.1L1001.7 640.5L1002.4 641.4L1003.1 639.9L1003.8 639.3L1004.5 640.1L1005.2 639.6L1005.9 639.8L1006.6 641.0L1007.3 639.7L1008.0 640.8L1008.7 640.5L1009.4 638.8L1010.1 640.2L1010.8 641.3L1011.5 640.7L1012.2 641.3L1012.9 640.7L1013.6 641.7L1014.3 638.9L1015.0 640.0L1015.7 639.4L1016.4 641.0L1017.1 639.7L1017.8 640.8L1018.5 640.7L1019.2 638.8L1019.9 640.6L1020.6 639.8L1021.3 639.6L1022.0 640.7L1022.7 640.7L1023.4 639.5L1024.1 641.0L1024.8 639.0L1025.5 639.0L1026.2 641.5L1026.9 641.6L1027.6 641.7L1028.3 641.8L1029.0 641.1L1029.7 640.6L1030.4 640.5L1031.1 640.5L1031.8 641.7L1032.5 641.8L1033.2 640.2L1033.9 639.5L1034.6 640.5L1035.3 640.2L1036.0 641.3L1036.7 641.7L1037.4 640.8L1038.1 639.2L1038.8 640.5L1039.5 639.3L1040.2 640.5L1040.9 641.4L1041.6 641.0L1042.3 640.3L1043.0 639.4L1043.7 641.7L1044.4 641.6L1045.1 640.4L1045.8 639.1L1046.5 641.0L1047.2 640.2L1047.9 640.2L1048.6 640.1L1049.3 639.8L1050.0 639.4L1050.7 640.9L1051.4 640.5L1052.1 640.3L1052.8 641.2L1053.5 640.5L1054.2 639.5L1054.9 639.8L1055.6 640.7L1056.3 641.0L1057.0 640.9L1057.7 641.2L1058.4 640.1L1059.1 641.3L1059.8 640.8L1060.5 639.8L1061.2 639.4L1061.9 640.9L1062.6 641.6L1063.3 641.9L1064.0 641.5L1064.7 641.5L1065.4 640.8L1066.1 639.7L1066.8 639.9L1067.5 641.6L1068.2 639.8L1068.9 640.5L1069.6 640.7L1070.3 639.1L1071.0 639.3L1071.7 639.6L1072.4 641.4L1073.1 641.4L1073.8 639.3L1074.5 639.5L1075.2 642.0L1075.9 639.5L1076.6 641.4L1077.3 640.8L1078.0 641.6L1078.7 641.2L1079.4 639.3L1080.1 641.3L1080.8 641.2L1081.5 639.2L1082.2 641.9L1082.9 639.9L1083.6 640.4L1084.3 640.6L1085.0 640.7L1085.7 640.7L1086.4 639.2L1087.1 641.6L1087.8 640.6L1088.5 639.3L1089.2 640.5L1089.9 639.6L1090.6 640.3L1091.3 641.2L1092.0 641.3L1092.7 639.5L1093.4 639.9L1094.1 641.9L1094.8 640.9L1095.5 639.6L1096.2 640.9L1096.9 639.8L1097.6 639.3L1098.3 641.0L1099.0 639.4L1099.7 639.5L1100.4 641.1L1101.1 641.9L1101.8 639.2L1102.5 641.3L1103.2 639.5L1103.9 639.2L1104.6 639.1L1105.3 639.1L1106.0 641.2L1106.7 641.7L1107.4 639.1L1108.1 639.5L1108.8 639.2L1109.5 640.2L1110.2 640.0L1110.9 639.6L1111.6 641.5L1112.3 639.3L1113.0 640.9L1113.7 639.4L1114.4 641.0L1115.1 639.4L1115.8 639.6L1116.5 642.0L1117.2 639.8L1117.9 640.3L1118.6 641.0L1119.3 642.0L1120.0 640.6L1120.7 639.3L1121.4 641.0L1122.1 641.0L1122.8 640.7L1123.5 640.1L1124.2 641.4L1124.9 639.1L1125.6 640.6L1126.3 640.6L1127.0 641.7L1127.7 641.3L1128.4 639.6L1129.1 640.1L1129.8 640.7L1130.5 640.0L1131.2 639.1L1131.9 641.9L1132.6 640.2L1133.3 639.3L1134.0 639.3L1134.7 638.9L1135.4 641.6L1136.1 639.2L1136.8 640.5L1137.5 641.6L1138.2 641.1L1138.9 640.5L1139.6 639.6L1140.3 640.8L1141.0 641.2L1141.7 639.3L1142.4 639.4L1143.1 639.9L1143.8 640.5L1144.5 641.3L1145.2 640.4L1145.9 639.4L1146.6 640.8L1147.3 639.0L1148.0 638.9L1148.7 638.5L1149.4 640.2L1150.1 640.2L1150.8 639.8L1151.5 640.1L1152.2 638.9L1152.9 639.0L1153.6 640.0L1154.3 639.5L1155.0 639.7L1155.7 640.9L1156.4 639.5L1157.1 640.3L1157.8 638.2L1158.5 639.4L1159.2 638.0L1159.9 638.4L1160.6 638.3L1161.3 638.8L1162.0 638.1L1162.7 640.3L1163.4 638.3L1164.1 638.2L1164.8 637.4L1165.5 638.1L1166.2 639.3L1166.9 638.4L1167.6 639.3L1168.3 638.3L1169.0 638.2L1169.7 637.3L1170.4 638.3L1171.1 636.9L1171.8 635.6L1172.5 635.6L1173.2 636.9L1173.9 634.2L1174.6 634.0L1175.3 634.7L1176.0 634.0L1176.7 632.4L1177.4 631.7L1178.1 629.4L1178.8 627.9L1179.5 623.9L1180.2 622.1L1180.9 620.2L1181.6 614.8L1182.3 609.2L1183.0 604.4L1183.7 599.2L1184.4 590.7L1185.1 583.2L1185.8 576.8L1186.5 569.4L1187.2 560.6L1187.9 556.0L1188.6 550.6L1189.3 548.5L1190.0 550.1L1190.7 551.3L1191.4 557.5L1192.1 562.3L1192.8 570.5L1193.5 575.9L1194.2 584.3L1194.9 590.5L1195.6 599.8L1196.3 606.1L1197.0 610.4L1197.7 615.2L1198.4 620.8L1199.1 622.5L1199.8 625.1L1200.5 626.9L1201.2 631.2L1201.9 632.4L1202.6 632.8L1203.3 634.4L1204.0 635.5L1204.7 635.6L1205.4 634.5L1206.1 636.6L1206.8 637.6L1207.5 636.8L1208.2 636.9L1208.9 637.8L1209.6 636.7L1210.3 637.0L1211.0 638.6L1211.7 639.7L1212.4 637.2L1213.1 639.0L1213.8 638.7L1214.5 637.4L1215.2 637.9L1215.9 638.4L1216.6 639.7L1217.3 638.1L1218.0 638.9L1218.7 639.7L1219.4 640.2L1220.1 641.0L1220.8 640.6L1221.5 638.7L1222.2 639.9L1222.9 640.1L1223.6 640.0L1224.3 640.2L1225.0 639.6L1225.7 639.2L1226.4 640.5L1227.1 641.1L1227.8 640.6L1228.5 640.6L1229.2 641.5L1229.9 639.4L1230.6 640.4L1231.3 641.2L1232.0 640.7L1232.7 638.8L1233.4 640.3L1234.1 641.3L1234.8 639.5L1235.5 640.1L1236.2 641.8L1236.9 640.3L1237.6 640.6L1238.3 640.7L1239.0 641.5L1239.7 640.4L1240.4 641.7L1241.1 641.1L1241.8 640.2L1242.5 640.9L1243.2 640.0L1243.9 639.2L1244.6 640.5L1245.3 639.2L1246.0 640.0L1246.7 641.7L1247.4 642.0L1248.1 639.7L1248.8 639.7L1249.5 640.2L1250.2 640.5L1250.9 639.6L1251.6 641.6L1252.3 639.7L1253.0 640.8L1253.7 640.0L1254.4 641.2L1255.1 639.6L1255.8 640.7L1256.5 641.8L1257.2 639.3L1257.9 639.8L1258.6 639.5L1259.3 641.8L1260.0 641.3L1260.7 640.0L1261.4 642.0L1262.1 639.8L1262.8 640.8L1263.5 641.5L1264.2 641.1L1264.9 639.5L1265.6 639.5L1266.3 639.9L1267.0 642.2L1267.7 642.0L1268.4 640.2L1269.1 639.5L1269.8 641.2L1270.5 639.9L1271.2 642.0L1271.9 642.1L1272.6 641.7L1273.3 641.7L1274.0 641.7L1274.7 641.9L1275.4 640.5L1276.1 641.5L1276.8 639.4L1277.5 641.5L1278.2 640.7L1278.9 642.3L1279.6 641.7L1280.3 640.7L1281.0 641.5L1281.7 641.1L1282.4 641.2L1283.1 639.4L1283.8 640.1L1284.5 640.2L1285.2 641.5L1285.9 642.1L1286.6 641.3L1287.3 641.7L1288.0 641.3L1288.7 639.8L1289.4 640.1L1290.1 641.1L1290.8 641.6L1291.5 640.6L1292.2 641.5L1292.9 640.4L1293.6 640.3L1294.3 639.9L1295.0 640.6L1295.7 641.1L1296.4 639.7L1297.1 642.1L1297.8 639.4L1298.5 641.5L1299.2 640.4L1299.9 642.2L1300.6 640.2L1301.3 639.4L1302.0 641.4L1302.7 640.5L1303.4 641.8L1304.1 641.3L1304.8 640.6L1305.5 641.3L1306.2 641.3L1306.9 640.3L1307.6 639.9L1308.3 641.2L1309.0 641.0L1309.7 639.4L1310.4 639.7L1311.1 640.5L1311.8 639.5L1312.5 640.8L1313.2 640.4L1313.9 640.1L1314.6 641.4L1315.3 641.4L1316.0 639.3L1316.7 640.9L1317.4 642.1L1318.1 640.9L1318.8 642.0L1319.5 639.8L1320.2 639.7L1320.9 640.0L1321.6 639.7L1322.3 639.4L1323.0 639.7L1323.7 640.4L1324.4 641.3L1325.1 641.2L1325.8 638.9L1326.5 641.1L1327.2 640.7L1327.9 639.5L1328.6 638.7L1329.3 641.2L1330.0 639.0L1330.7 639.3L1331.4 639.4L1332.1 640.8L1332.8 641.2L1333.5 641.1L1334.2 640.8L1334.9 640.7L1335.6 639.5L1336.3 638.2L1337.0 638.7L1337.7 638.3L1338.4 638.1L1339.1 638.1L1339.8 638.5L1340.5 637.6L1341.2 638.2L1341.9 639.7L1342.6 637.7L1343.3 638.3L1344.0 639.1L1344.7 636.4L1345.4 638.3L1346.1 637.5L1346.8 635.7L1347.5 637.9L1348.2 637.2L1348.9 634.7L1349.6 636.8L1350.3 635.0L1351.0 634.4L1351.7 632.3L1352.4 630.6L1353.1 631.3L1353.8 629.7L1354.5 626.1L1355.2 623.2L1355.9 621.9L1356.6 617.6L1357.3 613.6L1358.0 610.5L1358.7 604.2L1359.4 597.0L1360.1 592.3L1360.8 585.6L1361.5 578.4L1362.2 573.2L1362.9 566.3L1363.6 562.8L1364.3 558.9L1365.0 559.8L1365.7 562.2L1366.4 566.9L1367.1 572.8L1367.8 578.0L1368.5 586.5L1369.2 591.3L1369.9 598.3L1370.6 605.1L1371.3 608.7L1372.0 614.2L1372.7 619.7L1373.4 622.9L1374.1 624.7L1374.8 626.4L1375.5 630.1L1376.2 632.1L1376.9 631.0L1377.6 633.1L1378.3 634.3L1379.0 635.5L1379.7 634.6L1380.4 637.0L1381.1 636.8L1381.8 637.7L1382.5 638.5L1383.2 638.0L1383.9 638.2L1384.6 637.4L1385.3 637.5L1386.0 638.0L1386.7 639.5L1387.4 639.0L1388.1 638.2L1388.8 640.2L1389.5 639.2L1390.2 640.7L1390.9 639.8L1391.6 640.2L1392.3 639.1L1393.0 641.1L1393.7 639.7L1394.4 640.3L1395.1 639.6L1395.8 640.0L1396.5 639.0L1397.2 639.7L1397.9 639.8L1398.6 640.9L1399.3 639.2L1400.0 639.3L1400.7 640.7L1401.4 640.3L1402.1 641.5L1402.8 639.0L1403.5 640.3L1404.2 641.5L1404.9 641.3L1405.6 640.1L1406.3 640.6L1407.0 640.3L1407.7 639.1L1408.4 639.4L1409.1 639.8L1409.8 641.8L1410.5 639.8L1411.2 640.1L1411.9 640.9L1412.6 641.3L1413.3 641.2L1414.0 640.2L1414.7 640.3L1415.4 639.3L1416.1 641.7L1416.8 640.4L1417.5 640.2L1418.2 639.9L1418.9 640.8L1419.6 639.8L1420.3 640.3L1421.0 639.7L1421.7 639.9L1422.4 640.9L1423.1 640.3L1423.8 639.7L1424.5 642.0L1425.2 639.5L1425.9 640.6L1426.6 640.2L1427.3 639.5L1428.0 640.2L1428.7 640.7L1429.4 641.4L1430.1 640.1L1430.8 640.5L1431.5 642.0L1432.2 641.2L1432.9 640.6L1433.6 639.9L1434.3 641.6L1435.0 642.1L1435.7 640.0L1436.4 641.8L1437.1 640.3L1437.8 640.6L1438.5 639.3L1439.2 639.9L1439.9 639.8L1440.6 639.7L1441.3 641.5L1442.0 641.9L1442.7 639.9L1443.4 641.3L1444.1 639.8L1444.8 640.6L1445.5 639.3L1446.2 641.4L1446.9 640.1L1447.6 640.3L1448.3 640.7L1449.0 639.8L1449.7 639.5L1450.4 639.9L1451.1 638.9L1451.8 638.9L1452.5 637.6L1453.2 636.7L1453.9 636.3L1454.6 637.9L1455.3 635.9L1456.0 633.3L1456.7 632.8L1457.4 632.9L1458.1 631.6L1458.8 631.8L1459.5 630.4L1460.2 626.8L1460.9 628.0L1461.6 627.7L1462.3 626.5L1463.0 626.9L1463.7 625.3L1464.4 626.6L1465.1 627.5L1465.8 628.8L1466.5 629.6L1467.2 631.1L1467.9 630.8L1468.6 633.2L1469.3 633.7L1470.0 635.7L1470.7 634.6L1471.4 636.3L1472.1 637.6L1472.8 637.9L1473.5 638.1L1474.2 636.8L1474.9 637.1L1475.6 637.8L1476.3 639.0L1477.0 637.3L1477.7 639.2L1478.4 637.6L1479.1 637.9L1479.8 638.1L1480.5 638.9L1481.2 639.4L1481.9 640.0L1482.6 637.8L1483.3 637.3L1484.0 639.5L1484.7 638.6L1485.4 639.4L1486.1 638.6L1486.8 636.7L1487.5 637.2L1488.2 636.5L1488.9 637.0L1489.6 636.2L1490.3 637.5L1491.0 637.2L1491.7 634.6L1492.4 636.4L1493.1 635.6L1493.8 633.0L1494.5 633.4L1495.2 632.4L1495.9 630.3L1496.6 627.4L1497.3 626.2L1498.0 624.2L1498.7 620.2L1499.4 617.5L1500.1 612.8L1500.8 609.2L1501.5 607.0L1502.2 601.2L1502.9 597.8L1503.6 592.6L1504.3 589.2L1505.0 584.3L1505.7 580.8L1506.4 580.8L1507.1 579.0L1507.8 579.7L1508.5 582.5L1509.2 585.7L1509.9 590.7L1510.6 594.3L1511.3 598.0L1512.0 602.4L1512.7 607.1L1513.4 609.7L1514.1 613.8L1514.8 618.0L1515.5 621.9L1516.2 623.5L1516.9 624.5L1517.6 628.6L1518.3 629.6L1519.0 629.2L1519.7 630.6L1520.4 630.4L1521.1 633.2L1521.8 632.0L1522.5 634.1L1523.2 633.9L1523.9 634.1L1524.6 633.3L1525.3 632.0L1526.0 631.0L1526.7 632.1L1527.4 629.6L1528.1 630.2L1528.8 629.9L1529.5 626.8L1530.2 626.3L1530.9 625.0L1531.6 622.1L1532.3 620.4L1533.0 619.6L1533.7 616.3L1534.4 614.2L1535.1 612.5L1535.8 613.0L1536.5 611.6L1537.2 608.4L1537.9 609.5L1538.6 609.3L1539.3 608.9L1540.0 610.9L1540.7 613.8L1541.4 613.9L1542.1 618.8L1542.8 619.0L1543.5 621.3L1544.2 625.2L1544.9 624.7L1545.6 626.5L1546.3 629.2L1547.0 630.2L1547.7 631.5L1548.4 633.5L1549.1 635.6L1549.8 634.9L1550.5 634.5L1551.2 636.2L1551.9 638.2L1552.6 637.4L1553.3 636.7L1554.0 637.6L1554.7 637.8L1555.4 638.4L1556.1 638.6L1556.8 639.8L1557.5 640.1L1558.2 638.3L1558.9 638.7L1559.6 640.9L1560.3 641.1L1561.0 641.0L1561.7 639.2L1562.4 640.9L1563.1 639.1L1563.8 641.0L1564.5 639.7L1565.2 641.6L1565.9 641.7L1566.6 640.6L1567.3 641.4L1568.0 642.2L1568.7 642.1L1569.4 641.4L1570.1 641.3L1570.8 640.6L1571.5 641.6L1572.2 640.0L1572.9 641.0L1573.6 639.9L1574.3 640.0L1575.0 641.7L1575.7 641.0L1576.4 640.4L1577.1 642.7L1577.8 640.7L1578.5 641.5L1579.2 641.4L1579.9 640.5L1580.6 642.9L1581.3 642.2L1582.0 642.6L1582.7 640.9L1583.4 642.7L1584.1 642.8L1584.8 642.9L1585.5 640.6L1586.2 640.5L1586.9 640.3L1587.6 640.4L1588.3 642.2L1589.0 640.3L1589.7 641.5L1590.4 641.2L1591.1 642.4L1591.8 640.3L1592.5 642.4L1593.2 643.1L1593.9 641.1L1594.6 641.4L1595.3 642.5L1596.0 641.2L1596.7 642.8L1597.4 643.3L1598.1 640.9L1598.8 641.7L1599.5 640.7L1600.2 642.0L1600.9 641.5L1601.6 643.2L1602.3 642.5L1603.0 643.3L1603.7 642.8L1604.4 642.8L1605.1 641.5L1605.8 642.3L1606.5 640.7L1607.2 641.4L1607.9 643.1L1608.6 643.3L1609.3 640.9L1610.0 641.9L1610.7 641.6L1611.4 642.2L1612.1 642.2L1612.8 641.2L1613.5 643.0L1614.2 641.7L1614.9 642.7L1615.6 642.5L1616.3 643.3L1617.0 641.9L1617.7 642.1L1618.4 642.6L1619.1 641.0L1619.8 640.4L1620.5 642.7L1621.2 642.3L1621.9 642.4L1622.6 642.4L1623.3 640.5L1624.0 642.4L1624.7 641.6L1625.4 642.3L1626.1 640.9L1626.8 641.6L1627.5 638.9L1628.2 638.9L1628.9 639.7L1629.6 639.6L1630.3 638.4L1631.0 637.0L1631.7 639.0L1632.4 636.2L1633.1 638.2L1633.8 635.9L1634.5 637.1L1635.2 636.6L1635.9 635.5L1636.6 635.8L1637.3 635.7L1638.0 636.8L1638.7 636.3L1639.4 637.5L1640.1 637.1L1640.8 637.1L1641.5 639.2L1642.2 638.4L1642.9 640.8L1643.6 639.6L1644.3 639.5L1645.0 641.2L1645.7 642.0L1646.4 640.7L1647.1 641.9L1647.8 640.9L1648.5 643.0L1649.2 641.1L1649.9 640.4L1650.6 640.4L1651.3 642.0L1652.0 642.3L1652.7 641.4L1653.4 641.8L1654.1 641.8L1654.8 641.7L1655.5 641.2L1656.2 642.3L1656.9 642.6L1657.6 640.7L1658.3 643.3L1659.0 641.5L1659.7 642.1L1660.4 641.3L1661.1 642.7L1661.8 641.9L1662.5 642.5L1663.2 642.0L1663.9 642.3L1664.6 641.0L1665.3 643.7L1666.0 642.1L1666.7 641.8L1667.4 643.3L1668.1 641.7L1668.8 643.2L1669.5 642.1L1670.2 641.2L1670.9 642.5L1671.6 641.7L1672.3 641.4L1673.0 643.8L1673.7 643.6L1674.4 642.3L1675.1 643.3L1675.8 642.9L1676.5 641.8L1677.2 641.2L1677.9 642.6L1678.6 641.4L1679.3 643.1L1680.0 642.7L1680.7 641.5L1681.4 643.2L1682.1 643.8L1682.8 642.3L1683.5 643.8L1684.2 642.2L1684.9 641.0L1685.6 642.3L1686.3 642.0L1687.0 643.7L1687.7 642.5L1688.4 643.8L1689.1 641.4L1689.8 642.1L1690.5 641.0L1691.2 641.1L1691.9 643.1L1692.6 641.0L1693.3 641.6L1694.0 642.2L1694.7 643.7L1695.4 641.7L1696.1 641.0L1696.8 643.1L1697.5 643.0L1698.2 641.4L1698.9 643.7L1699.6 643.6L1700.3 643.8L1701.0 643.4L1701.7 642.6L1702.4 643.1L1703.1 641.3L1703.8 642.9L1704.5 642.0L1705.2 642.0L1705.9 641.9L1706.6 641.2L1707.3 643.4L1708.0 643.3L1708.7 641.0L1709.4 642.5L1710.1 641.1L1710.8 642.6L1711.5 641.5L1712.2 643.9L1712.9 641.9L1713.6 642.6L1714.3 641.8L1715.0 643.7L1715.7 641.0L1716.4 641.9L1717.1 641.7L1717.8 643.2L1718.5 642.1L1719.2 643.6L1719.9 642.0L1720.6 641.4L1721.3 642.4L1722.0 641.3L1722.7 641.4L1723.4 642.6L1724.1 642.7L1724.8 641.6L1725.5 641.5L1726.2 642.5L1726.9 642.3L1727.6 642.4L1728.3 643.0L1729.0 641.4L1729.7 641.0L1730.4 641.2L1731.1 643.3L1731.8 643.1L1732.5 641.4L1733.2 641.9L1733.9 641.9L1734.6 643.7L1735.3 642.2L1736.0 643.1L1736.7 641.2L1737.4 641.0L1738.1 641.6L1738.8 642.8L1739.5 642.2L1740.2 643.4L1740.9 643.2L1741.6 642.7L1742.3 643.7L1743.0 643.5L1743.7 643.2L1744.4 640.7L1745.1 641.6L1745.8 640.7L1746.5 641.9L1747.2 641.4L1747.9 639.9L1748.6 639.6L1749.3 640.4L1750.0 640.5L1750.7 639.4L1751.4 639.1L1752.1 639.1L1752.8 638.7L1753.5 638.2L1754.2 636.6L1754.9 635.3L1755.6 636.7L1756.3 633.6L1757.0 633.6L1757.7 633.1L1758.4 633.9L1759.1 633.7L1759.8 632.1L1760.5 633.3L1761.2 633.7L1761.9 634.3L1762.6 632.9L1763.3 635.4L1764.0 634.6L1764.7 635.6L1765.4 635.4L1766.1 638.2L1766.8 638.2L1767.5 639.4L1768.2 639.0L1768.9 638.3L1769.6 639.7L1770.3 639.1L1771.0 639.5L1771.7 642.0L1772.4 639.8L1773.1 641.2L1773.8 640.4L1774.5 642.7L1775.2 643.5L1775.9 640.7L1776.6 641.8L1777.3 643.7L1778.0 641.6L1778.7 641.8L1779.4 643.9L1780.1 643.7L1780.8 642.1L1781.5 643.0L1782.2 643.4L1782.9 642.1L1783.6 641.1L1784.3 642.2L1785.0 643.2L1785.7 644.0L1786.4 642.4L1787.1 642.4L1787.8 642.3L1788.5 643.0L1789.2 641.2L1789.9 643.9L1790.6 644.0L1791.3 641.3L1792.0 641.2L1792.7 642.1L1793.4 641.7L1794.1 643.5L1794.8 643.8L1795.5 642.9L1796.2 644.1L1796.9 641.9L1797.6 641.8L1798.3 642.4L1799.0 642.6L1799.7 641.9L1800.4 644.0L1801.1 643.5L1801.8 642.1L1802.5 642.0L1803.2 642.1L1803.9 642.5L1804.6 643.2L1805.3 643.6L1806.0 644.1L1806.7 641.5L1807.4 641.9L1808.1 642.5L1808.8 644.2L1809.5 642.7L1810.2 643.5L1810.9 643.8L1811.6 642.7L1812.3 642.5L1813.0 643.6L1813.7 643.2L1814.4 644.3L1815.1 642.1L1815.8 644.2L1816.5 642.8L1817.2 643.9L1817.9 643.2L1818.6 643.0L1819.3 643.9L1820.0 641.6L1820.7 642.2L1821.4 642.8L1822.1 643.8L1822.8 641.9L1823.5 643.7L1824.2 641.6L1824.9 642.4L1825.6 642.7L1826.3 643.5L1827.0 642.9L1827.7 643.9L1828.4 643.4L1829.1 642.5L1829.8 642.9L1830.5 642.5L1831.2 643.9L1831.9 642.2L1832.6 641.9L1833.3 642.1L1834.0 642.1L1834.7 643.8L1835.4 643.4L1836.1 642.1L1836.8 642.6L1837.5 644.0L1838.2 644.2L1838.9 642.0L1839.6 644.2L1840.3 641.5L1841.0 644.3L1841.7 642.3L1842.4 644.2L1843.1 641.4L1843.8 643.4L1844.5 644.1L1845.2 643.8L1845.9 643.0L1846.6 641.8L1847.3 642.0L1848.0 644.1L1848.7 643.9L1849.4 642.0L1850.1 642.3L1850.8 643.1L1851.5 642.2L1852.2 641.9L1852.9 643.9L1853.6 641.6L1854.3 643.2L1855.0 642.5L1855.7 642.7L1856.4 643.9L1857.1 643.5L1857.8 643.6L1858.5 641.3L1859.2 643.7L1859.9 643.6L1860.6 641.2L1861.3 641.9L1862.0 643.4L1862.7 643.8L1863.4 642.8L1864.1 643.8L1864.8 641.4L1865.5 641.9L1866.2 643.5L1866.9 643.4L1867.6 641.6L1868.3 642.6L1869.0 642.1L1869.7 642.9L1870.4 641.8L1871.1 641.5L1871.8 642.6L1872.5 642.3L1873.2 641.1L1873.9 641.9L1874.6 640.3L1875.3 640.8L1876.0 639.6L1876.7 639.7L1877.4 639.7L1878.1 638.3L1878.8 638.7L1879.5 638.5L1880.2 638.1L1880.9 638.3L1881.6 639.2L1882.3 638.8L1883.0 636.9L1883.7 636.3L1884.4 636.0L1885.1 638.4L1885.8 638.1L1886.5 638.1L1887.2 638.8L1887.9 637.5L1888.6 637.1L1889.3 637.1L1890.0 638.4L1890.7 639.8L1891.4 638.1L1892.1 639.5L1892.8 638.7L1893.5 639.4L1894.2 640.8L1894.9 641.3L1895.6 642.5L1896.3 640.8L1897.0 640.8L1897.7 640.4L1898.4 641.0L1899.1 640.6L1899.8 640.7L1900.5 641.1L1901.2 642.5L1901.9 642.3L1902.6 643.7L1903.3 642.5L1904.0 641.3L1904.7 641.6L1905.4 643.3L1906.1 644.1L1906.8 643.4L1907.5 641.9L1908.2 642.3L1908.9 642.6L1909.6 642.6L1910.3 642.1L1911.0 641.7L1911.7 641.4L1912.4 643.9L1913.1 644.2L1913.8 644.2L1914.5 642.4L1915.2 643.4L1915.9 641.9L1916.6 641.7L1917.3 641.3L1918.0 642.3L1918.7 643.7L1919.4 642.9L1920.1 642.0L1920.8 642.8L1921.5 643.0L1922.2 641.9L1922.9 642.7L1923.6 644.1L1924.3 642.7L1925.0 644.3L1925.7 643.5L1926.4 641.8L1927.1 644.1L1927.8 643.4L1928.5 642.7L1929.2 641.9L1929.9 643.4L1930.6 641.9L1931.3 642.8L1932.0 641.8L1932.7 642.6L1933.4 644.3L1934.1 643.2L1934.8 642.9L1935.5 643.2L1936.2 643.4L1936.9 643.2L1937.6 642.2L1938.3 642.0L1939.0 643.2L1939.7 644.2L1940.4 644.0L1941.1 642.9L1941.8 642.3L1942.5 643.2L1943.2 641.5L1943.9 642.9L1944.6 643.8L1945.3 644.3L1946.0 641.7L1946.7 642.0L1947.4 642.8L1948.1 643.2L1948.8 644.3L1949.5 641.7L1950.2 641.8L1950.9 642.9L1951.6 643.8L1952.3 641.5L1953.0 642.6L1953.7 643.5L1954.4 642.7L1955.1 642.0L1955.8 641.6L1956.5 643.7L1957.2 642.9L1957.9 643.0L1958.6 643.5L1959.3 643.7L1960.0 642.6L1960.7 642.5L1961.4 644.2L1962.1 641.6L1962.8 643.8L1963.5 642.8L1964.2 643.0L1964.9 642.2L1965.6 644.3L1966.3 642.3L1967.0 642.4L1967.7 641.6L1968.4 644.1L1969.1 643.9L1969.8 641.6L1970.5 641.9L1971.2 642.3L1971.9 641.5L1972.6 642.9L1973.3 644.0L1974.0 643.6L1974.7 642.9L1975.4 644.4L1976.1 642.3L1976.8 642.4L1977.5 642.2L1978.2 643.2L1978.9 642.8L1979.6 641.8L1980.3 642.9L1981.0 644.3L1981.7 644.1L1982.4 643.3L1983.1 644.0L1983.8 642.9L1984.5 642.9L1985.2 643.5L1985.9 642.0L1986.6 643.2L1987.3 642.9L1988.0 642.3L1988.7 642.9L1989.4 642.0L1990.1 643.4L1990.8 641.8L1991.5 642.8L1992.2 641.6L1992.9 643.1L1993.6 641.7L1994.3 643.9L1995.0 641.5L1995.7 643.9L1996.4 642.3L1997.1 644.3L1997.8 642.4L1998.5 641.9L1999.2 643.4L1999.9 642.2L2000.6 643.9L2001.3 642.9L2002.0 642.2L2002.7 643.2L2003.4 642.1L2004.1 642.2L2004.8 641.7L2005.5 642.2L2006.2 642.1L2006.9 641.9L2007.6 642.7L2008.3 642.8L2009.0 643.2L2009.7 643.1L2010.4 643.5L2011.1 643.3L2011.8 642.9L2012.5 644.0L2013.2 641.9L2013.9 642.3L2014.6 641.5L2015.3 644.2L2016.0 644.1L2016.7 642.7L2017.4 644.0L2018.1 643.1L2018.8 644.2L2019.5 644.1L2020.2 642.4L2020.9 642.3L2021.6 642.7L2022.3 644.3L2023.0 642.8L2023.7 642.5L2024.4 641.5L2025.1 642.6L2025.8 644.2L2026.5 642.7L2027.2 643.8L2027.9 644.1L2028.6 644.3L2029.3 643.6L2030.0 642.9L2030.7 642.3L2031.4 644.3L2032.1 643.9L2032.8 643.7L2033.5 641.6L2034.2 643.4L2034.9 643.5L2035.6 641.8L2036.3 642.4L2037.0 642.8L2037.7 642.2L2038.4 641.8L2039.1 641.9L2039.8 642.8L2040.5 641.5L2041.2 643.8L2041.9 642.7L2042.6 642.3L2043.3 642.2L2044.0 642.4L2044.7 643.2L2045.4 643.6L2046.1 642.7L2046.8 643.6L2047.5 643.2L2048.2 643.9L2048.9 643.6L2049.6 643.7L2050.3 641.5L2051.0 642.5L2051.7 641.8L2052.4 643.9L2053.1 641.9L2053.8 644.2L2054.5 642.5L2055.2 641.9L2055.9 643.5L2056.6 642.0L2057.3 642.5L2058.0 642.7L2058.7 643.3L2059.4 643.0L2060.1 643.4L2060.8 643.8L2061.5 644.3L2062.2 643.3L2062.9 642.7L2063.6 642.9L2064.3 642.5L2065.0 643.9L2065.7 643.1L2066.4 643.5L2067.1 643.9L2067.8 643.5L2068.5 644.1L2069.2 642.8L2069.9 643.5L2070.6 644.1L2071.3 642.9L2072.0 643.9L2072.7 642.2L2073.4 641.9L2074.1 644.0L2074.8 643.0L2075.5 644.3L2076.2 643.2L2076.9 642.2L2077.6 641.7L2078.3 644.1L2079.0 642.1L2079.7 641.9L2080.4 642.9L2081.1 643.5L2081.8 643.1L2082.5 641.5L2083.2 643.7L2083.9 643.4L2084.6 642.3L2085.3 644.1L2086.0 642.8L2086.7 643.6L2087.4 641.6L2088.1 642.2L2088.8 643.6L2089.5 643.3L2090.2 643.4L2090.9 643.3L2091.6 641.3L2092.3 643.8L2093.0 641.3L2093.7 641.9L2094.4 642.1L2095.1 642.7L2095.8 641.4L2096.5 642.4L2097.2 641.5L2097.9 642.1L2098.6 642.1L2099.3 641.3L2100.0 643.3L2100.7 640.9L2101.4 641.4L2102.1 643.3L2102.8 641.7L2103.5 643.2L2104.2 641.0L2104.9 641.3L2105.6 641.0L2106.3 640.2L2107.0 641.4L2107.7 639.0L2108.4 639.4L2109.1 637.7L2109.8 636.2L2110.5 636.7L2111.2 635.8L2111.9 631.9L2112.6 632.5L2113.3 631.8L2114.0 630.1L2114.7 629.0L2115.4 629.3L2116.1 627.3L2116.8 628.2L2117.5 627.7L2118.2 630.2L2118.9 630.8L2119.6 630.6L2120.3 632.9L2121.0 633.3L2121.7 634.8L2122.4 634.7L2123.1 637.3L2123.8 638.0L2124.5 639.9L2125.2 638.5L2125.9 639.5L2126.6 641.2L2127.3 640.1L2128.0 642.0" fill="none" stroke="#008000" stroke-width="12.5" stroke-linejoin="round" stroke-linecap="butt"/>
</g><g clip-path="url(#co)">
<path d="M165.0 307.4L166.6 301.7L168.2 306.5L169.8 302.8L171.4 302.7L173.0 303.4L174.6 307.0L176.2 305.9L177.8 303.8L179.4 306.3L181.0 307.4L182.6 302.3L184.2 307.9L185.8 305.0L187.4 306.0L189.0 308.0L190.6 302.6L192.2 304.7L193.8 306.8L195.4 301.0L197.0 304.2L198.6 305.5L200.2 304.8L201.8 305.4L203.4 308.2L205.0 302.2L206.6 307.4L208.2 303.9L209.8 302.3L211.4 305.6L213.0 302.9L214.6 305.7L216.2 303.4L217.8 305.8L219.4 303.3L221.0 310.5L222.6 304.0L224.2 305.9L225.8 307.3L227.4 307.9L229.0 303.3L230.6 309.4L232.2 305.4L233.8 303.0L235.4 305.8L237.0 307.4L238.6 305.2L240.2 308.2L241.8 304.6L243.4 308.7L245.0 309.6L246.6 308.4L248.2 301.9L249.8 304.7L251.4 305.4L253.0 303.9L254.6 301.9L256.2 305.0L257.8 300.7L259.4 300.8L261.0 302.5L262.6 307.0L264.2 301.4L265.8 305.9L267.4 302.9L269.0 302.2L270.6 303.9L272.2 300.6L273.8 301.3L275.4 298.4L277.0 300.3L278.6 300.1L280.2 291.8L281.8 298.6L283.4 289.9L285.0 293.8L286.6 287.8L288.2 292.2L289.8 288.0L291.4 284.1L293.0 288.4L294.6 281.8L296.2 285.7L297.8 279.7L299.4 279.4L301.0 276.6L302.6 277.4L304.2 272.1L305.8 271.5L307.4 267.1L309.0 266.1L310.6 262.3L312.2 261.7L313.8 259.9L315.4 261.5L317.0 255.0L318.6 253.1L320.2 258.0L321.8 253.2L323.4 246.4L325.0 250.9L326.6 247.9L328.2 244.5L329.8 245.3L331.4 239.6L333.0 234.1L334.6 230.9L336.2 229.3L337.8 230.2L339.4 228.6L341.0 228.7L342.6 220.1L344.2 218.0L345.8 216.3L347.4 216.8L349.0 220.0L350.6 217.1L352.2 209.4L353.8 212.7L355.4 208.0L357.0 207.3L358.6 207.2L360.2 205.7L361.8 205.5L363.4 204.4L365.0 205.0L366.6 206.7L368.2 206.2L369.8 207.3L371.4 203.2L373.0 200.9L374.6 205.2L376.2 202.9L377.8 202.0L379.4 203.7L381.0 208.2L382.6 205.4L384.2 206.5L385.8 201.0L387.4 205.4L389.0 206.9L390.6 208.7L392.2 208.2L393.8 202.7L395.4 211.2L397.0 203.7L398.6 210.8L400.2 209.1L401.8 213.9L403.4 215.1L405.0 214.5L406.6 210.2L408.2 216.3L409.8 213.4L411.4 217.6L413.0 216.9L414.6 220.2L416.2 220.0L417.8 226.0L419.4 224.0L421.0 227.1L422.6 233.4L424.2 231.2L425.8 235.5L427.4 239.8L429.0 239.8L430.6 243.2L432.2 246.1L433.8 242.2L435.4 243.7L437.0 252.4L438.6 253.7L440.2 250.6L441.8 257.6L443.4 252.4L445.0 255.4L446.6 262.5L448.2 257.9L449.8 266.0L451.4 262.4L453.0 268.7L454.6 264.9L456.2 269.7L457.8 271.9L459.4 273.4L461.0 277.5L462.6 272.1L464.2 279.3L465.8 282.0L467.4 280.6L469.0 279.7L470.6 285.8L472.2 284.1L473.8 284.1L475.4 289.7L477.0 291.0L478.6 292.7L480.2 291.1L481.8 288.2L483.4 289.3L485.0 294.7L486.6 291.4L488.2 297.2L489.8 294.0L491.4 300.2L493.0 294.7L494.6 301.2L496.2 298.1L497.8 305.5L499.4 301.9L501.0 303.1L502.6 306.7L504.2 302.8L505.8 309.3L507.4 304.4L509.0 303.0L510.6 305.8L512.2 307.3L513.8 309.9L515.4 306.2L517.0 313.9L518.6 313.5L520.2 313.8L521.8 316.5L523.4 309.2L525.0 315.1L526.6 317.0L528.2 311.9L529.8 314.4L531.4 313.1L533.0 319.6L534.6 316.4L536.2 319.8L537.8 315.5L539.4 318.9L541.0 320.5L542.6 317.7L544.2 317.6L545.8 316.6L547.4 321.4L549.0 320.1L550.6 318.9L552.2 320.2L553.8 320.7L555.4 319.6L557.0 323.6L558.6 320.6L560.2 321.5L561.8 323.0L563.4 328.2L565.0 326.4L566.6 322.9L568.2 328.1L569.8 329.1L571.4 324.8L573.0 328.6L574.6 327.6L576.2 327.3L577.8 330.2L579.4 328.7L581.0 328.8L582.6 331.2L584.2 327.8L585.8 325.5L587.4 325.0L589.0 330.5L590.6 328.9L592.2 332.0L593.8 332.9L595.4 327.9L597.0 327.7L598.6 330.6L600.2 326.9L601.8 327.6L603.4 327.6L605.0 329.4L606.6 330.6L608.2 329.0L609.8 332.7L611.4 333.4L613.0 334.1L614.6 332.3L616.2 333.9L617.8 334.4L619.4 334.2L621.0 331.6L622.6 333.6L624.2 335.5L625.8 331.8L627.4 332.8L629.0 330.7L630.6 334.9L632.2 331.9L633.8 334.3L635.4 332.8L637.0 332.6L638.6 337.9L640.2 334.4L641.8 338.7L643.4 337.5L645.0 336.7L646.6 336.2L648.2 337.5L649.8 338.7L651.4 334.9L653.0 337.3L654.6 335.8L656.2 335.5L657.8 335.9L659.4 339.6L661.0 340.7L662.6 337.7L664.2 336.3L665.8 336.5L667.4 337.5L669.0 338.0L670.6 341.3L672.2 339.3L673.8 339.2L675.4 340.1L677.0 337.6L678.6 338.9L680.2 339.4L681.8 337.3L683.4 338.8L685.0 340.5L686.6 340.7L688.2 338.9L689.8 337.8L691.4 340.8L693.0 338.5L694.6 337.7L696.2 343.2L697.8 342.0L699.4 343.2L701.0 339.7L702.6 342.3L704.2 342.8L705.8 341.6L707.4 338.3L709.0 339.7L710.6 340.3L712.2 340.6L713.8 341.4L715.4 339.3L717.0 339.5L718.6 338.3L720.2 340.5L721.8 338.9L723.4 339.5L725.0 338.3L726.6 342.9L728.2 339.4L729.8 340.9L731.4 341.3L733.0 338.3L734.6 341.1L736.2 342.4L737.8 339.2L739.4 341.4L741.0 341.8L742.6 340.9L744.2 339.7L745.8 340.5L747.4 341.3L749.0 339.9L750.6 341.5L752.2 341.5L753.8 341.4L755.4 339.5L757.0 337.8L758.6 337.9L760.2 338.4L761.8 339.8L763.4 336.8L765.0 338.1L766.6 337.0L768.2 339.0L769.8 336.9L771.4 340.2L773.0 335.8L774.6 337.2L776.2 339.1L777.8 339.4L779.4 336.6L781.0 339.5L782.6 338.8L784.2 336.8L785.8 335.2L787.4 334.1L789.0 336.5L790.6 332.7L792.2 335.6L793.8 332.9L795.4 332.3L797.0 334.3L798.6 332.7L800.2 330.4L801.8 330.5L803.4 333.6L805.0 330.9L806.6 332.6L808.2 331.2L809.8 327.3L811.4 328.7L813.0 329.6L814.6 327.1L816.2 325.9L817.8 330.2L819.4 325.9L821.0 327.3L822.6 325.6L824.2 328.1L825.8 323.3L827.4 321.7L829.0 324.7L830.6 324.4L832.2 324.7L833.8 320.1L835.4 319.9L837.0 321.1L838.6 319.5L840.2 318.1L841.8 317.7L843.4 316.6L845.0 318.3L846.6 316.2L848.2 315.1L849.8 315.0L851.4 318.0L853.0 317.2L854.6 315.1L856.2 317.2L857.8 312.5L859.4 314.2L861.0 316.7L862.6 311.3L864.2 311.5L865.8 312.9L867.4 311.8L869.0 309.9L870.6 313.8L872.2 313.2L873.8 311.7L875.4 310.4L877.0 310.8L878.6 310.2L880.2 310.2L881.8 308.5L883.4 311.0L885.0 309.0L886.6 307.1L888.2 308.8L889.8 309.6L891.4 307.8L893.0 306.6L894.6 307.6L896.2 308.2L897.8 305.1L899.4 308.9L901.0 306.1L902.6 306.1L904.2 306.6L905.8 308.0L907.4 304.8L909.0 305.0L910.6 306.9L912.2 304.5L913.8 307.1L915.4 305.6L917.0 306.2L918.6 307.4L920.2 310.7L921.8 309.4L923.4 307.9L925.0 310.2L926.6 309.8L928.2 307.3L929.8 310.2L931.4 312.1L933.0 313.1L934.6 314.4L936.2 309.6L937.8 312.9L939.4 312.7L941.0 313.7L942.6 316.4L944.2 314.9L945.8 316.1L947.4 318.0L949.0 319.2L950.6 318.3L952.2 318.6L953.8 316.8L955.4 318.9L957.0 318.4L958.6 322.2L960.2 322.2L961.8 319.7L963.4 322.7L965.0 324.8L966.6 325.1L968.2 323.0L969.8 323.4L971.4 324.7L973.0 324.6L974.6 328.1L976.2 327.9L977.8 328.5L979.4 329.5L981.0 324.9L982.6 330.0L984.2 327.1L985.8 327.0L987.4 329.3L989.0 328.5L990.6 327.8L992.2 332.4L993.8 328.4L995.4 328.2L997.0 330.2L998.6 333.0L1000.2 333.2L1001.8 331.5L1003.4 331.5L1005.0 330.3L1006.6 334.2L1008.2 334.2L1009.8 331.4L1011.4 334.2L1013.0 335.6L1014.6 332.8L1016.2 332.3L1017.8 335.3L1019.4 334.8L1021.0 333.6L1022.6 331.6L1024.2 333.5L1025.8 335.7L1027.4 332.9L1029.0 334.6L1030.6 336.3L1032.2 334.0L1033.8 332.8L1035.4 335.9L1037.0 335.9L1038.6 335.5L1040.2 337.2L1041.8 334.1L1043.4 334.9L1045.0 334.5L1046.6 336.7L1048.2 333.7L1049.8 333.2L1051.4 333.8L1053.0 336.3L1054.6 335.8L1056.2 332.6L1057.8 336.1L1059.4 337.0L1061.0 333.3L1062.6 335.7L1064.2 335.1L1065.8 334.5L1067.4 332.3L1069.0 330.9L1070.6 335.6L1072.2 332.5L1073.8 335.2L1075.4 335.2L1077.0 335.2L1078.6 334.4L1080.2 334.3L1081.8 334.7L1083.4 335.3L1085.0 335.1L1086.6 334.8L1088.2 331.6L1089.8 334.8L1091.4 330.1L1093.0 330.6L1094.6 334.3L1096.2 332.5L1097.8 334.7L1099.4 331.1L1101.0 329.6L1102.6 330.1L1104.2 334.2L1105.8 333.7L1107.4 331.6L1109.0 332.8L1110.6 329.4L1112.2 334.4L1113.8 330.8L1115.4 330.3L1117.0 331.9L1118.6 331.9L1120.2 332.0L1121.8 333.4L1123.4 330.5L1125.0 334.0L1126.6 331.5L1128.2 332.0L1129.8 335.0L1131.4 334.3L1133.0 334.5L1134.6 335.1L1136.2 333.4L1137.8 333.3L1139.4 334.6L1141.0 336.8L1142.6 333.4L1144.2 336.7L1145.8 335.8L1147.4 338.8L1149.0 337.9L1150.6 339.5L1152.2 337.0L1153.8 337.6L1155.4 336.8L1157.0 336.9L1158.6 337.9L1160.2 337.7L1161.8 340.3L1163.4 340.3L1165.0 341.6L1166.6 342.0L1168.2 343.6L1169.8 341.6L1171.4 342.4L1173.0 342.3L1174.6 342.4L1176.2 342.0L1177.8 342.2L1179.4 342.7L1181.0 344.0L1182.6 344.0L1184.2 344.9L1185.8 345.9L1187.4 347.9L1189.0 346.2L1190.6 348.6L1192.2 345.6L1193.8 347.4L1195.4 347.6L1197.0 347.3L1198.6 347.7L1200.2 347.0L1201.8 350.9L1203.4 346.9L1205.0 350.8L1206.6 349.6L1208.2 349.3L1209.8 349.5L1211.4 352.8L1213.0 350.3L1214.6 351.8L1216.2 351.4L1217.8 352.9L1219.4 352.7L1221.0 353.0L1222.6 351.4L1224.2 351.4L1225.8 354.5L1227.4 352.0L1229.0 354.6L1230.6 353.9L1232.2 356.2L1233.8 354.8L1235.4 353.9L1237.0 354.7L1238.6 355.8L1240.2 357.5L1241.8 358.1L1243.4 359.0L1245.0 359.8L1246.6 358.5L1248.2 356.7L1249.8 359.6L1251.4 358.6L1253.0 359.9L1254.6 358.5L1256.2 359.7L1257.8 359.4L1259.4 361.4L1261.0 362.7L1262.6 360.7L1264.2 361.5L1265.8 362.2L1267.4 362.9L1269.0 361.6L1270.6 361.5L1272.2 363.1L1273.8 362.0L1275.4 362.9L1277.0 363.6L1278.6 363.5L1280.2 365.2L1281.8 363.0L1283.4 362.7L1285.0 363.6L1286.6 365.5L1288.2 365.4L1289.8 362.8L1291.4 363.3L1293.0 363.7L1294.6 365.7L1296.2 365.5L1297.8 363.8L1299.4 366.1L1301.0 366.4L1302.6 366.4L1304.2 364.9L1305.8 366.6L1307.4 364.9L1309.0 367.1L1310.6 364.7L1312.2 365.6L1313.8 365.4L1315.4 367.1L1317.0 367.0L1318.6 366.3L1320.2 366.4L1321.8 365.7L1323.4 366.7L1325.0 365.2L1326.6 367.2L1328.2 368.0L1329.8 366.6L1331.4 366.6L1333.0 367.1L1334.6 366.5L1336.2 368.1L1337.8 366.2L1339.4 367.0L1341.0 367.6L1342.6 367.8L1344.2 366.7L1345.8 366.3L1347.4 367.8L1349.0 366.4L1350.6 368.3L1352.2 366.2L1353.8 368.5L1355.4 368.4L1357.0 367.6L1358.6 368.7L1360.2 368.4L1361.8 368.2L1363.4 367.2L1365.0 366.8L1366.6 366.9L1368.2 366.8L1369.8 368.4L1371.4 368.5L1373.0 369.1L1374.6 367.7L1376.2 367.7L1377.8 369.0L1379.4 368.8L1381.0 369.3L1382.6 366.8L1384.2 369.3L1385.8 367.9L1387.4 368.9L1389.0 367.4L1390.6 368.3L1392.2 368.8L1393.8 368.8L1395.4 368.7L1397.0 367.1L1398.6 369.3L1400.2 367.1L1401.8 369.1L1403.4 368.4L1405.0 368.6L1406.6 367.5L1408.2 369.0L1409.8 368.9L1411.4 367.6L1413.0 369.4L1414.6 368.1L1416.2 369.2L1417.8 367.6L1419.4 368.0L1421.0 367.5L1422.6 367.1L1424.2 367.4L1425.8 367.4L1427.4 368.4L1429.0 368.3L1430.6 367.3L1432.2 369.4L1433.8 368.7L1435.4 368.4L1437.0 367.8L1438.6 368.1L1440.2 369.4L1441.8 368.2L1443.4 368.4L1445.0 369.5L1446.6 368.1L1448.2 369.3L1449.8 367.3L1451.4 369.0L1453.0 367.4L1454.6 367.8L1456.2 367.4L1457.8 369.4L1459.4 369.5L1461.0 369.2L1462.6 368.5L1464.2 367.5L1465.8 368.6L1467.4 369.6L1469.0 369.1L1470.6 367.2L1472.2 369.8L1473.8 369.7L1475.4 368.8L1477.0 367.3L1478.6 369.2L1480.2 368.9L1481.8 367.3L1483.4 368.5L1485.0 367.4L1486.6 367.5L1488.2 369.1L1489.8 369.4L1491.4 368.2L1493.0 367.8L1494.6 368.1L1496.2 368.0L1497.8 368.9L1499.4 368.1L1501.0 369.8L1502.6 367.5L1504.2 368.0L1505.8 369.1L1507.4 368.6L1509.0 367.7L1510.6 368.5L1512.2 368.2L1513.8 369.6L1515.4 368.1L1517.0 369.2L1518.6 369.3L1520.2 368.6L1521.8 367.6L1523.4 368.9L1525.0 367.8L1526.6 368.1L1528.2 369.9L1529.8 368.0L1531.4 370.0L1533.0 367.9L1534.6 367.6L1536.2 367.6L1537.8 369.7L1539.4 369.8L1541.0 368.2L1542.6 368.4L1544.2 368.4L1545.8 369.2L1547.4 368.3L1549.0 368.7L1550.6 369.2L1552.2 368.2L1553.8 367.9L1555.4 369.2L1557.0 369.2L1558.6 367.5L1560.2 368.6L1561.8 369.7L1563.4 369.0L1565.0 369.2L1566.6 370.0L1568.2 368.0L1569.8 368.5L1571.4 367.9L1573.0 369.8L1574.6 369.0L1576.2 369.7L1577.8 369.2L1579.4 368.3L1581.0 369.3L1582.6 368.2L1584.2 368.8L1585.8 369.1L1587.4 369.5L1589.0 368.1L1590.6 369.4L1592.2 368.8L1593.8 369.1L1595.4 367.7L1597.0 368.8L1598.6 367.7L1600.2 369.0L1601.8 369.5L1603.4 368.4L1605.0 368.5L1606.6 369.0L1608.2 368.8L1609.8 369.9L1611.4 369.6L1613.0 369.2L1614.6 368.3L1616.2 367.5L1617.8 369.1L1619.4 367.9L1621.0 369.2L1622.6 369.0L1624.2 369.6L1625.8 367.5L1627.4 368.6L1629.0 368.2L1630.6 368.2L1632.2 368.0L1633.8 369.4L1635.4 368.5L1637.0 368.7L1638.6 367.6L1640.2 368.7L1641.8 368.9L1643.4 367.6L1645.0 368.1L1646.6 367.9L1648.2 368.6L1649.8 367.4L1651.4 369.8L1653.0 368.2L1654.6 369.6L1656.2 367.3L1657.8 369.1L1659.4 369.5L1661.0 368.3L1662.6 368.1L1664.2 368.7L1665.8 367.9L1667.4 367.7L1669.0 369.5L1670.6 368.8L1672.2 368.4L1673.8 368.3L1675.4 369.1L1677.0 369.0L1678.6 367.8L1680.2 367.8L1681.8 368.1L1683.4 367.1L1685.0 368.1L1686.6 367.3L1688.2 368.7L1689.8 367.8L1691.4 367.8L1693.0 367.5L1694.6 367.6L1696.2 367.5L1697.8 369.2L1699.4 368.1L1701.0 368.3L1702.6 367.7L1704.2 369.3L1705.8 368.4L1707.4 367.3L1709.0 368.6L1710.6 366.8L1712.2 369.4L1713.8 368.7L1715.4 367.3L1717.0 367.9L1718.6 369.1L1720.2 368.8L1721.8 368.8L1723.4 368.2L1725.0 367.2L1726.6 368.4L1728.2 368.2L1729.8 367.1L1731.4 366.8L1733.0 368.0L1734.6 369.0L1736.2 367.5L1737.8 368.3L1739.4 366.9L1741.0 368.9L1742.6 368.9L1744.2 367.4L1745.8 368.5L1747.4 368.5L1749.0 367.7L1750.6 368.8L1752.2 366.7L1753.8 367.3L1755.4 366.8L1757.0 368.7L1758.6 368.4L1760.2 367.1L1761.8 368.2L1763.4 367.8L1765.0 367.9L1766.6 367.5L1768.2 367.9L1769.8 367.9L1771.4 367.3L1773.0 367.4L1774.6 366.8L1776.2 368.0L1777.8 368.5L1779.4 367.0L1781.0 367.9L1782.6 367.4L1784.2 366.8L1785.8 366.5L1787.4 366.4L1789.0 368.3L1790.6 366.7L1792.2 367.1L1793.8 367.7L1795.4 366.8L1797.0 367.8L1798.6 367.5L1800.2 366.9L1801.8 368.1L1803.4 368.0L1805.0 368.8L1806.6 367.1L1808.2 368.3L1809.8 367.9L1811.4 367.7L1813.0 366.3L1814.6 367.0L1816.2 367.4L1817.8 366.4L1819.4 366.5L1821.0 368.4L1822.6 366.5L1824.2 367.7L1825.8 366.8L1827.4 367.6L1829.0 367.2L1830.6 366.9L1832.2 367.4L1833.8 366.9L1835.4 368.6L1837.0 367.4L1838.6 366.5L1840.2 368.1L1841.8 366.6L1843.4 368.1L1845.0 368.2L1846.6 368.6L1848.2 367.5L1849.8 368.1L1851.4 368.2L1853.0 368.3L1854.6 367.7L1856.2 368.5L1857.8 368.1L1859.4 367.1L1861.0 367.1L1862.6 368.3L1864.2 368.5L1865.8 367.1L1867.4 368.5L1869.0 368.2L1870.6 367.9L1872.2 367.0L1873.8 366.8L1875.4 366.8L1877.0 367.9L1878.6 367.3L1880.2 366.7L1881.8 366.5L1883.4 368.2L1885.0 366.6L1886.6 366.5L1888.2 367.4L1889.8 366.2L1891.4 367.1L1893.0 366.6L1894.6 368.3L1896.2 367.5L1897.8 367.3L1899.4 367.3L1901.0 366.1L1902.6 368.2L1904.2 368.5L1905.8 366.0L1907.4 367.5L1909.0 368.1L1910.6 368.2L1912.2 368.5L1913.8 368.4L1915.4 368.3L1917.0 366.4L1918.6 368.6L1920.2 368.6L1921.8 367.7L1923.4 368.3L1925.0 366.7L1926.6 367.1L1928.2 366.3L1929.8 367.2L1931.4 368.6L1933.0 367.8L1934.6 367.2L1936.2 366.8L1937.8 366.5L1939.4 367.1L1941.0 366.7L1942.6 367.2L1944.2 367.5L1945.8 367.0L1947.4 367.5L1949.0 367.0L1950.6 367.3L1952.2 367.2L1953.8 368.1L1955.4 368.3L1957.0 367.5L1958.6 367.9L1960.2 366.7L1961.8 366.4L1963.4 366.8L1965.0 366.3L1966.6 367.9L1968.2 368.3L1969.8 367.6L1971.4 366.5L1973.0 366.3L1974.6 367.9L1976.2 367.4L1977.8 366.3L1979.4 368.5L1981.0 367.9L1982.6 368.4L1984.2 368.5L1985.8 368.0L1987.4 368.3L1989.0 368.4L1990.6 366.3L1992.2 366.8L1993.8 367.3L1995.4 367.6L1997.0 366.3L1998.6 366.6L2000.2 367.9L2001.8 368.4L2003.4 367.1L2005.0 368.3L2006.6 368.2L2008.2 368.2L2009.8 366.4L2011.4 366.9L2013.0 367.6L2014.6 368.0L2016.2 368.0L2017.8 366.2L2019.4 367.6L2021.0 365.9L2022.6 366.7L2024.2 366.0L2025.8 367.2L2027.4 366.2L2029.0 367.6L2030.6 366.9L2032.2 368.0L2033.8 366.7L2035.4 368.5L2037.0 366.2L2038.6 366.1L2040.2 367.2L2041.8 367.2L2043.4 368.1L2045.0 365.9L2046.6 366.3L2048.2 366.5L2049.8 367.0L2051.4 368.0L2053.0 367.6L2054.6 366.5L2056.2 366.9L2057.8 367.9L2059.4 367.3L2061.0 366.2L2062.6 366.8L2064.2 365.9L2065.8 367.1L2067.4 366.5L2069.0 366.7L2070.6 366.8L2072.2 368.1L2073.8 366.1L2075.4 366.1L2077.0 366.2L2078.6 367.0L2080.2 367.0L2081.8 368.3L2083.4 367.8L2085.0 366.6L2086.6 366.2L2088.2 367.3L2089.8 368.1L2091.4 366.5L2093.0 367.9L2094.6 366.8L2096.2 368.4L2097.8 368.4L2099.4 366.3L2101.0 368.0L2102.6 367.4L2104.2 366.9L2105.8 367.2L2107.4 368.3L2109.0 367.1L2110.6 367.4L2112.2 367.2L2113.8 366.0L2115.4 367.9L2117.0 366.2L2118.6 368.2L2120.2 365.9L2121.8 367.4L2123.4 366.6L2125.0 367.7" fill="none" stroke="#FF8000" stroke-width="19" stroke-linejoin="round" stroke-linecap="butt"/><circle cx="2119" cy="367.2" r="9.3" fill="#FF8000"/>
</g>
<circle cx="2122.4" cy="392.7" r="6.4" fill="#FF8000"/>
<line x1="493.0" y1="52.0" x2="493.0" y2="1616.4" stroke="#7F00FF" stroke-width="4.2" stroke-linecap="round" stroke-dasharray="10.20 12.24"/>
<line x1="564.4" y1="56.5" x2="564.4" y2="1616.9" stroke="#7F00FF" stroke-width="3.2" stroke-linecap="round" stroke-dasharray="11.20 11.24"/>
<line x1="617.0" y1="55.1" x2="617.0" y2="1616.4" stroke="#7F00FF" stroke-width="4.2" stroke-linecap="round" stroke-dasharray="10.20 12.24"/>
<line x1="937.0" y1="57.3" x2="937.0" y2="1616.4" stroke="#7F00FF" stroke-width="4.2" stroke-linecap="round" stroke-dasharray="10.20 12.24"/>
<line x1="1190.7" y1="54.6" x2="1190.7" y2="1616.9" stroke="#7F00FF" stroke-width="3.2" stroke-linecap="round" stroke-dasharray="11.20 11.24"/>
<line x1="1365.6" y1="56.9" x2="1365.6" y2="1616.8" stroke="#7F00FF" stroke-width="3.3" stroke-linecap="round" stroke-dasharray="11.10 11.34"/>
<line x1="1507.1" y1="64.3" x2="1507.1" y2="1616.4" stroke="#7F00FF" stroke-width="4.2" stroke-linecap="round" stroke-dasharray="10.20 12.24"/>
<line x1="1542.6" y1="59.6" x2="1542.6" y2="1616.9" stroke="#7F00FF" stroke-width="3.2" stroke-linecap="round" stroke-dasharray="11.20 11.24"/>
<defs><clipPath id="k0"><path clip-rule="evenodd" d="M-20 -120H653.3V60H-20ZM493.70 -20H511.82V3H493.70ZM526.22 -20H543.02V3H526.22Z"/></clipPath><clipPath id="k1"><path clip-rule="evenodd" d="M-20 -120H597.7V60H-20ZM493.70 -20H511.82V3H493.70ZM526.22 -20H543.02V3H526.22Z"/></clipPath><clipPath id="k2"><path clip-rule="evenodd" d="M-20 -120H253.4V60H-20ZM38.18 -20H56.30V3H38.18ZM70.70 -20H87.50V3H70.70ZM93.80 -20H111.91V3H93.80ZM126.32 -20H143.12V3H126.32ZM149.41 -20H167.53V3H149.41ZM181.93 -20H198.73V3H181.93Z"/></clipPath><clipPath id="k3"><path clip-rule="evenodd" d="M-20 -120H253.4V60H-20ZM93.80 -20H111.91V3H93.80ZM126.32 -20H143.12V3H126.32ZM149.41 -20H167.53V3H149.41ZM181.93 -20H198.73V3H181.93Z"/></clipPath><clipPath id="k4"><path clip-rule="evenodd" d="M-20 -120H253.4V60H-20ZM38.18 -20H56.30V3H38.18ZM70.70 -20H87.50V3H70.70Z"/></clipPath><clipPath id="k5"><path clip-rule="evenodd" d="M-20 -120H253.4V60H-20ZM38.18 -20H56.30V3H38.18ZM70.70 -20H87.50V3H70.70ZM149.41 -20H167.53V3H149.41ZM181.93 -20H198.73V3H181.93Z"/></clipPath><clipPath id="k6"><path clip-rule="evenodd" d="M-20 -120H253.4V60H-20ZM38.18 -20H56.30V3H38.18ZM70.70 -20H87.50V3H70.70Z"/></clipPath><clipPath id="k7"><path clip-rule="evenodd" d="M-20 -120H253.4V60H-20ZM38.18 -20H56.30V3H38.18ZM70.70 -20H87.50V3H70.70ZM93.80 -20H111.91V3H93.80ZM126.32 -20H143.12V3H126.32Z"/></clipPath><clipPath id="k8"><path clip-rule="evenodd" d="M-20 -120H253.4V60H-20ZM38.18 -20H56.30V3H38.18ZM70.70 -20H87.50V3H70.70Z"/></clipPath><clipPath id="k9"><path clip-rule="evenodd" d="M-20 -120H253.4V60H-20ZM38.18 -20H56.30V3H38.18ZM70.70 -20H87.50V3H70.70ZM93.80 -20H111.91V3H93.80ZM126.32 -20H143.12V3H126.32Z"/></clipPath><clipPath id="k10"><path clip-rule="evenodd" d="M-20 -120H253.4V60H-20ZM149.41 -20H167.53V3H149.41ZM181.93 -20H198.73V3H181.93Z"/></clipPath></defs>
<text transform="matrix(0.90776 0 0 0.96044 116.85 1747.86)" font-family='"Liberation Sans", Arial, Helvetica, sans-serif' font-weight="700" font-size="100" fill="#000">20</text>
<text transform="matrix(0.91275 0 0 0.96044 676.42 1747.86)" font-family='"Liberation Sans", Arial, Helvetica, sans-serif' font-weight="700" font-size="100" fill="#000">40</text>
<text transform="matrix(0.91237 0 0 0.96044 1236.46 1747.86)" font-family='"Liberation Sans", Arial, Helvetica, sans-serif' font-weight="700" font-size="100" fill="#000">60</text>
<text transform="matrix(0.90520 0 0 0.96044 1797.83 1747.86)" font-family='"Liberation Sans", Arial, Helvetica, sans-serif' font-weight="700" font-size="100" fill="#000">80</text>
<text transform="matrix(0.76382 0 0 0.82705 1918.20 297.00)" font-family='"Liberation Sans", Arial, Helvetica, sans-serif' font-weight="700" font-size="100" fill="#FF8000">AIZS</text>
<g transform="matrix(0.75953 0 0 0.82850 1614.24 562.00)" clip-path="url(#k0)" font-family='"Liberation Sans", Arial, Helvetica, sans-serif' font-weight="700" font-size="100" fill="#008000"><text x="0.00">ZnO/AIZS</text><text transform="translate(460.50 0) scale(0.855 0.955) translate(-4.98 0)">(</text><text x="488.82">10</text><text transform="translate(628.37 0) scale(0.855 0.955) translate(-28.32 0)">)</text></g>
<g transform="matrix(0.75767 0 0 0.82850 1661.44 808.20)" font-family='"Liberation Sans", Arial, Helvetica, sans-serif' font-weight="700" font-size="100" fill="#FF0080"><text x="0.00">ZnO/AIZS</text><text transform="translate(460.50 0) scale(0.855 0.955) translate(-4.98 0)">(</text><text x="488.82">5</text><text transform="translate(572.75 0) scale(0.855 0.955) translate(-28.32 0)">)</text></g>
<g transform="matrix(0.75872 0 0 0.82850 1666.44 1078.20)" font-family='"Liberation Sans", Arial, Helvetica, sans-serif' font-weight="700" font-size="100" fill="#0000FF"><text x="0.00">ZnO/AIZS</text><text transform="translate(460.50 0) scale(0.855 0.955) translate(-4.98 0)">(</text><text x="488.82">2</text><text transform="translate(572.75 0) scale(0.855 0.955) translate(-28.32 0)">)</text></g>
<g transform="matrix(0.76135 0 0 0.82850 1656.73 1331.40)" clip-path="url(#k1)" font-family='"Liberation Sans", Arial, Helvetica, sans-serif' font-weight="700" font-size="100" fill="#FF0000"><text x="0.00">ZnO/AIZS</text><text transform="translate(460.50 0) scale(0.855 0.955) translate(-4.98 0)">(</text><text x="488.82">1</text><text transform="translate(572.75 0) scale(0.855 0.955) translate(-28.32 0)">)</text></g>
<text transform="matrix(0.78123 0 0 0.82705 1944.47 1568.90)" font-family='"Liberation Sans", Arial, Helvetica, sans-serif' font-weight="700" font-size="100" fill="#000">ZnO</text>
<g><text transform="matrix(1.16732 0 0 1.21734 792.85 1854.90)" font-family='"Liberation Sans", Arial, Helvetica, sans-serif' font-weight="700" font-size="100" fill="#000">2</text><text transform="matrix(1.28577 0 0 1.11427 852.27 1855.81)" font-family='"Liberation Serif", "Times New Roman", serif' font-weight="400" font-size="100" fill="#000">θ </text><text transform="matrix(1.21868 0 0 0.99588 938.24 1854.80)" font-family='"Liberation Serif", "Times New Roman", serif' font-weight="400" font-size="100" fill="#000">(</text><text transform="matrix(1.15227 0 0 1.16708 974.07 1854.47)" font-family='"Liberation Sans", Arial, Helvetica, sans-serif' font-weight="700" font-size="100" fill="#000">degree</text><text transform="matrix(1.21868 0 0 0.99588 1344.87 1854.80)" font-family='"Liberation Serif", "Times New Roman", serif' font-weight="400" font-size="100" fill="#000">)</text></g>
<g transform="translate(105.90 1250.65) rotate(-90) scale(1.18875 1.21078)" font-family='"Liberation Sans", Arial, Helvetica, sans-serif' font-weight="700" font-size="100" fill="#000"><text x="0.00">Intensity </text><text transform="translate(443.95 0) scale(0.855 0.955) translate(-4.98 0)">(</text><text x="472.27">a.u.</text><text transform="translate(672.85 0) scale(0.855 0.955) translate(-28.32 0)">)</text></g>
<g transform="translate(394.05 196.07) rotate(-90) scale(0.59579 0.61193)" clip-path="url(#k2)" font-family='"Liberation Sans", Arial, Helvetica, sans-serif' font-weight="700" font-size="100" fill="#000"><text transform="translate(4.98 0) scale(0.855 0.955) translate(-4.98 0)">(</text><text x="33.30">111</text><text transform="translate(228.47 0) scale(0.855 0.955) translate(-28.32 0)">)</text></g>
<g transform="translate(926.04 291.35) rotate(-90) scale(0.59310 0.61178)" font-family='"Liberation Sans", Arial, Helvetica, sans-serif' font-weight="700" font-size="100" fill="#000"><text transform="translate(4.98 0) scale(0.855 0.955) translate(-4.98 0)">(</text><text x="33.30">220</text><text transform="translate(228.47 0) scale(0.855 0.955) translate(-28.32 0)">)</text></g>
<g transform="translate(1153.10 312.84) rotate(-90) scale(0.59109 0.61338)" clip-path="url(#k3)" font-family='"Liberation Sans", Arial, Helvetica, sans-serif' font-weight="700" font-size="100" fill="#000"><text transform="translate(4.98 0) scale(0.855 0.955) translate(-4.98 0)">(</text><text x="33.30">311</text><text transform="translate(228.47 0) scale(0.855 0.955) translate(-28.32 0)">)</text></g>
<g transform="translate(468.10 1512.95) rotate(-90) scale(0.59198 0.61193)" clip-path="url(#k4)" font-family='"Liberation Sans", Arial, Helvetica, sans-serif' font-weight="700" font-size="100" fill="#000"><text transform="translate(4.98 0) scale(0.855 0.955) translate(-4.98 0)">(</text><text x="33.30">100</text><text transform="translate(228.47 0) scale(0.855 0.955) translate(-28.32 0)">)</text></g>
<g transform="translate(588.30 1505.74) rotate(-90) scale(0.58975 0.61193)" font-family='"Liberation Sans", Arial, Helvetica, sans-serif' font-weight="700" font-size="100" fill="#000"><text transform="translate(4.98 0) scale(0.855 0.955) translate(-4.98 0)">(</text><text x="33.30">002</text><text transform="translate(228.47 0) scale(0.855 0.955) translate(-28.32 0)">)</text></g>
<g transform="translate(687.30 1515.15) rotate(-90) scale(0.59154 0.61193)" clip-path="url(#k5)" font-family='"Liberation Sans", Arial, Helvetica, sans-serif' font-weight="700" font-size="100" fill="#000"><text transform="translate(4.98 0) scale(0.855 0.955) translate(-4.98 0)">(</text><text x="33.30">101</text><text transform="translate(228.47 0) scale(0.855 0.955) translate(-28.32 0)">)</text></g>
<g transform="translate(954.90 1550.07) rotate(-90) scale(0.59556 0.61193)" clip-path="url(#k6)" font-family='"Liberation Sans", Arial, Helvetica, sans-serif' font-weight="700" font-size="100" fill="#000"><text transform="translate(4.98 0) scale(0.855 0.955) translate(-4.98 0)">(</text><text x="33.30">102</text><text transform="translate(228.47 0) scale(0.855 0.955) translate(-28.32 0)">)</text></g>
<g transform="translate(1204.90 1495.17) rotate(-90) scale(0.59556 0.61193)" clip-path="url(#k7)" font-family='"Liberation Sans", Arial, Helvetica, sans-serif' font-weight="700" font-size="100" fill="#000"><text transform="translate(4.98 0) scale(0.855 0.955) translate(-4.98 0)">(</text><text x="33.30">110</text><text transform="translate(228.47 0) scale(0.855 0.955) translate(-28.32 0)">)</text></g>
<g transform="translate(1386.10 1532.97) rotate(-90) scale(0.59556 0.61193)" clip-path="url(#k8)" font-family='"Liberation Sans", Arial, Helvetica, sans-serif' font-weight="700" font-size="100" fill="#000"><text transform="translate(4.98 0) scale(0.855 0.955) translate(-4.98 0)">(</text><text x="33.30">103</text><text transform="translate(228.47 0) scale(0.855 0.955) translate(-28.32 0)">)</text></g>
<g transform="translate(1470.30 1577.87) rotate(-90) scale(0.59556 0.61193)" font-family='"Liberation Sans", Arial, Helvetica, sans-serif' font-weight="700" font-size="100" fill="#000"><text transform="translate(4.98 0) scale(0.855 0.955) translate(-4.98 0)">(</text><text x="33.30">200</text><text transform="translate(228.47 0) scale(0.855 0.955) translate(-28.32 0)">)</text></g>
<g transform="translate(1527.10 1537.15) rotate(-90) scale(0.59198 0.61193)" clip-path="url(#k9)" font-family='"Liberation Sans", Arial, Helvetica, sans-serif' font-weight="700" font-size="100" fill="#000"><text transform="translate(4.98 0) scale(0.855 0.955) translate(-4.98 0)">(</text><text x="33.30">112</text><text transform="translate(228.47 0) scale(0.855 0.955) translate(-28.32 0)">)</text></g>
<g transform="translate(1592.40 1568.97) rotate(-90) scale(0.59556 0.61193)" clip-path="url(#k10)" font-family='"Liberation Sans", Arial, Helvetica, sans-serif' font-weight="700" font-size="100" fill="#000"><text transform="translate(4.98 0) scale(0.855 0.955) translate(-4.98 0)">(</text><text x="33.30">201</text><text transform="translate(228.47 0) scale(0.855 0.955) translate(-28.32 0)">)</text></g>
</svg>
</body></html>
